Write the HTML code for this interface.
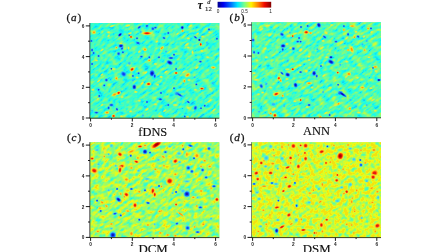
<!DOCTYPE html>
<html lang="en"><head><meta charset="utf-8"><title>Figure</title>
<style>
html,body{margin:0;padding:0;background:#fff;overflow:hidden}
body{width:448px;height:252px}
svg{display:block}
text{fill:#111}
.tk{font-family:"Liberation Sans",sans-serif;font-size:4.7px;font-weight:bold;fill:#222}
.cb{font-family:"Liberation Sans",sans-serif;font-size:4.7px;fill:#222}
.tau{font-family:"Liberation Serif",serif;font-style:italic;font-weight:bold;font-size:12px}
.sup{font-family:"Liberation Serif",serif;font-style:italic;font-size:6.4px;stroke:#111;stroke-width:0.12px}
.sub{font-family:"Liberation Serif",serif;font-size:6.8px;stroke:#111;stroke-width:0.12px}
.pl{font-family:"Liberation Serif",serif;font-size:11.2px;letter-spacing:0.9px;stroke:#111;stroke-width:0.26px}
.it{font-style:italic}
.tt{font-family:"Liberation Serif",serif;font-size:12.4px;stroke:#111;stroke-width:0.15px}
</style></head><body>
<svg width="448" height="252" viewBox="0 0 448 252">
<defs>
<filter id="bl" x="-5%" y="-5%" width="110%" height="110%"><feGaussianBlur stdDeviation="0.55"/></filter>
<linearGradient id="jet" x1="0" x2="1" y1="0" y2="0"><stop offset="0" stop-color="#00008c"/><stop offset="0.11" stop-color="#0000f0"/><stop offset="0.25" stop-color="#0070ff"/><stop offset="0.375" stop-color="#00e8ff"/><stop offset="0.5" stop-color="#78ff88"/><stop offset="0.625" stop-color="#fff400"/><stop offset="0.76" stop-color="#ff7c00"/><stop offset="0.875" stop-color="#f00800"/><stop offset="1" stop-color="#840000"/></linearGradient>
<filter id="txa" x="0" y="0" width="100%" height="100%" color-interpolation-filters="sRGB"><feTurbulence type="fractalNoise" baseFrequency="0.17 0.38" numOctaves="3" seed="11"/><feColorMatrix type="matrix" values="1 0 0 0 0 1 0 0 0 0 1 0 0 0 0 0 0 0 0 1"/><feComponentTransfer><feFuncR type="table" tableValues="0.07 0.07 0.07 0.07 0.07 0.07 0.07 0.07 0.07 0.07 0.07 0.07 0.07 0.07 0.07 0.09 0.12 0.15 0.19 0.22 0.25 0.29 0.32 0.35 0.39 0.42 0.45 0.49 0.52 0.55 0.59 0.62 0.65 0.69 0.72 0.75 0.79 0.82 0.85 0.89 0.92"/><feFuncG type="table" tableValues="0.72 0.72 0.72 0.72 0.72 0.72 0.72 0.74 0.77 0.81 0.84 0.87 0.91 0.94 0.97 0.99 0.99 0.99 0.99 0.99 0.99 0.99 0.99 0.99 0.99 0.99 0.99 0.99 0.99 0.99 0.99 0.99 0.99 0.99 0.99 0.99 0.99 0.99 0.99 0.99 0.99"/><feFuncB type="table" tableValues="0.95 0.95 0.95 0.95 0.95 0.95 0.95 0.95 0.95 0.95 0.95 0.95 0.95 0.95 0.95 0.93 0.89 0.86 0.83 0.79 0.76 0.73 0.69 0.66 0.63 0.59 0.56 0.53 0.49 0.46 0.43 0.39 0.36 0.32 0.29 0.26 0.22 0.19 0.16 0.12 0.09"/></feComponentTransfer></filter>
<clipPath id="cpa"><rect x="90" y="23" width="129.3" height="95.2"/></clipPath>
<filter id="txb" x="0" y="0" width="100%" height="100%" color-interpolation-filters="sRGB"><feTurbulence type="fractalNoise" baseFrequency="0.17 0.38" numOctaves="3" seed="23"/><feColorMatrix type="matrix" values="1 0 0 0 0 1 0 0 0 0 1 0 0 0 0 0 0 0 0 1"/><feComponentTransfer><feFuncR type="table" tableValues="0.07 0.07 0.07 0.07 0.07 0.07 0.07 0.07 0.07 0.07 0.07 0.07 0.07 0.07 0.10 0.14 0.18 0.21 0.25 0.29 0.32 0.36 0.40 0.43 0.47 0.51 0.54 0.58 0.62 0.66 0.69 0.73 0.77 0.80 0.84 0.88 0.91 0.95 0.95 0.95 0.95"/><feFuncG type="table" tableValues="0.72 0.72 0.72 0.72 0.72 0.72 0.73 0.76 0.80 0.84 0.88 0.91 0.95 0.99 0.99 0.99 0.99 0.99 0.99 0.99 0.99 0.99 0.99 0.99 0.99 0.99 0.99 0.99 0.99 0.99 0.99 0.99 0.99 0.99 0.99 0.99 0.99 0.98 0.95 0.94 0.94"/><feFuncB type="table" tableValues="0.95 0.95 0.95 0.95 0.95 0.95 0.95 0.95 0.95 0.95 0.95 0.95 0.95 0.95 0.91 0.87 0.84 0.80 0.76 0.73 0.69 0.65 0.62 0.58 0.54 0.50 0.47 0.43 0.39 0.36 0.32 0.28 0.25 0.21 0.17 0.13 0.10 0.07 0.07 0.07 0.07"/></feComponentTransfer></filter>
<clipPath id="cpb"><rect x="251.7" y="22.2" width="129.3" height="95.6"/></clipPath>
<filter id="txc" x="0" y="0" width="100%" height="100%" color-interpolation-filters="sRGB"><feTurbulence type="fractalNoise" baseFrequency="0.17 0.34" numOctaves="3" seed="37"/><feColorMatrix type="matrix" values="1 0 0 0 0 1 0 0 0 0 1 0 0 0 0 0 0 0 0 1"/><feComponentTransfer><feFuncR type="table" tableValues="0.07 0.07 0.07 0.07 0.07 0.07 0.07 0.07 0.10 0.15 0.19 0.23 0.28 0.32 0.37 0.41 0.45 0.50 0.54 0.59 0.63 0.67 0.72 0.76 0.81 0.85 0.89 0.94 0.95 0.95 0.95 0.95 0.95 0.95 0.95 0.95 0.95 0.95 0.95 0.95 0.95"/><feFuncG type="table" tableValues="0.94 0.94 0.94 0.94 0.94 0.94 0.94 0.98 0.99 0.99 0.99 0.99 0.99 0.99 0.99 0.99 0.99 0.99 0.99 0.99 0.99 0.99 0.99 0.99 0.99 0.99 0.99 0.99 0.95 0.91 0.86 0.83 0.83 0.83 0.83 0.83 0.83 0.83 0.83 0.83 0.83"/><feFuncB type="table" tableValues="0.95 0.95 0.95 0.95 0.95 0.95 0.95 0.95 0.91 0.87 0.82 0.78 0.73 0.69 0.65 0.60 0.56 0.51 0.47 0.43 0.38 0.34 0.29 0.25 0.21 0.16 0.12 0.07 0.07 0.07 0.07 0.07 0.07 0.07 0.07 0.07 0.07 0.07 0.07 0.07 0.07"/></feComponentTransfer></filter>
<clipPath id="cpc"><rect x="90" y="142.2" width="129.3" height="95.4"/></clipPath>
<filter id="txd" x="0" y="0" width="100%" height="100%" color-interpolation-filters="sRGB"><feTurbulence type="fractalNoise" baseFrequency="0.23 0.3" numOctaves="3" seed="41"/><feColorMatrix type="matrix" values="1 0 0 0 0 1 0 0 0 0 1 0 0 0 0 0 0 0 0 1"/><feComponentTransfer><feFuncR type="table" tableValues="0.26 0.26 0.26 0.26 0.26 0.26 0.26 0.26 0.29 0.34 0.38 0.43 0.47 0.51 0.56 0.60 0.65 0.69 0.73 0.78 0.82 0.87 0.91 0.95 0.95 0.95 0.95 0.95 0.95 0.95 0.95 0.95 0.95 0.95 0.95 0.95 0.95 0.95 0.95 0.95 0.95"/><feFuncG type="table" tableValues="0.99 0.99 0.99 0.99 0.99 0.99 0.99 0.99 0.99 0.99 0.99 0.99 0.99 0.99 0.99 0.99 0.99 0.99 0.99 0.99 0.99 0.99 0.99 0.98 0.94 0.89 0.89 0.89 0.89 0.89 0.89 0.89 0.89 0.89 0.89 0.89 0.89 0.89 0.89 0.89 0.89"/><feFuncB type="table" tableValues="0.75 0.75 0.75 0.75 0.75 0.75 0.75 0.75 0.72 0.67 0.63 0.59 0.54 0.50 0.45 0.41 0.37 0.32 0.28 0.23 0.19 0.15 0.10 0.07 0.07 0.07 0.07 0.07 0.07 0.07 0.07 0.07 0.07 0.07 0.07 0.07 0.07 0.07 0.07 0.07 0.07"/></feComponentTransfer></filter>
<clipPath id="cpd"><rect x="251.7" y="142.2" width="129.3" height="95.4"/></clipPath>
</defs>
<rect width="448" height="252" fill="#fff"/>
<g clip-path="url(#cpa)">
<rect x="88" y="21" width="133.3" height="99.2" fill="#48e8d0"/>
<g transform="rotate(-35 154.7 70.6)"><rect x="54.7" y="-29.4" width="200" height="200" filter="url(#txa)"/></g>
<g filter="url(#bl)" transform="translate(90 23)">
<ellipse cx="4" cy="9.3" rx="2" ry="2" fill="#d0f250" opacity="0.6"/>
<ellipse cx="4" cy="9.3" rx="1.5" ry="1.5" fill="#ffe41c" opacity="0.95"/>
<ellipse cx="4" cy="9.3" rx="0.9" ry="0.9" fill="#ff9410"/>
<ellipse cx="18.6" cy="9.3" rx="1.8" ry="1.2" fill="#b4f268" opacity="0.6"/>
<ellipse cx="18.6" cy="9.3" rx="1.2" ry="0.8" fill="#f0f030" opacity="0.95"/>
<ellipse cx="18.6" cy="12.9" rx="1.8" ry="0.9" fill="#b4f268" opacity="0.6" transform="rotate(-35 18.6 12.9)"/>
<ellipse cx="18.6" cy="12.9" rx="1.2" ry="0.7" fill="#f0f030" opacity="0.95" transform="rotate(-35 18.6 12.9)"/>
<ellipse cx="22" cy="3" rx="3" ry="0.9" fill="#b4f268" opacity="0.6" transform="rotate(-20 22 3)"/>
<ellipse cx="22" cy="3" rx="2" ry="0.7" fill="#f0f030" opacity="0.95" transform="rotate(-20 22 3)"/>
<ellipse cx="38" cy="2.5" rx="3" ry="1.2" fill="#b4f268" opacity="0.6" transform="rotate(-15 38 2.5)"/>
<ellipse cx="38" cy="2.5" rx="2" ry="0.8" fill="#f0f030" opacity="0.95" transform="rotate(-15 38 2.5)"/>
<ellipse cx="30" cy="11.7" rx="2.9" ry="1.4" fill="#38d0f4" opacity="0.7" transform="rotate(-40 30 11.7)"/>
<ellipse cx="30" cy="11.7" rx="2.2" ry="1.1" fill="#1870ff" opacity="0.95" transform="rotate(-40 30 11.7)"/>
<ellipse cx="30" cy="11.7" rx="1.5" ry="0.8" fill="#0c28e0" transform="rotate(-40 30 11.7)"/>
<ellipse cx="30" cy="11.7" rx="0.8" ry="0.7" fill="#0810b0" transform="rotate(-40 30 11.7)"/>
<ellipse cx="39.3" cy="12.1" rx="1.4" ry="1" fill="#38d0f4" opacity="0.7"/>
<ellipse cx="39.3" cy="12.1" rx="0.9" ry="0.7" fill="#1c84ff" opacity="0.95"/>
<ellipse cx="39.3" cy="12.1" rx="0.7" ry="0.7" fill="#1040f0"/>
<ellipse cx="41" cy="13.9" rx="1.8" ry="1.4" fill="#d8f24c" opacity="0.6"/>
<ellipse cx="41" cy="13.9" rx="1.4" ry="1.1" fill="#ffdc1c" opacity="0.95"/>
<ellipse cx="41" cy="13.9" rx="1.1" ry="0.8" fill="#ff7a10"/>
<ellipse cx="41" cy="13.9" rx="0.7" ry="0.7" fill="#ea1408"/>
<ellipse cx="40" cy="10.3" rx="2.4" ry="0.9" fill="#b4f268" opacity="0.6" transform="rotate(-20 40 10.3)"/>
<ellipse cx="40" cy="10.3" rx="1.6" ry="0.7" fill="#f0f030" opacity="0.95" transform="rotate(-20 40 10.3)"/>
<ellipse cx="57" cy="10.3" rx="5.8" ry="1.8" fill="#d8f24c" opacity="0.6"/>
<ellipse cx="57" cy="10.3" rx="4.6" ry="1.4" fill="#ffdc1c" opacity="0.95"/>
<ellipse cx="57" cy="10.3" rx="3.4" ry="1.1" fill="#ff7a10"/>
<ellipse cx="57" cy="10.3" rx="2.2" ry="0.7" fill="#ea1408"/>
<ellipse cx="49.3" cy="4.3" rx="2.7" ry="1.4" fill="#38d0f4" opacity="0.7" transform="rotate(-35 49.3 4.3)"/>
<ellipse cx="49.3" cy="4.3" rx="1.9" ry="0.9" fill="#1c84ff" opacity="0.95" transform="rotate(-35 49.3 4.3)"/>
<ellipse cx="49.3" cy="4.3" rx="1.1" ry="0.7" fill="#1040f0" transform="rotate(-35 49.3 4.3)"/>
<ellipse cx="57" cy="2.9" rx="2" ry="1.4" fill="#38d0f4" opacity="0.7" transform="rotate(-20 57 2.9)"/>
<ellipse cx="57" cy="2.9" rx="1.4" ry="0.9" fill="#1c84ff" opacity="0.95" transform="rotate(-20 57 2.9)"/>
<ellipse cx="57" cy="2.9" rx="0.8" ry="0.7" fill="#1040f0" transform="rotate(-20 57 2.9)"/>
<ellipse cx="62.9" cy="5.7" rx="2" ry="2" fill="#38d0f4" opacity="0.7"/>
<ellipse cx="62.9" cy="5.7" rx="1.4" ry="1.4" fill="#1c84ff" opacity="0.95"/>
<ellipse cx="62.9" cy="5.7" rx="0.8" ry="0.8" fill="#1040f0"/>
<ellipse cx="50.7" cy="8.9" rx="1.1" ry="1.1" fill="#3cd4f4" opacity="0.7"/>
<ellipse cx="50.7" cy="8.9" rx="0.8" ry="0.8" fill="#2cb4ff" opacity="0.9"/>
<ellipse cx="47" cy="15.3" rx="1.4" ry="1.4" fill="#38d0f4" opacity="0.7"/>
<ellipse cx="47" cy="15.3" rx="0.9" ry="0.9" fill="#1c84ff" opacity="0.95"/>
<ellipse cx="47" cy="15.3" rx="0.7" ry="0.7" fill="#1040f0"/>
<ellipse cx="47.9" cy="20" rx="2.7" ry="1.4" fill="#38d0f4" opacity="0.7" transform="rotate(10 47.9 20)"/>
<ellipse cx="47.9" cy="20" rx="1.9" ry="0.9" fill="#1c84ff" opacity="0.95" transform="rotate(10 47.9 20)"/>
<ellipse cx="47.9" cy="20" rx="1.1" ry="0.7" fill="#1040f0" transform="rotate(10 47.9 20)"/>
<ellipse cx="1.4" cy="17.9" rx="1.4" ry="1.4" fill="#38d0f4" opacity="0.7"/>
<ellipse cx="1.4" cy="17.9" rx="0.9" ry="0.9" fill="#1c84ff" opacity="0.95"/>
<ellipse cx="1.4" cy="17.9" rx="0.7" ry="0.7" fill="#1040f0"/>
<ellipse cx="31" cy="22.9" rx="2.9" ry="2.2" fill="#38d0f4" opacity="0.7"/>
<ellipse cx="31" cy="22.9" rx="2.2" ry="1.7" fill="#1870ff" opacity="0.95"/>
<ellipse cx="31" cy="22.9" rx="1.5" ry="1.1" fill="#0c28e0"/>
<ellipse cx="31" cy="22.9" rx="0.8" ry="0.7" fill="#0810b0"/>
<ellipse cx="32" cy="25.5" rx="1.4" ry="2" fill="#38d0f4" opacity="0.7" transform="rotate(20 32 25.5)"/>
<ellipse cx="32" cy="25.5" rx="0.9" ry="1.4" fill="#1c84ff" opacity="0.95" transform="rotate(20 32 25.5)"/>
<ellipse cx="32" cy="25.5" rx="0.7" ry="0.8" fill="#1040f0" transform="rotate(20 32 25.5)"/>
<ellipse cx="30.7" cy="20.4" rx="1.8" ry="0.9" fill="#b4f268" opacity="0.6"/>
<ellipse cx="30.7" cy="20.4" rx="1.2" ry="0.7" fill="#f0f030" opacity="0.95"/>
<ellipse cx="26.4" cy="24.6" rx="1.4" ry="1.4" fill="#d0f250" opacity="0.6"/>
<ellipse cx="26.4" cy="24.6" rx="1" ry="1" fill="#ffe41c" opacity="0.95"/>
<ellipse cx="26.4" cy="24.6" rx="0.7" ry="0.7" fill="#ff9410"/>
<ellipse cx="38.6" cy="25" rx="1.2" ry="1.8" fill="#b4f268" opacity="0.6"/>
<ellipse cx="38.6" cy="25" rx="0.8" ry="1.2" fill="#f0f030" opacity="0.95"/>
<ellipse cx="2.1" cy="27.1" rx="1.4" ry="2" fill="#38d0f4" opacity="0.7"/>
<ellipse cx="2.1" cy="27.1" rx="0.9" ry="1.4" fill="#1c84ff" opacity="0.95"/>
<ellipse cx="2.1" cy="27.1" rx="0.7" ry="0.8" fill="#1040f0"/>
<ellipse cx="3.6" cy="30" rx="1.4" ry="1.4" fill="#38d0f4" opacity="0.7"/>
<ellipse cx="3.6" cy="30" rx="0.9" ry="0.9" fill="#1c84ff" opacity="0.95"/>
<ellipse cx="3.6" cy="30" rx="0.7" ry="0.7" fill="#1040f0"/>
<ellipse cx="8.6" cy="33" rx="1.4" ry="1.4" fill="#38d0f4" opacity="0.7"/>
<ellipse cx="8.6" cy="33" rx="0.9" ry="0.9" fill="#1c84ff" opacity="0.95"/>
<ellipse cx="8.6" cy="33" rx="0.7" ry="0.7" fill="#1040f0"/>
<ellipse cx="28.6" cy="30.7" rx="2" ry="2" fill="#38d0f4" opacity="0.7"/>
<ellipse cx="28.6" cy="30.7" rx="1.4" ry="1.4" fill="#1c84ff" opacity="0.95"/>
<ellipse cx="28.6" cy="30.7" rx="0.8" ry="0.8" fill="#1040f0"/>
<ellipse cx="32.9" cy="29.3" rx="1.4" ry="1.4" fill="#38d0f4" opacity="0.7"/>
<ellipse cx="32.9" cy="29.3" rx="0.9" ry="0.9" fill="#1c84ff" opacity="0.95"/>
<ellipse cx="32.9" cy="29.3" rx="0.7" ry="0.7" fill="#1040f0"/>
<ellipse cx="55" cy="26.4" rx="2" ry="2" fill="#d0f250" opacity="0.6"/>
<ellipse cx="55" cy="26.4" rx="1.5" ry="1.5" fill="#ffe41c" opacity="0.95"/>
<ellipse cx="55" cy="26.4" rx="0.9" ry="0.9" fill="#ff9410"/>
<ellipse cx="49.3" cy="28.6" rx="1.8" ry="1.2" fill="#b4f268" opacity="0.6" transform="rotate(-35 49.3 28.6)"/>
<ellipse cx="49.3" cy="28.6" rx="1.2" ry="0.8" fill="#f0f030" opacity="0.95" transform="rotate(-35 49.3 28.6)"/>
<ellipse cx="51.4" cy="33.6" rx="2" ry="1.4" fill="#38d0f4" opacity="0.7"/>
<ellipse cx="51.4" cy="33.6" rx="1.4" ry="0.9" fill="#1c84ff" opacity="0.95"/>
<ellipse cx="51.4" cy="33.6" rx="0.8" ry="0.7" fill="#1040f0"/>
<ellipse cx="59.3" cy="34.3" rx="1.4" ry="1.4" fill="#38d0f4" opacity="0.7"/>
<ellipse cx="59.3" cy="34.3" rx="0.9" ry="0.9" fill="#1c84ff" opacity="0.95"/>
<ellipse cx="59.3" cy="34.3" rx="0.7" ry="0.7" fill="#1040f0"/>
<ellipse cx="12" cy="27" rx="2.4" ry="0.9" fill="#b4f268" opacity="0.6" transform="rotate(-35 12 27)"/>
<ellipse cx="12" cy="27" rx="1.6" ry="0.7" fill="#f0f030" opacity="0.95" transform="rotate(-35 12 27)"/>
<ellipse cx="65.4" cy="4.6" rx="2" ry="1.4" fill="#38d0f4" opacity="0.7"/>
<ellipse cx="65.4" cy="4.6" rx="1.4" ry="0.9" fill="#1c84ff" opacity="0.95"/>
<ellipse cx="65.4" cy="4.6" rx="0.8" ry="0.7" fill="#1040f0"/>
<ellipse cx="92.3" cy="4.6" rx="1.8" ry="2.2" fill="#38d0f4" opacity="0.7"/>
<ellipse cx="92.3" cy="4.6" rx="1.4" ry="1.7" fill="#1870ff" opacity="0.95"/>
<ellipse cx="92.3" cy="4.6" rx="0.9" ry="1.1" fill="#0c28e0"/>
<ellipse cx="92.3" cy="4.6" rx="0.7" ry="0.7" fill="#0810b0"/>
<ellipse cx="92.6" cy="7.9" rx="1.4" ry="1" fill="#d0f250" opacity="0.6"/>
<ellipse cx="92.6" cy="7.9" rx="1" ry="0.8" fill="#ffe41c" opacity="0.95"/>
<ellipse cx="92.6" cy="7.9" rx="0.7" ry="0.7" fill="#ff9410"/>
<ellipse cx="100.4" cy="3.1" rx="3" ry="0.9" fill="#b4f268" opacity="0.6" transform="rotate(-30 100.4 3.1)"/>
<ellipse cx="100.4" cy="3.1" rx="2" ry="0.7" fill="#f0f030" opacity="0.95" transform="rotate(-30 100.4 3.1)"/>
<ellipse cx="78.3" cy="10" rx="1.4" ry="1.4" fill="#38d0f4" opacity="0.7"/>
<ellipse cx="78.3" cy="10" rx="0.9" ry="0.9" fill="#1c84ff" opacity="0.95"/>
<ellipse cx="78.3" cy="10" rx="0.7" ry="0.7" fill="#1040f0"/>
<ellipse cx="74" cy="15" rx="2" ry="1.4" fill="#38d0f4" opacity="0.7" transform="rotate(30 74 15)"/>
<ellipse cx="74" cy="15" rx="1.4" ry="0.9" fill="#1c84ff" opacity="0.95" transform="rotate(30 74 15)"/>
<ellipse cx="74" cy="15" rx="0.8" ry="0.7" fill="#1040f0" transform="rotate(30 74 15)"/>
<ellipse cx="119" cy="6.4" rx="1.4" ry="1.4" fill="#38d0f4" opacity="0.7"/>
<ellipse cx="119" cy="6.4" rx="0.9" ry="0.9" fill="#1c84ff" opacity="0.95"/>
<ellipse cx="119" cy="6.4" rx="0.7" ry="0.7" fill="#1040f0"/>
<ellipse cx="119.7" cy="9.3" rx="1.8" ry="1.2" fill="#b4f268" opacity="0.6"/>
<ellipse cx="119.7" cy="9.3" rx="1.2" ry="0.8" fill="#f0f030" opacity="0.95"/>
<ellipse cx="107.6" cy="10.7" rx="1.8" ry="0.9" fill="#b4f268" opacity="0.6" transform="rotate(-35 107.6 10.7)"/>
<ellipse cx="107.6" cy="10.7" rx="1.2" ry="0.7" fill="#f0f030" opacity="0.95" transform="rotate(-35 107.6 10.7)"/>
<ellipse cx="105.4" cy="14.3" rx="2.7" ry="1" fill="#38d0f4" opacity="0.7" transform="rotate(35 105.4 14.3)"/>
<ellipse cx="105.4" cy="14.3" rx="1.9" ry="0.7" fill="#1c84ff" opacity="0.95" transform="rotate(35 105.4 14.3)"/>
<ellipse cx="105.4" cy="14.3" rx="1.1" ry="0.7" fill="#1040f0" transform="rotate(35 105.4 14.3)"/>
<ellipse cx="109.4" cy="16.9" rx="1.4" ry="1.4" fill="#38d0f4" opacity="0.7"/>
<ellipse cx="109.4" cy="16.9" rx="1.1" ry="1.1" fill="#1870ff" opacity="0.95"/>
<ellipse cx="109.4" cy="16.9" rx="0.8" ry="0.8" fill="#0c28e0"/>
<ellipse cx="109.4" cy="16.9" rx="0.7" ry="0.7" fill="#0810b0"/>
<ellipse cx="110.7" cy="21.4" rx="1.4" ry="2.2" fill="#d8f24c" opacity="0.6"/>
<ellipse cx="110.7" cy="21.4" rx="1.1" ry="1.7" fill="#ffdc1c" opacity="0.95"/>
<ellipse cx="110.7" cy="21.4" rx="0.8" ry="1.3" fill="#ff7a10"/>
<ellipse cx="110.7" cy="21.4" rx="0.7" ry="0.8" fill="#ea1408"/>
<ellipse cx="98.3" cy="15.4" rx="1.8" ry="1.2" fill="#b4f268" opacity="0.6"/>
<ellipse cx="98.3" cy="15.4" rx="1.2" ry="0.8" fill="#f0f030" opacity="0.95"/>
<ellipse cx="96.9" cy="21.4" rx="3" ry="1.2" fill="#b4f268" opacity="0.6" transform="rotate(-35 96.9 21.4)"/>
<ellipse cx="96.9" cy="21.4" rx="2" ry="0.8" fill="#f0f030" opacity="0.95" transform="rotate(-35 96.9 21.4)"/>
<ellipse cx="98.3" cy="24.6" rx="1.8" ry="1.2" fill="#b4f268" opacity="0.6"/>
<ellipse cx="98.3" cy="24.6" rx="1.2" ry="0.8" fill="#f0f030" opacity="0.95"/>
<ellipse cx="71.9" cy="25" rx="2.7" ry="1.4" fill="#d0f250" opacity="0.6" transform="rotate(-35 71.9 25)"/>
<ellipse cx="71.9" cy="25" rx="2" ry="1" fill="#ffe41c" opacity="0.95" transform="rotate(-35 71.9 25)"/>
<ellipse cx="71.9" cy="25" rx="1.2" ry="0.7" fill="#ff9410" transform="rotate(-35 71.9 25)"/>
<ellipse cx="66.9" cy="18.6" rx="1.8" ry="0.9" fill="#b4f268" opacity="0.6" transform="rotate(-35 66.9 18.6)"/>
<ellipse cx="66.9" cy="18.6" rx="1.2" ry="0.7" fill="#f0f030" opacity="0.95" transform="rotate(-35 66.9 18.6)"/>
<ellipse cx="102.6" cy="29.3" rx="1.2" ry="2.4" fill="#b4f268" opacity="0.6"/>
<ellipse cx="102.6" cy="29.3" rx="0.8" ry="1.6" fill="#f0f030" opacity="0.95"/>
<ellipse cx="84" cy="31.7" rx="1.4" ry="1.4" fill="#38d0f4" opacity="0.7"/>
<ellipse cx="84" cy="31.7" rx="0.9" ry="0.9" fill="#1c84ff" opacity="0.95"/>
<ellipse cx="84" cy="31.7" rx="0.7" ry="0.7" fill="#1040f0"/>
<ellipse cx="81" cy="35" rx="3.4" ry="1.4" fill="#38d0f4" opacity="0.7"/>
<ellipse cx="81" cy="35" rx="2.4" ry="0.9" fill="#1c84ff" opacity="0.95"/>
<ellipse cx="81" cy="35" rx="1.4" ry="0.7" fill="#1040f0"/>
<ellipse cx="69" cy="34.3" rx="1.4" ry="1.4" fill="#38d0f4" opacity="0.7"/>
<ellipse cx="69" cy="34.3" rx="0.9" ry="0.9" fill="#1c84ff" opacity="0.95"/>
<ellipse cx="69" cy="34.3" rx="0.7" ry="0.7" fill="#1040f0"/>
<ellipse cx="76" cy="28.6" rx="1.1" ry="1.1" fill="#3cd4f4" opacity="0.7"/>
<ellipse cx="76" cy="28.6" rx="0.8" ry="0.8" fill="#2cb4ff" opacity="0.9"/>
<ellipse cx="116.9" cy="19.7" rx="1.1" ry="1.1" fill="#3cd4f4" opacity="0.7"/>
<ellipse cx="116.9" cy="19.7" rx="0.8" ry="0.8" fill="#2cb4ff" opacity="0.9"/>
<ellipse cx="119" cy="25" rx="1.1" ry="1.1" fill="#3cd4f4" opacity="0.7"/>
<ellipse cx="119" cy="25" rx="0.8" ry="0.8" fill="#2cb4ff" opacity="0.9"/>
<ellipse cx="111.9" cy="27.9" rx="1.8" ry="1.2" fill="#b4f268" opacity="0.6"/>
<ellipse cx="111.9" cy="27.9" rx="1.2" ry="0.8" fill="#f0f030" opacity="0.95"/>
<ellipse cx="117.6" cy="34.3" rx="1.8" ry="1.2" fill="#b4f268" opacity="0.6"/>
<ellipse cx="117.6" cy="34.3" rx="1.2" ry="0.8" fill="#f0f030" opacity="0.95"/>
<ellipse cx="112.6" cy="13.6" rx="1.8" ry="1.2" fill="#b4f268" opacity="0.6"/>
<ellipse cx="112.6" cy="13.6" rx="1.2" ry="0.8" fill="#f0f030" opacity="0.95"/>
<ellipse cx="126.9" cy="15.7" rx="1.4" ry="1.4" fill="#38d0f4" opacity="0.7"/>
<ellipse cx="126.9" cy="15.7" rx="0.9" ry="0.9" fill="#1c84ff" opacity="0.95"/>
<ellipse cx="126.9" cy="15.7" rx="0.7" ry="0.7" fill="#1040f0"/>
<ellipse cx="87.6" cy="10.7" rx="1.8" ry="0.9" fill="#b4f268" opacity="0.6" transform="rotate(-35 87.6 10.7)"/>
<ellipse cx="87.6" cy="10.7" rx="1.2" ry="0.7" fill="#f0f030" opacity="0.95" transform="rotate(-35 87.6 10.7)"/>
<ellipse cx="6.4" cy="37.4" rx="1.8" ry="1.2" fill="#b4f268" opacity="0.6"/>
<ellipse cx="6.4" cy="37.4" rx="1.2" ry="0.8" fill="#f0f030" opacity="0.95"/>
<ellipse cx="2.1" cy="41" rx="1.4" ry="1.4" fill="#38d0f4" opacity="0.7"/>
<ellipse cx="2.1" cy="41" rx="0.9" ry="0.9" fill="#1c84ff" opacity="0.95"/>
<ellipse cx="2.1" cy="41" rx="0.7" ry="0.7" fill="#1040f0"/>
<ellipse cx="39.3" cy="40.3" rx="1.7" ry="1.7" fill="#3cd4f4" opacity="0.7"/>
<ellipse cx="39.3" cy="40.3" rx="1.1" ry="1.1" fill="#2cb4ff" opacity="0.9"/>
<ellipse cx="42.1" cy="46.3" rx="2.9" ry="2.2" fill="#d8f24c" opacity="0.6" transform="rotate(-35 42.1 46.3)"/>
<ellipse cx="42.1" cy="46.3" rx="2.3" ry="1.7" fill="#ffdc1c" opacity="0.95" transform="rotate(-35 42.1 46.3)"/>
<ellipse cx="42.1" cy="46.3" rx="1.7" ry="1.3" fill="#ff7a10" transform="rotate(-35 42.1 46.3)"/>
<ellipse cx="42.1" cy="46.3" rx="1.1" ry="0.8" fill="#ea1408" transform="rotate(-35 42.1 46.3)"/>
<ellipse cx="23.6" cy="46" rx="2.4" ry="1.2" fill="#b4f268" opacity="0.6"/>
<ellipse cx="23.6" cy="46" rx="1.6" ry="0.8" fill="#f0f030" opacity="0.95"/>
<ellipse cx="21.4" cy="45.7" rx="1" ry="1" fill="#38d0f4" opacity="0.7"/>
<ellipse cx="21.4" cy="45.7" rx="0.7" ry="0.7" fill="#1c84ff" opacity="0.95"/>
<ellipse cx="21.4" cy="45.7" rx="0.7" ry="0.7" fill="#1040f0"/>
<ellipse cx="33.6" cy="51" rx="3.4" ry="2.7" fill="#38d0f4" opacity="0.7" transform="rotate(30 33.6 51)"/>
<ellipse cx="33.6" cy="51" rx="2.4" ry="1.9" fill="#1c84ff" opacity="0.95" transform="rotate(30 33.6 51)"/>
<ellipse cx="33.6" cy="51" rx="1.4" ry="1.1" fill="#1040f0" transform="rotate(30 33.6 51)"/>
<ellipse cx="42.9" cy="52.9" rx="1.4" ry="1.4" fill="#38d0f4" opacity="0.7"/>
<ellipse cx="42.9" cy="52.9" rx="0.9" ry="0.9" fill="#1c84ff" opacity="0.95"/>
<ellipse cx="42.9" cy="52.9" rx="0.7" ry="0.7" fill="#1040f0"/>
<ellipse cx="48.6" cy="50.3" rx="1.4" ry="1.4" fill="#38d0f4" opacity="0.7"/>
<ellipse cx="48.6" cy="50.3" rx="0.9" ry="0.9" fill="#1c84ff" opacity="0.95"/>
<ellipse cx="48.6" cy="50.3" rx="0.7" ry="0.7" fill="#1040f0"/>
<ellipse cx="47.1" cy="54.6" rx="1.8" ry="1.2" fill="#b4f268" opacity="0.6"/>
<ellipse cx="47.1" cy="54.6" rx="1.2" ry="0.8" fill="#f0f030" opacity="0.95"/>
<ellipse cx="55.7" cy="49.6" rx="2.4" ry="1.2" fill="#b4f268" opacity="0.6" transform="rotate(-35 55.7 49.6)"/>
<ellipse cx="55.7" cy="49.6" rx="1.6" ry="0.8" fill="#f0f030" opacity="0.95" transform="rotate(-35 55.7 49.6)"/>
<ellipse cx="62.1" cy="50.3" rx="2.9" ry="3.6" fill="#38d0f4" opacity="0.7"/>
<ellipse cx="62.1" cy="50.3" rx="2.2" ry="2.8" fill="#1870ff" opacity="0.95"/>
<ellipse cx="62.1" cy="50.3" rx="1.5" ry="1.9" fill="#0c28e0"/>
<ellipse cx="62.1" cy="50.3" rx="0.8" ry="1" fill="#0810b0"/>
<ellipse cx="59.3" cy="37.4" rx="2" ry="1.4" fill="#d0f250" opacity="0.6"/>
<ellipse cx="59.3" cy="37.4" rx="1.5" ry="1" fill="#ffe41c" opacity="0.95"/>
<ellipse cx="59.3" cy="37.4" rx="0.9" ry="0.7" fill="#ff9410"/>
<ellipse cx="26.4" cy="55.3" rx="1.7" ry="2" fill="#d0f250" opacity="0.6"/>
<ellipse cx="26.4" cy="55.3" rx="1.2" ry="1.5" fill="#ffe41c" opacity="0.95"/>
<ellipse cx="26.4" cy="55.3" rx="0.8" ry="0.9" fill="#ff9410"/>
<ellipse cx="16.4" cy="57.1" rx="2" ry="2" fill="#38d0f4" opacity="0.7"/>
<ellipse cx="16.4" cy="57.1" rx="1.4" ry="1.4" fill="#1c84ff" opacity="0.95"/>
<ellipse cx="16.4" cy="57.1" rx="0.8" ry="0.8" fill="#1040f0"/>
<ellipse cx="14.3" cy="62.4" rx="1.4" ry="1.4" fill="#38d0f4" opacity="0.7"/>
<ellipse cx="14.3" cy="62.4" rx="0.9" ry="0.9" fill="#1c84ff" opacity="0.95"/>
<ellipse cx="14.3" cy="62.4" rx="0.7" ry="0.7" fill="#1040f0"/>
<ellipse cx="42.9" cy="57.4" rx="1.1" ry="1.1" fill="#3cd4f4" opacity="0.7"/>
<ellipse cx="42.9" cy="57.4" rx="0.8" ry="0.8" fill="#2cb4ff" opacity="0.9"/>
<ellipse cx="58.6" cy="61" rx="2.9" ry="1.8" fill="#d8f24c" opacity="0.6"/>
<ellipse cx="58.6" cy="61" rx="2.3" ry="1.4" fill="#ffdc1c" opacity="0.95"/>
<ellipse cx="58.6" cy="61" rx="1.7" ry="1.1" fill="#ff7a10"/>
<ellipse cx="58.6" cy="61" rx="1.1" ry="0.7" fill="#ea1408"/>
<ellipse cx="52.1" cy="60.3" rx="2.4" ry="1.2" fill="#b4f268" opacity="0.6" transform="rotate(-35 52.1 60.3)"/>
<ellipse cx="52.1" cy="60.3" rx="1.6" ry="0.8" fill="#f0f030" opacity="0.95" transform="rotate(-35 52.1 60.3)"/>
<ellipse cx="44.3" cy="63.9" rx="2.2" ry="2.9" fill="#38d0f4" opacity="0.7"/>
<ellipse cx="44.3" cy="63.9" rx="1.7" ry="2.2" fill="#1870ff" opacity="0.95"/>
<ellipse cx="44.3" cy="63.9" rx="1.1" ry="1.5" fill="#0c28e0"/>
<ellipse cx="44.3" cy="63.9" rx="0.7" ry="0.8" fill="#0810b0"/>
<ellipse cx="8.6" cy="66.7" rx="1.4" ry="1.4" fill="#38d0f4" opacity="0.7"/>
<ellipse cx="8.6" cy="66.7" rx="0.9" ry="0.9" fill="#1c84ff" opacity="0.95"/>
<ellipse cx="8.6" cy="66.7" rx="0.7" ry="0.7" fill="#1040f0"/>
<ellipse cx="2.9" cy="66.7" rx="1.8" ry="1.2" fill="#b4f268" opacity="0.6"/>
<ellipse cx="2.9" cy="66.7" rx="1.2" ry="0.8" fill="#f0f030" opacity="0.95"/>
<ellipse cx="27.9" cy="70.3" rx="2.9" ry="1.4" fill="#d8f24c" opacity="0.6" transform="rotate(-15 27.9 70.3)"/>
<ellipse cx="27.9" cy="70.3" rx="2.3" ry="1.1" fill="#ffdc1c" opacity="0.95" transform="rotate(-15 27.9 70.3)"/>
<ellipse cx="27.9" cy="70.3" rx="1.7" ry="0.8" fill="#ff7a10" transform="rotate(-15 27.9 70.3)"/>
<ellipse cx="27.9" cy="70.3" rx="1.1" ry="0.7" fill="#ea1408" transform="rotate(-15 27.9 70.3)"/>
<ellipse cx="45.7" cy="68.9" rx="1.8" ry="1.2" fill="#b4f268" opacity="0.6"/>
<ellipse cx="45.7" cy="68.9" rx="1.2" ry="0.8" fill="#f0f030" opacity="0.95"/>
<ellipse cx="8.6" cy="58" rx="2.4" ry="0.9" fill="#b4f268" opacity="0.6" transform="rotate(-35 8.6 58)"/>
<ellipse cx="8.6" cy="58" rx="1.6" ry="0.7" fill="#f0f030" opacity="0.95" transform="rotate(-35 8.6 58)"/>
<ellipse cx="12" cy="51.7" rx="1.8" ry="0.9" fill="#b4f268" opacity="0.6" transform="rotate(-35 12 51.7)"/>
<ellipse cx="12" cy="51.7" rx="1.2" ry="0.7" fill="#f0f030" opacity="0.95" transform="rotate(-35 12 51.7)"/>
<ellipse cx="79.7" cy="39.6" rx="3.6" ry="2.2" fill="#38d0f4" opacity="0.7" transform="rotate(25 79.7 39.6)"/>
<ellipse cx="79.7" cy="39.6" rx="2.8" ry="1.7" fill="#1870ff" opacity="0.95" transform="rotate(25 79.7 39.6)"/>
<ellipse cx="79.7" cy="39.6" rx="1.9" ry="1.1" fill="#0c28e0" transform="rotate(25 79.7 39.6)"/>
<ellipse cx="79.7" cy="39.6" rx="1" ry="0.7" fill="#0810b0" transform="rotate(25 79.7 39.6)"/>
<ellipse cx="110.4" cy="38.6" rx="2" ry="1.4" fill="#38d0f4" opacity="0.7"/>
<ellipse cx="110.4" cy="38.6" rx="1.4" ry="0.9" fill="#1c84ff" opacity="0.95"/>
<ellipse cx="110.4" cy="38.6" rx="0.8" ry="0.7" fill="#1040f0"/>
<ellipse cx="65.4" cy="41" rx="1.8" ry="1.2" fill="#b4f268" opacity="0.6"/>
<ellipse cx="65.4" cy="41" rx="1.2" ry="0.8" fill="#f0f030" opacity="0.95"/>
<ellipse cx="123.3" cy="44.6" rx="2.7" ry="1.4" fill="#d0f250" opacity="0.6"/>
<ellipse cx="123.3" cy="44.6" rx="2" ry="1" fill="#ffe41c" opacity="0.95"/>
<ellipse cx="123.3" cy="44.6" rx="1.2" ry="0.7" fill="#ff9410"/>
<ellipse cx="106.9" cy="44.6" rx="2.4" ry="1.2" fill="#b4f268" opacity="0.6" transform="rotate(-35 106.9 44.6)"/>
<ellipse cx="106.9" cy="44.6" rx="1.6" ry="0.8" fill="#f0f030" opacity="0.95" transform="rotate(-35 106.9 44.6)"/>
<ellipse cx="86.1" cy="46" rx="1" ry="1" fill="#38d0f4" opacity="0.7"/>
<ellipse cx="86.1" cy="46" rx="0.7" ry="0.7" fill="#1c84ff" opacity="0.95"/>
<ellipse cx="86.1" cy="46" rx="0.7" ry="0.7" fill="#1040f0"/>
<ellipse cx="86.1" cy="50" rx="2.2" ry="1.4" fill="#d8f24c" opacity="0.6"/>
<ellipse cx="86.1" cy="50" rx="1.7" ry="1.1" fill="#ffdc1c" opacity="0.95"/>
<ellipse cx="86.1" cy="50" rx="1.3" ry="0.8" fill="#ff7a10"/>
<ellipse cx="86.1" cy="50" rx="0.8" ry="0.7" fill="#ea1408"/>
<ellipse cx="97.6" cy="52" rx="3.4" ry="2" fill="#d0f250" opacity="0.6" transform="rotate(-35 97.6 52)"/>
<ellipse cx="97.6" cy="52" rx="2.5" ry="1.5" fill="#ffe41c" opacity="0.95" transform="rotate(-35 97.6 52)"/>
<ellipse cx="97.6" cy="52" rx="1.5" ry="0.9" fill="#ff9410" transform="rotate(-35 97.6 52)"/>
<ellipse cx="94" cy="48.9" rx="3" ry="0.9" fill="#b4f268" opacity="0.6" transform="rotate(-35 94 48.9)"/>
<ellipse cx="94" cy="48.9" rx="2" ry="0.7" fill="#f0f030" opacity="0.95" transform="rotate(-35 94 48.9)"/>
<ellipse cx="94.4" cy="57.9" rx="1.4" ry="2" fill="#d0f250" opacity="0.6"/>
<ellipse cx="94.4" cy="57.9" rx="1" ry="1.5" fill="#ffe41c" opacity="0.95"/>
<ellipse cx="94.4" cy="57.9" rx="0.7" ry="0.9" fill="#ff9410"/>
<ellipse cx="99" cy="57.1" rx="1.8" ry="1.2" fill="#b4f268" opacity="0.6"/>
<ellipse cx="99" cy="57.1" rx="1.2" ry="0.8" fill="#f0f030" opacity="0.95"/>
<ellipse cx="64.7" cy="53.1" rx="1.4" ry="2.7" fill="#38d0f4" opacity="0.7"/>
<ellipse cx="64.7" cy="53.1" rx="0.9" ry="1.9" fill="#1c84ff" opacity="0.95"/>
<ellipse cx="64.7" cy="53.1" rx="0.7" ry="1.1" fill="#1040f0"/>
<ellipse cx="71.1" cy="53.9" rx="1.8" ry="1.2" fill="#b4f268" opacity="0.6"/>
<ellipse cx="71.1" cy="53.9" rx="1.2" ry="0.8" fill="#f0f030" opacity="0.95"/>
<ellipse cx="104.7" cy="54.3" rx="1.1" ry="1.1" fill="#3cd4f4" opacity="0.7"/>
<ellipse cx="104.7" cy="54.3" rx="0.8" ry="0.8" fill="#2cb4ff" opacity="0.9"/>
<ellipse cx="106.4" cy="61.4" rx="1.4" ry="1.4" fill="#38d0f4" opacity="0.7"/>
<ellipse cx="106.4" cy="61.4" rx="0.9" ry="0.9" fill="#1c84ff" opacity="0.95"/>
<ellipse cx="106.4" cy="61.4" rx="0.7" ry="0.7" fill="#1040f0"/>
<ellipse cx="111.9" cy="65.6" rx="2.9" ry="1.4" fill="#d8f24c" opacity="0.6"/>
<ellipse cx="111.9" cy="65.6" rx="2.3" ry="1.1" fill="#ffdc1c" opacity="0.95"/>
<ellipse cx="111.9" cy="65.6" rx="1.7" ry="0.8" fill="#ff7a10"/>
<ellipse cx="111.9" cy="65.6" rx="1.1" ry="0.7" fill="#ea1408"/>
<ellipse cx="120.4" cy="66" rx="1.8" ry="1.2" fill="#b4f268" opacity="0.6"/>
<ellipse cx="120.4" cy="66" rx="1.2" ry="0.8" fill="#f0f030" opacity="0.95"/>
<ellipse cx="105.4" cy="66.7" rx="1.8" ry="1.2" fill="#b4f268" opacity="0.6"/>
<ellipse cx="105.4" cy="66.7" rx="1.2" ry="0.8" fill="#f0f030" opacity="0.95"/>
<ellipse cx="84" cy="65.3" rx="1" ry="1" fill="#38d0f4" opacity="0.7"/>
<ellipse cx="84" cy="65.3" rx="0.7" ry="0.7" fill="#1c84ff" opacity="0.95"/>
<ellipse cx="84" cy="65.3" rx="0.7" ry="0.7" fill="#1040f0"/>
<ellipse cx="86.9" cy="70.6" rx="2.7" ry="2" fill="#38d0f4" opacity="0.7"/>
<ellipse cx="86.9" cy="70.6" rx="1.9" ry="1.4" fill="#1c84ff" opacity="0.95"/>
<ellipse cx="86.9" cy="70.6" rx="1.1" ry="0.8" fill="#1040f0"/>
<ellipse cx="71.1" cy="69.9" rx="1.1" ry="1.1" fill="#3cd4f4" opacity="0.7"/>
<ellipse cx="71.1" cy="69.9" rx="0.8" ry="0.8" fill="#2cb4ff" opacity="0.9"/>
<ellipse cx="67.6" cy="61.7" rx="1.8" ry="1.2" fill="#b4f268" opacity="0.6"/>
<ellipse cx="67.6" cy="61.7" rx="1.2" ry="0.8" fill="#f0f030" opacity="0.95"/>
<ellipse cx="122.6" cy="60.3" rx="1.1" ry="1.1" fill="#3cd4f4" opacity="0.7"/>
<ellipse cx="122.6" cy="60.3" rx="0.8" ry="0.8" fill="#2cb4ff" opacity="0.9"/>
<ellipse cx="76" cy="48.9" rx="2.4" ry="0.9" fill="#b4f268" opacity="0.6" transform="rotate(-35 76 48.9)"/>
<ellipse cx="76" cy="48.9" rx="1.6" ry="0.7" fill="#f0f030" opacity="0.95" transform="rotate(-35 76 48.9)"/>
<ellipse cx="28.6" cy="69.9" rx="2.5" ry="1.8" fill="#d8f24c" opacity="0.6" transform="rotate(-25 28.6 69.9)"/>
<ellipse cx="28.6" cy="69.9" rx="2" ry="1.4" fill="#ffdc1c" opacity="0.95" transform="rotate(-25 28.6 69.9)"/>
<ellipse cx="28.6" cy="69.9" rx="1.5" ry="1.1" fill="#ff7a10" transform="rotate(-25 28.6 69.9)"/>
<ellipse cx="28.6" cy="69.9" rx="1" ry="0.7" fill="#ea1408" transform="rotate(-25 28.6 69.9)"/>
<ellipse cx="24.5" cy="71.5" rx="3.4" ry="1.4" fill="#d0f250" opacity="0.6" transform="rotate(-25 24.5 71.5)"/>
<ellipse cx="24.5" cy="71.5" rx="2.5" ry="1" fill="#ffe41c" opacity="0.95" transform="rotate(-25 24.5 71.5)"/>
<ellipse cx="24.5" cy="71.5" rx="1.5" ry="0.7" fill="#ff9410" transform="rotate(-25 24.5 71.5)"/>
<ellipse cx="32" cy="74" rx="1.8" ry="1.2" fill="#b4f268" opacity="0.6"/>
<ellipse cx="32" cy="74" rx="1.2" ry="0.8" fill="#f0f030" opacity="0.95"/>
<ellipse cx="9.3" cy="73" rx="1.4" ry="1.4" fill="#38d0f4" opacity="0.7"/>
<ellipse cx="9.3" cy="73" rx="0.9" ry="0.9" fill="#1c84ff" opacity="0.95"/>
<ellipse cx="9.3" cy="73" rx="0.7" ry="0.7" fill="#1040f0"/>
<ellipse cx="21.4" cy="82" rx="2.7" ry="1.7" fill="#38d0f4" opacity="0.7"/>
<ellipse cx="21.4" cy="82" rx="1.9" ry="1.2" fill="#1c84ff" opacity="0.95"/>
<ellipse cx="21.4" cy="82" rx="1.1" ry="0.7" fill="#1040f0"/>
<ellipse cx="18.6" cy="84.9" rx="1.4" ry="2" fill="#38d0f4" opacity="0.7"/>
<ellipse cx="18.6" cy="84.9" rx="0.9" ry="1.4" fill="#1c84ff" opacity="0.95"/>
<ellipse cx="18.6" cy="84.9" rx="0.7" ry="0.8" fill="#1040f0"/>
<ellipse cx="27" cy="86.3" rx="1.4" ry="2" fill="#38d0f4" opacity="0.7" transform="rotate(-30 27 86.3)"/>
<ellipse cx="27" cy="86.3" rx="0.9" ry="1.4" fill="#1c84ff" opacity="0.95" transform="rotate(-30 27 86.3)"/>
<ellipse cx="27" cy="86.3" rx="0.7" ry="0.8" fill="#1040f0" transform="rotate(-30 27 86.3)"/>
<ellipse cx="6.4" cy="89.6" rx="2.7" ry="1.4" fill="#38d0f4" opacity="0.7"/>
<ellipse cx="6.4" cy="89.6" rx="1.9" ry="0.9" fill="#1c84ff" opacity="0.95"/>
<ellipse cx="6.4" cy="89.6" rx="1.1" ry="0.7" fill="#1040f0"/>
<ellipse cx="2" cy="87.7" rx="1.1" ry="1.1" fill="#3cd4f4" opacity="0.7"/>
<ellipse cx="2" cy="87.7" rx="0.8" ry="0.8" fill="#2cb4ff" opacity="0.9"/>
<ellipse cx="17" cy="89.6" rx="2.7" ry="1.7" fill="#d0f250" opacity="0.6"/>
<ellipse cx="17" cy="89.6" rx="2" ry="1.2" fill="#ffe41c" opacity="0.95"/>
<ellipse cx="17" cy="89.6" rx="1.2" ry="0.8" fill="#ff9410"/>
<ellipse cx="23.6" cy="93" rx="2.2" ry="1.8" fill="#d8f24c" opacity="0.6"/>
<ellipse cx="23.6" cy="93" rx="1.7" ry="1.4" fill="#ffdc1c" opacity="0.95"/>
<ellipse cx="23.6" cy="93" rx="1.3" ry="1.1" fill="#ff7a10"/>
<ellipse cx="23.6" cy="93" rx="0.8" ry="0.7" fill="#ea1408"/>
<ellipse cx="57" cy="79" rx="1.4" ry="1.4" fill="#38d0f4" opacity="0.7"/>
<ellipse cx="57" cy="79" rx="0.9" ry="0.9" fill="#1c84ff" opacity="0.95"/>
<ellipse cx="57" cy="79" rx="0.7" ry="0.7" fill="#1040f0"/>
<ellipse cx="55" cy="83.9" rx="1.1" ry="1.1" fill="#3cd4f4" opacity="0.7"/>
<ellipse cx="55" cy="83.9" rx="0.8" ry="0.8" fill="#2cb4ff" opacity="0.9"/>
<ellipse cx="49.3" cy="77.7" rx="1.8" ry="1.2" fill="#b4f268" opacity="0.6"/>
<ellipse cx="49.3" cy="77.7" rx="1.2" ry="0.8" fill="#f0f030" opacity="0.95"/>
<ellipse cx="57" cy="86.3" rx="2.4" ry="1.2" fill="#b4f268" opacity="0.6" transform="rotate(-35 57 86.3)"/>
<ellipse cx="57" cy="86.3" rx="1.6" ry="0.8" fill="#f0f030" opacity="0.95" transform="rotate(-35 57 86.3)"/>
<ellipse cx="40.7" cy="88.4" rx="1.8" ry="1.2" fill="#b4f268" opacity="0.6"/>
<ellipse cx="40.7" cy="88.4" rx="1.2" ry="0.8" fill="#f0f030" opacity="0.95"/>
<ellipse cx="31.4" cy="93.4" rx="1.8" ry="1.2" fill="#b4f268" opacity="0.6"/>
<ellipse cx="31.4" cy="93.4" rx="1.2" ry="0.8" fill="#f0f030" opacity="0.95"/>
<ellipse cx="52.9" cy="92.4" rx="1.1" ry="1.1" fill="#3cd4f4" opacity="0.7"/>
<ellipse cx="52.9" cy="92.4" rx="0.8" ry="0.8" fill="#2cb4ff" opacity="0.9"/>
<ellipse cx="7.9" cy="75.9" rx="1.8" ry="0.9" fill="#b4f268" opacity="0.6" transform="rotate(-35 7.9 75.9)"/>
<ellipse cx="7.9" cy="75.9" rx="1.2" ry="0.7" fill="#f0f030" opacity="0.95" transform="rotate(-35 7.9 75.9)"/>
<ellipse cx="12" cy="82" rx="1.8" ry="0.9" fill="#b4f268" opacity="0.6" transform="rotate(-35 12 82)"/>
<ellipse cx="12" cy="82" rx="1.2" ry="0.7" fill="#f0f030" opacity="0.95" transform="rotate(-35 12 82)"/>
<ellipse cx="89.3" cy="71.7" rx="5.4" ry="1.4" fill="#38d0f4" opacity="0.7" transform="rotate(30 89.3 71.7)"/>
<ellipse cx="89.3" cy="71.7" rx="3.8" ry="0.9" fill="#1c84ff" opacity="0.95" transform="rotate(30 89.3 71.7)"/>
<ellipse cx="89.3" cy="71.7" rx="2.2" ry="0.7" fill="#1040f0" transform="rotate(30 89.3 71.7)"/>
<ellipse cx="70.4" cy="76.3" rx="2.7" ry="1.4" fill="#38d0f4" opacity="0.7"/>
<ellipse cx="70.4" cy="76.3" rx="1.9" ry="0.9" fill="#1c84ff" opacity="0.95"/>
<ellipse cx="70.4" cy="76.3" rx="1.1" ry="0.7" fill="#1040f0"/>
<ellipse cx="71" cy="69.9" rx="1.4" ry="1.4" fill="#38d0f4" opacity="0.7"/>
<ellipse cx="71" cy="69.9" rx="0.9" ry="0.9" fill="#1c84ff" opacity="0.95"/>
<ellipse cx="71" cy="69.9" rx="0.7" ry="0.7" fill="#1040f0"/>
<ellipse cx="78.3" cy="82" rx="1.4" ry="1.4" fill="#38d0f4" opacity="0.7"/>
<ellipse cx="78.3" cy="82" rx="0.9" ry="0.9" fill="#1c84ff" opacity="0.95"/>
<ellipse cx="78.3" cy="82" rx="0.7" ry="0.7" fill="#1040f0"/>
<ellipse cx="85.4" cy="82" rx="3" ry="1.2" fill="#b4f268" opacity="0.6"/>
<ellipse cx="85.4" cy="82" rx="2" ry="0.8" fill="#f0f030" opacity="0.95"/>
<ellipse cx="65.4" cy="81.3" rx="1.8" ry="1.2" fill="#b4f268" opacity="0.6"/>
<ellipse cx="65.4" cy="81.3" rx="1.2" ry="0.8" fill="#f0f030" opacity="0.95"/>
<ellipse cx="98.3" cy="79" rx="2.7" ry="1" fill="#38d0f4" opacity="0.7" transform="rotate(35 98.3 79)"/>
<ellipse cx="98.3" cy="79" rx="1.9" ry="0.7" fill="#1c84ff" opacity="0.95" transform="rotate(35 98.3 79)"/>
<ellipse cx="98.3" cy="79" rx="1.1" ry="0.7" fill="#1040f0" transform="rotate(35 98.3 79)"/>
<ellipse cx="105.4" cy="84.9" rx="2" ry="2.7" fill="#38d0f4" opacity="0.7" transform="rotate(20 105.4 84.9)"/>
<ellipse cx="105.4" cy="84.9" rx="1.4" ry="1.9" fill="#1c84ff" opacity="0.95" transform="rotate(20 105.4 84.9)"/>
<ellipse cx="105.4" cy="84.9" rx="0.8" ry="1.1" fill="#1040f0" transform="rotate(20 105.4 84.9)"/>
<ellipse cx="114.7" cy="82.7" rx="1.4" ry="1.4" fill="#38d0f4" opacity="0.7"/>
<ellipse cx="114.7" cy="82.7" rx="0.9" ry="0.9" fill="#1c84ff" opacity="0.95"/>
<ellipse cx="114.7" cy="82.7" rx="0.7" ry="0.7" fill="#1040f0"/>
<ellipse cx="111" cy="85.3" rx="1" ry="1" fill="#38d0f4" opacity="0.7"/>
<ellipse cx="111" cy="85.3" rx="0.7" ry="0.7" fill="#1c84ff" opacity="0.95"/>
<ellipse cx="111" cy="85.3" rx="0.7" ry="0.7" fill="#1040f0"/>
<ellipse cx="98.3" cy="84.9" rx="1.8" ry="1.2" fill="#b4f268" opacity="0.6"/>
<ellipse cx="98.3" cy="84.9" rx="1.2" ry="0.8" fill="#f0f030" opacity="0.95"/>
<ellipse cx="74.7" cy="87.7" rx="2.4" ry="0.9" fill="#b4f268" opacity="0.6" transform="rotate(-35 74.7 87.7)"/>
<ellipse cx="74.7" cy="87.7" rx="1.6" ry="0.7" fill="#f0f030" opacity="0.95" transform="rotate(-35 74.7 87.7)"/>
<ellipse cx="70.4" cy="93.4" rx="3" ry="1.2" fill="#b4f268" opacity="0.6"/>
<ellipse cx="70.4" cy="93.4" rx="2" ry="0.8" fill="#f0f030" opacity="0.95"/>
<ellipse cx="94.7" cy="93.4" rx="1" ry="1.4" fill="#38d0f4" opacity="0.7"/>
<ellipse cx="94.7" cy="93.4" rx="0.7" ry="0.9" fill="#1c84ff" opacity="0.95"/>
<ellipse cx="94.7" cy="93.4" rx="0.7" ry="0.7" fill="#1040f0"/>
<ellipse cx="97.6" cy="94" rx="1.8" ry="0.9" fill="#b4f268" opacity="0.6"/>
<ellipse cx="97.6" cy="94" rx="1.2" ry="0.7" fill="#f0f030" opacity="0.95"/>
<ellipse cx="119.7" cy="77.7" rx="3" ry="0.9" fill="#b4f268" opacity="0.6" transform="rotate(-35 119.7 77.7)"/>
<ellipse cx="119.7" cy="77.7" rx="2" ry="0.7" fill="#f0f030" opacity="0.95" transform="rotate(-35 119.7 77.7)"/>
<ellipse cx="124" cy="87" rx="2.4" ry="0.9" fill="#b4f268" opacity="0.6" transform="rotate(-35 124 87)"/>
<ellipse cx="124" cy="87" rx="1.6" ry="0.7" fill="#f0f030" opacity="0.95" transform="rotate(-35 124 87)"/>
</g></g>
<g clip-path="url(#cpb)">
<rect x="249.7" y="20.2" width="133.3" height="99.6" fill="#50eac8"/>
<g transform="rotate(-35 316.4 70)"><rect x="216.4" y="-30" width="200" height="200" filter="url(#txb)"/></g>
<g filter="url(#bl)" transform="translate(252 23)">
<ellipse cx="15.7" cy="2.6" rx="3.6" ry="1.2" fill="#b4f268" opacity="0.6" transform="rotate(-10 15.7 2.6)"/>
<ellipse cx="15.7" cy="2.6" rx="2.4" ry="0.8" fill="#f0f030" opacity="0.95" transform="rotate(-10 15.7 2.6)"/>
<ellipse cx="9.3" cy="6.4" rx="3" ry="1.2" fill="#b4f268" opacity="0.6" transform="rotate(-35 9.3 6.4)"/>
<ellipse cx="9.3" cy="6.4" rx="2" ry="0.8" fill="#f0f030" opacity="0.95" transform="rotate(-35 9.3 6.4)"/>
<ellipse cx="17.9" cy="12.1" rx="2.4" ry="1.2" fill="#b4f268" opacity="0.6" transform="rotate(-35 17.9 12.1)"/>
<ellipse cx="17.9" cy="12.1" rx="1.6" ry="0.8" fill="#f0f030" opacity="0.95" transform="rotate(-35 17.9 12.1)"/>
<ellipse cx="1.1" cy="17.1" rx="2" ry="2" fill="#38d0f4" opacity="0.7"/>
<ellipse cx="1.1" cy="17.1" rx="1.4" ry="1.4" fill="#1c84ff" opacity="0.95"/>
<ellipse cx="1.1" cy="17.1" rx="0.8" ry="0.8" fill="#1040f0"/>
<ellipse cx="2.1" cy="29.3" rx="1.4" ry="2" fill="#38d0f4" opacity="0.7"/>
<ellipse cx="2.1" cy="29.3" rx="0.9" ry="1.4" fill="#1c84ff" opacity="0.95"/>
<ellipse cx="2.1" cy="29.3" rx="0.7" ry="0.8" fill="#1040f0"/>
<ellipse cx="6.4" cy="30" rx="1.4" ry="1.4" fill="#38d0f4" opacity="0.7"/>
<ellipse cx="6.4" cy="30" rx="0.9" ry="0.9" fill="#1c84ff" opacity="0.95"/>
<ellipse cx="6.4" cy="30" rx="0.7" ry="0.7" fill="#1040f0"/>
<ellipse cx="12.9" cy="25.7" rx="2.4" ry="1.2" fill="#b4f268" opacity="0.6" transform="rotate(-35 12.9 25.7)"/>
<ellipse cx="12.9" cy="25.7" rx="1.6" ry="0.8" fill="#f0f030" opacity="0.95" transform="rotate(-35 12.9 25.7)"/>
<ellipse cx="30" cy="11.4" rx="2.7" ry="2" fill="#38d0f4" opacity="0.7" transform="rotate(30 30 11.4)"/>
<ellipse cx="30" cy="11.4" rx="1.9" ry="1.4" fill="#1c84ff" opacity="0.95" transform="rotate(30 30 11.4)"/>
<ellipse cx="30" cy="11.4" rx="1.1" ry="0.8" fill="#1040f0" transform="rotate(30 30 11.4)"/>
<ellipse cx="37.9" cy="9.7" rx="1.1" ry="1.1" fill="#3cd4f4" opacity="0.7"/>
<ellipse cx="37.9" cy="9.7" rx="0.8" ry="0.8" fill="#2cb4ff" opacity="0.9"/>
<ellipse cx="40.7" cy="13.1" rx="1.4" ry="1.4" fill="#d8f24c" opacity="0.6"/>
<ellipse cx="40.7" cy="13.1" rx="1.1" ry="1.1" fill="#ffdc1c" opacity="0.95"/>
<ellipse cx="40.7" cy="13.1" rx="0.8" ry="0.8" fill="#ff7a10"/>
<ellipse cx="40.7" cy="13.1" rx="0.7" ry="0.7" fill="#ea1408"/>
<ellipse cx="36.5" cy="12.9" rx="3" ry="0.9" fill="#b4f268" opacity="0.6"/>
<ellipse cx="36.5" cy="12.9" rx="2" ry="0.7" fill="#f0f030" opacity="0.95"/>
<ellipse cx="49" cy="4" rx="1.4" ry="1.4" fill="#38d0f4" opacity="0.7"/>
<ellipse cx="49" cy="4" rx="0.9" ry="0.9" fill="#1c84ff" opacity="0.95"/>
<ellipse cx="49" cy="4" rx="0.7" ry="0.7" fill="#1040f0"/>
<ellipse cx="55.7" cy="2.9" rx="1.4" ry="1.4" fill="#38d0f4" opacity="0.7"/>
<ellipse cx="55.7" cy="2.9" rx="0.9" ry="0.9" fill="#1c84ff" opacity="0.95"/>
<ellipse cx="55.7" cy="2.9" rx="0.7" ry="0.7" fill="#1040f0"/>
<ellipse cx="54.3" cy="9.3" rx="2.9" ry="2.2" fill="#d8f24c" opacity="0.6"/>
<ellipse cx="54.3" cy="9.3" rx="2.3" ry="1.7" fill="#ffdc1c" opacity="0.95"/>
<ellipse cx="54.3" cy="9.3" rx="1.7" ry="1.3" fill="#ff7a10"/>
<ellipse cx="54.3" cy="9.3" rx="1.1" ry="0.8" fill="#ea1408"/>
<ellipse cx="58.6" cy="10" rx="2" ry="1.4" fill="#d0f250" opacity="0.6"/>
<ellipse cx="58.6" cy="10" rx="1.5" ry="1" fill="#ffe41c" opacity="0.95"/>
<ellipse cx="58.6" cy="10" rx="0.9" ry="0.7" fill="#ff9410"/>
<ellipse cx="47.1" cy="15" rx="1.4" ry="1.4" fill="#38d0f4" opacity="0.7"/>
<ellipse cx="47.1" cy="15" rx="0.9" ry="0.9" fill="#1c84ff" opacity="0.95"/>
<ellipse cx="47.1" cy="15" rx="0.7" ry="0.7" fill="#1040f0"/>
<ellipse cx="45.7" cy="18.6" rx="2" ry="1.4" fill="#38d0f4" opacity="0.7"/>
<ellipse cx="45.7" cy="18.6" rx="1.4" ry="0.9" fill="#1c84ff" opacity="0.95"/>
<ellipse cx="45.7" cy="18.6" rx="0.8" ry="0.7" fill="#1040f0"/>
<ellipse cx="48.6" cy="18.6" rx="1.4" ry="1.4" fill="#38d0f4" opacity="0.7"/>
<ellipse cx="48.6" cy="18.6" rx="0.9" ry="0.9" fill="#1c84ff" opacity="0.95"/>
<ellipse cx="48.6" cy="18.6" rx="0.7" ry="0.7" fill="#1040f0"/>
<ellipse cx="31.1" cy="22.9" rx="2.9" ry="2.2" fill="#38d0f4" opacity="0.7"/>
<ellipse cx="31.1" cy="22.9" rx="2.2" ry="1.7" fill="#1870ff" opacity="0.95"/>
<ellipse cx="31.1" cy="22.9" rx="1.5" ry="1.1" fill="#0c28e0"/>
<ellipse cx="31.1" cy="22.9" rx="0.8" ry="0.7" fill="#0810b0"/>
<ellipse cx="30.7" cy="26.5" rx="1.4" ry="2" fill="#38d0f4" opacity="0.7"/>
<ellipse cx="30.7" cy="26.5" rx="0.9" ry="1.4" fill="#1c84ff" opacity="0.95"/>
<ellipse cx="30.7" cy="26.5" rx="0.7" ry="0.8" fill="#1040f0"/>
<ellipse cx="41.4" cy="25.7" rx="2" ry="2" fill="#38d0f4" opacity="0.7"/>
<ellipse cx="41.4" cy="25.7" rx="1.4" ry="1.4" fill="#1c84ff" opacity="0.95"/>
<ellipse cx="41.4" cy="25.7" rx="0.8" ry="0.8" fill="#1040f0"/>
<ellipse cx="35" cy="21" rx="1.8" ry="1.2" fill="#b4f268" opacity="0.6"/>
<ellipse cx="35" cy="21" rx="1.2" ry="0.8" fill="#f0f030" opacity="0.95"/>
<ellipse cx="38.6" cy="25" rx="1.2" ry="1.2" fill="#b4f268" opacity="0.6"/>
<ellipse cx="38.6" cy="25" rx="0.8" ry="0.8" fill="#f0f030" opacity="0.95"/>
<ellipse cx="48.6" cy="27" rx="2.4" ry="1.8" fill="#b4f268" opacity="0.6" transform="rotate(-35 48.6 27)"/>
<ellipse cx="48.6" cy="27" rx="1.6" ry="1.2" fill="#f0f030" opacity="0.95" transform="rotate(-35 48.6 27)"/>
<ellipse cx="57" cy="33.6" rx="1.8" ry="1.2" fill="#b4f268" opacity="0.6"/>
<ellipse cx="57" cy="33.6" rx="1.2" ry="0.8" fill="#f0f030" opacity="0.95"/>
<ellipse cx="14.3" cy="34.3" rx="1.8" ry="1.2" fill="#b4f268" opacity="0.6"/>
<ellipse cx="14.3" cy="34.3" rx="1.2" ry="0.8" fill="#f0f030" opacity="0.95"/>
<ellipse cx="42.9" cy="10.7" rx="3" ry="0.9" fill="#b4f268" opacity="0.6" transform="rotate(-20 42.9 10.7)"/>
<ellipse cx="42.9" cy="10.7" rx="2" ry="0.7" fill="#f0f030" opacity="0.95" transform="rotate(-20 42.9 10.7)"/>
<ellipse cx="66.9" cy="2.1" rx="2.2" ry="2.9" fill="#38d0f4" opacity="0.7" transform="rotate(-30 66.9 2.1)"/>
<ellipse cx="66.9" cy="2.1" rx="1.7" ry="2.2" fill="#1870ff" opacity="0.95" transform="rotate(-30 66.9 2.1)"/>
<ellipse cx="66.9" cy="2.1" rx="1.1" ry="1.5" fill="#0c28e0" transform="rotate(-30 66.9 2.1)"/>
<ellipse cx="66.9" cy="2.1" rx="0.7" ry="0.8" fill="#0810b0" transform="rotate(-30 66.9 2.1)"/>
<ellipse cx="79.7" cy="2.1" rx="1.8" ry="1.2" fill="#b4f268" opacity="0.6"/>
<ellipse cx="79.7" cy="2.1" rx="1.2" ry="0.8" fill="#f0f030" opacity="0.95"/>
<ellipse cx="91.9" cy="3.1" rx="1.4" ry="1.4" fill="#38d0f4" opacity="0.7"/>
<ellipse cx="91.9" cy="3.1" rx="0.9" ry="0.9" fill="#1c84ff" opacity="0.95"/>
<ellipse cx="91.9" cy="3.1" rx="0.7" ry="0.7" fill="#1040f0"/>
<ellipse cx="100.4" cy="3.1" rx="3.4" ry="1.4" fill="#d0f250" opacity="0.6"/>
<ellipse cx="100.4" cy="3.1" rx="2.5" ry="1" fill="#ffe41c" opacity="0.95"/>
<ellipse cx="100.4" cy="3.1" rx="1.5" ry="0.7" fill="#ff9410"/>
<ellipse cx="91.9" cy="6.9" rx="1.4" ry="1.4" fill="#d0f250" opacity="0.6"/>
<ellipse cx="91.9" cy="6.9" rx="1" ry="1" fill="#ffe41c" opacity="0.95"/>
<ellipse cx="91.9" cy="6.9" rx="0.7" ry="0.7" fill="#ff9410"/>
<ellipse cx="74" cy="9.7" rx="2.4" ry="1.8" fill="#b4f268" opacity="0.6" transform="rotate(30 74 9.7)"/>
<ellipse cx="74" cy="9.7" rx="1.6" ry="1.2" fill="#f0f030" opacity="0.95" transform="rotate(30 74 9.7)"/>
<ellipse cx="72.6" cy="14" rx="2.7" ry="1.4" fill="#38d0f4" opacity="0.7" transform="rotate(35 72.6 14)"/>
<ellipse cx="72.6" cy="14" rx="1.9" ry="0.9" fill="#1c84ff" opacity="0.95" transform="rotate(35 72.6 14)"/>
<ellipse cx="72.6" cy="14" rx="1.1" ry="0.7" fill="#1040f0" transform="rotate(35 72.6 14)"/>
<ellipse cx="96.1" cy="11.4" rx="1.4" ry="2" fill="#38d0f4" opacity="0.7"/>
<ellipse cx="96.1" cy="11.4" rx="0.9" ry="1.4" fill="#1c84ff" opacity="0.95"/>
<ellipse cx="96.1" cy="11.4" rx="0.7" ry="0.8" fill="#1040f0"/>
<ellipse cx="71.1" cy="17.9" rx="1.8" ry="1.2" fill="#b4f268" opacity="0.6"/>
<ellipse cx="71.1" cy="17.9" rx="1.2" ry="0.8" fill="#f0f030" opacity="0.95"/>
<ellipse cx="84" cy="18.6" rx="2" ry="1.4" fill="#38d0f4" opacity="0.7"/>
<ellipse cx="84" cy="18.6" rx="1.4" ry="0.9" fill="#1c84ff" opacity="0.95"/>
<ellipse cx="84" cy="18.6" rx="0.8" ry="0.7" fill="#1040f0"/>
<ellipse cx="89.7" cy="19.7" rx="3" ry="1.2" fill="#b4f268" opacity="0.6" transform="rotate(-35 89.7 19.7)"/>
<ellipse cx="89.7" cy="19.7" rx="2" ry="0.8" fill="#f0f030" opacity="0.95" transform="rotate(-35 89.7 19.7)"/>
<ellipse cx="94.7" cy="15" rx="2.4" ry="0.9" fill="#b4f268" opacity="0.6" transform="rotate(-45 94.7 15)"/>
<ellipse cx="94.7" cy="15" rx="1.6" ry="0.7" fill="#f0f030" opacity="0.95" transform="rotate(-45 94.7 15)"/>
<ellipse cx="102.6" cy="14.3" rx="1.4" ry="1.4" fill="#d0f250" opacity="0.6"/>
<ellipse cx="102.6" cy="14.3" rx="1" ry="1" fill="#ffe41c" opacity="0.95"/>
<ellipse cx="102.6" cy="14.3" rx="0.7" ry="0.7" fill="#ff9410"/>
<ellipse cx="106.1" cy="13.6" rx="2" ry="1.4" fill="#38d0f4" opacity="0.7" transform="rotate(35 106.1 13.6)"/>
<ellipse cx="106.1" cy="13.6" rx="1.4" ry="0.9" fill="#1c84ff" opacity="0.95" transform="rotate(35 106.1 13.6)"/>
<ellipse cx="106.1" cy="13.6" rx="0.8" ry="0.7" fill="#1040f0" transform="rotate(35 106.1 13.6)"/>
<ellipse cx="111.9" cy="13.6" rx="1.8" ry="1.2" fill="#b4f268" opacity="0.6" transform="rotate(-35 111.9 13.6)"/>
<ellipse cx="111.9" cy="13.6" rx="1.2" ry="0.8" fill="#f0f030" opacity="0.95" transform="rotate(-35 111.9 13.6)"/>
<ellipse cx="114.7" cy="17.9" rx="1.1" ry="1.1" fill="#3cd4f4" opacity="0.7"/>
<ellipse cx="114.7" cy="17.9" rx="0.8" ry="0.8" fill="#2cb4ff" opacity="0.9"/>
<ellipse cx="116.1" cy="5.4" rx="1.4" ry="1.4" fill="#d0f250" opacity="0.6"/>
<ellipse cx="116.1" cy="5.4" rx="1" ry="1" fill="#ffe41c" opacity="0.95"/>
<ellipse cx="116.1" cy="5.4" rx="0.7" ry="0.7" fill="#ff9410"/>
<ellipse cx="119" cy="5.4" rx="1.4" ry="1.4" fill="#38d0f4" opacity="0.7"/>
<ellipse cx="119" cy="5.4" rx="0.9" ry="0.9" fill="#1c84ff" opacity="0.95"/>
<ellipse cx="119" cy="5.4" rx="0.7" ry="0.7" fill="#1040f0"/>
<ellipse cx="119.7" cy="8.9" rx="1.8" ry="1.2" fill="#b4f268" opacity="0.6" transform="rotate(-35 119.7 8.9)"/>
<ellipse cx="119.7" cy="8.9" rx="1.2" ry="0.8" fill="#f0f030" opacity="0.95" transform="rotate(-35 119.7 8.9)"/>
<ellipse cx="104" cy="8.9" rx="1.8" ry="1.2" fill="#b4f268" opacity="0.6"/>
<ellipse cx="104" cy="8.9" rx="1.2" ry="0.8" fill="#f0f030" opacity="0.95"/>
<ellipse cx="99.7" cy="26.4" rx="2" ry="4.1" fill="#d0f250" opacity="0.6" transform="rotate(-20 99.7 26.4)"/>
<ellipse cx="99.7" cy="26.4" rx="1.5" ry="3" fill="#ffe41c" opacity="0.95" transform="rotate(-20 99.7 26.4)"/>
<ellipse cx="99.7" cy="26.4" rx="0.9" ry="1.8" fill="#ff9410" transform="rotate(-20 99.7 26.4)"/>
<ellipse cx="96.1" cy="26.9" rx="1.4" ry="1.4" fill="#d0f250" opacity="0.6"/>
<ellipse cx="96.1" cy="26.9" rx="1" ry="1" fill="#ffe41c" opacity="0.95"/>
<ellipse cx="96.1" cy="26.9" rx="0.7" ry="0.7" fill="#ff9410"/>
<ellipse cx="112.6" cy="27.1" rx="1.4" ry="1.4" fill="#d0f250" opacity="0.6"/>
<ellipse cx="112.6" cy="27.1" rx="1" ry="1" fill="#ffe41c" opacity="0.95"/>
<ellipse cx="112.6" cy="27.1" rx="0.7" ry="0.7" fill="#ff9410"/>
<ellipse cx="69.7" cy="25" rx="3" ry="1.2" fill="#b4f268" opacity="0.6" transform="rotate(-35 69.7 25)"/>
<ellipse cx="69.7" cy="25" rx="2" ry="0.8" fill="#f0f030" opacity="0.95" transform="rotate(-35 69.7 25)"/>
<ellipse cx="65.4" cy="26.4" rx="1.1" ry="1.1" fill="#3cd4f4" opacity="0.7"/>
<ellipse cx="65.4" cy="26.4" rx="0.8" ry="0.8" fill="#2cb4ff" opacity="0.9"/>
<ellipse cx="79" cy="34.3" rx="2.2" ry="1.4" fill="#38d0f4" opacity="0.7"/>
<ellipse cx="79" cy="34.3" rx="1.7" ry="1.1" fill="#1870ff" opacity="0.95"/>
<ellipse cx="79" cy="34.3" rx="1.1" ry="0.8" fill="#0c28e0"/>
<ellipse cx="79" cy="34.3" rx="0.7" ry="0.7" fill="#0810b0"/>
<ellipse cx="74.7" cy="34.3" rx="1.8" ry="1.2" fill="#b4f268" opacity="0.6"/>
<ellipse cx="74.7" cy="34.3" rx="1.2" ry="0.8" fill="#f0f030" opacity="0.95"/>
<ellipse cx="116.9" cy="34.3" rx="1.8" ry="1.2" fill="#b4f268" opacity="0.6"/>
<ellipse cx="116.9" cy="34.3" rx="1.2" ry="0.8" fill="#f0f030" opacity="0.95"/>
<ellipse cx="110.4" cy="21.4" rx="1.1" ry="1.1" fill="#3cd4f4" opacity="0.7"/>
<ellipse cx="110.4" cy="21.4" rx="0.8" ry="0.8" fill="#2cb4ff" opacity="0.9"/>
<ellipse cx="40.7" cy="46.3" rx="2.2" ry="1.4" fill="#d8f24c" opacity="0.6"/>
<ellipse cx="40.7" cy="46.3" rx="1.7" ry="1.1" fill="#ffdc1c" opacity="0.95"/>
<ellipse cx="40.7" cy="46.3" rx="1.3" ry="0.8" fill="#ff7a10"/>
<ellipse cx="40.7" cy="46.3" rx="0.8" ry="0.7" fill="#ea1408"/>
<ellipse cx="35.5" cy="46.3" rx="3" ry="0.9" fill="#b4f268" opacity="0.6"/>
<ellipse cx="35.5" cy="46.3" rx="2" ry="0.7" fill="#f0f030" opacity="0.95"/>
<ellipse cx="48.6" cy="49.1" rx="2" ry="1.4" fill="#38d0f4" opacity="0.7"/>
<ellipse cx="48.6" cy="49.1" rx="1.4" ry="0.9" fill="#1c84ff" opacity="0.95"/>
<ellipse cx="48.6" cy="49.1" rx="0.8" ry="0.7" fill="#1040f0"/>
<ellipse cx="54.3" cy="48.1" rx="1.8" ry="1.8" fill="#b4f268" opacity="0.6"/>
<ellipse cx="54.3" cy="48.1" rx="1.2" ry="1.2" fill="#f0f030" opacity="0.95"/>
<ellipse cx="62.1" cy="50.3" rx="2.2" ry="2.9" fill="#38d0f4" opacity="0.7"/>
<ellipse cx="62.1" cy="50.3" rx="1.7" ry="2.2" fill="#1870ff" opacity="0.95"/>
<ellipse cx="62.1" cy="50.3" rx="1.1" ry="1.5" fill="#0c28e0"/>
<ellipse cx="62.1" cy="50.3" rx="0.7" ry="0.8" fill="#0810b0"/>
<ellipse cx="35.7" cy="51.7" rx="2.9" ry="2.2" fill="#38d0f4" opacity="0.7" transform="rotate(20 35.7 51.7)"/>
<ellipse cx="35.7" cy="51.7" rx="2.2" ry="1.7" fill="#1870ff" opacity="0.95" transform="rotate(20 35.7 51.7)"/>
<ellipse cx="35.7" cy="51.7" rx="1.5" ry="1.1" fill="#0c28e0" transform="rotate(20 35.7 51.7)"/>
<ellipse cx="35.7" cy="51.7" rx="0.8" ry="0.7" fill="#0810b0" transform="rotate(20 35.7 51.7)"/>
<ellipse cx="30" cy="50.3" rx="2.7" ry="1" fill="#38d0f4" opacity="0.7" transform="rotate(40 30 50.3)"/>
<ellipse cx="30" cy="50.3" rx="1.9" ry="0.7" fill="#1c84ff" opacity="0.95" transform="rotate(40 30 50.3)"/>
<ellipse cx="30" cy="50.3" rx="1.1" ry="0.7" fill="#1040f0" transform="rotate(40 30 50.3)"/>
<ellipse cx="26.9" cy="55.3" rx="1.8" ry="2.2" fill="#d8f24c" opacity="0.6"/>
<ellipse cx="26.9" cy="55.3" rx="1.4" ry="1.7" fill="#ffdc1c" opacity="0.95"/>
<ellipse cx="26.9" cy="55.3" rx="1.1" ry="1.3" fill="#ff7a10"/>
<ellipse cx="26.9" cy="55.3" rx="0.7" ry="0.8" fill="#ea1408"/>
<ellipse cx="28.6" cy="57.5" rx="1.4" ry="2" fill="#d0f250" opacity="0.6" transform="rotate(-30 28.6 57.5)"/>
<ellipse cx="28.6" cy="57.5" rx="1" ry="1.5" fill="#ffe41c" opacity="0.95" transform="rotate(-30 28.6 57.5)"/>
<ellipse cx="28.6" cy="57.5" rx="0.7" ry="0.9" fill="#ff9410" transform="rotate(-30 28.6 57.5)"/>
<ellipse cx="35" cy="56" rx="1.8" ry="1.2" fill="#b4f268" opacity="0.6"/>
<ellipse cx="35" cy="56" rx="1.2" ry="0.8" fill="#f0f030" opacity="0.95"/>
<ellipse cx="43.6" cy="62.1" rx="2.2" ry="2.9" fill="#38d0f4" opacity="0.7" transform="rotate(-20 43.6 62.1)"/>
<ellipse cx="43.6" cy="62.1" rx="1.7" ry="2.2" fill="#1870ff" opacity="0.95" transform="rotate(-20 43.6 62.1)"/>
<ellipse cx="43.6" cy="62.1" rx="1.1" ry="1.5" fill="#0c28e0" transform="rotate(-20 43.6 62.1)"/>
<ellipse cx="43.6" cy="62.1" rx="0.7" ry="0.8" fill="#0810b0" transform="rotate(-20 43.6 62.1)"/>
<ellipse cx="57.1" cy="60.3" rx="3.4" ry="1.4" fill="#d0f250" opacity="0.6"/>
<ellipse cx="57.1" cy="60.3" rx="2.5" ry="1" fill="#ffe41c" opacity="0.95"/>
<ellipse cx="57.1" cy="60.3" rx="1.5" ry="0.7" fill="#ff9410"/>
<ellipse cx="60" cy="64.6" rx="1.8" ry="1.2" fill="#b4f268" opacity="0.6"/>
<ellipse cx="60" cy="64.6" rx="1.2" ry="0.8" fill="#f0f030" opacity="0.95"/>
<ellipse cx="9.3" cy="63.1" rx="2" ry="2.7" fill="#38d0f4" opacity="0.7" transform="rotate(-30 9.3 63.1)"/>
<ellipse cx="9.3" cy="63.1" rx="1.4" ry="1.9" fill="#1c84ff" opacity="0.95" transform="rotate(-30 9.3 63.1)"/>
<ellipse cx="9.3" cy="63.1" rx="0.8" ry="1.1" fill="#1040f0" transform="rotate(-30 9.3 63.1)"/>
<ellipse cx="14.3" cy="61" rx="1.7" ry="1.1" fill="#3cd4f4" opacity="0.7" transform="rotate(-35 14.3 61)"/>
<ellipse cx="14.3" cy="61" rx="1.1" ry="0.8" fill="#2cb4ff" opacity="0.9" transform="rotate(-35 14.3 61)"/>
<ellipse cx="4.3" cy="56.7" rx="3" ry="1.2" fill="#b4f268" opacity="0.6"/>
<ellipse cx="4.3" cy="56.7" rx="2" ry="0.8" fill="#f0f030" opacity="0.95"/>
<ellipse cx="2.1" cy="50.3" rx="1.8" ry="1.2" fill="#b4f268" opacity="0.6"/>
<ellipse cx="2.1" cy="50.3" rx="1.2" ry="0.8" fill="#f0f030" opacity="0.95"/>
<ellipse cx="24.3" cy="70.6" rx="3.6" ry="1.4" fill="#d8f24c" opacity="0.6" transform="rotate(-10 24.3 70.6)"/>
<ellipse cx="24.3" cy="70.6" rx="2.9" ry="1.1" fill="#ffdc1c" opacity="0.95" transform="rotate(-10 24.3 70.6)"/>
<ellipse cx="24.3" cy="70.6" rx="2.1" ry="0.8" fill="#ff7a10" transform="rotate(-10 24.3 70.6)"/>
<ellipse cx="24.3" cy="70.6" rx="1.4" ry="0.7" fill="#ea1408" transform="rotate(-10 24.3 70.6)"/>
<ellipse cx="10.7" cy="69.6" rx="1.8" ry="1.2" fill="#b4f268" opacity="0.6"/>
<ellipse cx="10.7" cy="69.6" rx="1.2" ry="0.8" fill="#f0f030" opacity="0.95"/>
<ellipse cx="18.6" cy="64.6" rx="1.8" ry="1.2" fill="#b4f268" opacity="0.6"/>
<ellipse cx="18.6" cy="64.6" rx="1.2" ry="0.8" fill="#f0f030" opacity="0.95"/>
<ellipse cx="47.9" cy="42.4" rx="1.8" ry="1.2" fill="#b4f268" opacity="0.6"/>
<ellipse cx="47.9" cy="42.4" rx="1.2" ry="0.8" fill="#f0f030" opacity="0.95"/>
<ellipse cx="57.1" cy="37.1" rx="1.8" ry="1.2" fill="#b4f268" opacity="0.6"/>
<ellipse cx="57.1" cy="37.1" rx="1.2" ry="0.8" fill="#f0f030" opacity="0.95"/>
<ellipse cx="5" cy="37.4" rx="1.8" ry="1.2" fill="#b4f268" opacity="0.6"/>
<ellipse cx="5" cy="37.4" rx="1.2" ry="0.8" fill="#f0f030" opacity="0.95"/>
<ellipse cx="35.7" cy="37.7" rx="1.1" ry="1.1" fill="#3cd4f4" opacity="0.7"/>
<ellipse cx="35.7" cy="37.7" rx="0.8" ry="0.8" fill="#2cb4ff" opacity="0.9"/>
<ellipse cx="79" cy="38.9" rx="3.6" ry="2.2" fill="#38d0f4" opacity="0.7" transform="rotate(25 79 38.9)"/>
<ellipse cx="79" cy="38.9" rx="2.8" ry="1.7" fill="#1870ff" opacity="0.95" transform="rotate(25 79 38.9)"/>
<ellipse cx="79" cy="38.9" rx="1.9" ry="1.1" fill="#0c28e0" transform="rotate(25 79 38.9)"/>
<ellipse cx="79" cy="38.9" rx="1" ry="0.7" fill="#0810b0" transform="rotate(25 79 38.9)"/>
<ellipse cx="94.7" cy="38.6" rx="1.8" ry="1.2" fill="#b4f268" opacity="0.6"/>
<ellipse cx="94.7" cy="38.6" rx="1.2" ry="0.8" fill="#f0f030" opacity="0.95"/>
<ellipse cx="69" cy="43.1" rx="1.4" ry="1.4" fill="#38d0f4" opacity="0.7"/>
<ellipse cx="69" cy="43.1" rx="0.9" ry="0.9" fill="#1c84ff" opacity="0.95"/>
<ellipse cx="69" cy="43.1" rx="0.7" ry="0.7" fill="#1040f0"/>
<ellipse cx="88.3" cy="41.7" rx="1.1" ry="1.1" fill="#3cd4f4" opacity="0.7"/>
<ellipse cx="88.3" cy="41.7" rx="0.8" ry="0.8" fill="#2cb4ff" opacity="0.9"/>
<ellipse cx="85.7" cy="49.6" rx="1.4" ry="1.4" fill="#d8f24c" opacity="0.6"/>
<ellipse cx="85.7" cy="49.6" rx="1.1" ry="1.1" fill="#ffdc1c" opacity="0.95"/>
<ellipse cx="85.7" cy="49.6" rx="0.8" ry="0.8" fill="#ff7a10"/>
<ellipse cx="85.7" cy="49.6" rx="0.7" ry="0.7" fill="#ea1408"/>
<ellipse cx="96.9" cy="51" rx="2.7" ry="2" fill="#d0f250" opacity="0.6"/>
<ellipse cx="96.9" cy="51" rx="2" ry="1.5" fill="#ffe41c" opacity="0.95"/>
<ellipse cx="96.9" cy="51" rx="1.2" ry="0.9" fill="#ff9410"/>
<ellipse cx="94.5" cy="53.5" rx="2.4" ry="1.2" fill="#b4f268" opacity="0.6" transform="rotate(-45 94.5 53.5)"/>
<ellipse cx="94.5" cy="53.5" rx="1.6" ry="0.8" fill="#f0f030" opacity="0.95" transform="rotate(-45 94.5 53.5)"/>
<ellipse cx="123.3" cy="43.9" rx="2.7" ry="1.4" fill="#d0f250" opacity="0.6"/>
<ellipse cx="123.3" cy="43.9" rx="2" ry="1" fill="#ffe41c" opacity="0.95"/>
<ellipse cx="123.3" cy="43.9" rx="1.2" ry="0.7" fill="#ff9410"/>
<ellipse cx="121" cy="44.9" rx="1" ry="1" fill="#38d0f4" opacity="0.7"/>
<ellipse cx="121" cy="44.9" rx="0.7" ry="0.7" fill="#1c84ff" opacity="0.95"/>
<ellipse cx="121" cy="44.9" rx="0.7" ry="0.7" fill="#1040f0"/>
<ellipse cx="124" cy="48.1" rx="1.8" ry="1.2" fill="#b4f268" opacity="0.6"/>
<ellipse cx="124" cy="48.1" rx="1.2" ry="0.8" fill="#f0f030" opacity="0.95"/>
<ellipse cx="64.7" cy="53.1" rx="1.4" ry="2" fill="#38d0f4" opacity="0.7"/>
<ellipse cx="64.7" cy="53.1" rx="0.9" ry="1.4" fill="#1c84ff" opacity="0.95"/>
<ellipse cx="64.7" cy="53.1" rx="0.7" ry="0.8" fill="#1040f0"/>
<ellipse cx="126.9" cy="57.1" rx="2.2" ry="1.4" fill="#38d0f4" opacity="0.7"/>
<ellipse cx="126.9" cy="57.1" rx="1.7" ry="1.1" fill="#1870ff" opacity="0.95"/>
<ellipse cx="126.9" cy="57.1" rx="1.1" ry="0.8" fill="#0c28e0"/>
<ellipse cx="126.9" cy="57.1" rx="0.7" ry="0.7" fill="#0810b0"/>
<ellipse cx="86.1" cy="61.7" rx="1" ry="1" fill="#38d0f4" opacity="0.7"/>
<ellipse cx="86.1" cy="61.7" rx="0.7" ry="0.7" fill="#1c84ff" opacity="0.95"/>
<ellipse cx="86.1" cy="61.7" rx="0.7" ry="0.7" fill="#1040f0"/>
<ellipse cx="110.4" cy="64.6" rx="2.7" ry="1.4" fill="#d0f250" opacity="0.6"/>
<ellipse cx="110.4" cy="64.6" rx="2" ry="1" fill="#ffe41c" opacity="0.95"/>
<ellipse cx="110.4" cy="64.6" rx="1.2" ry="0.7" fill="#ff9410"/>
<ellipse cx="119" cy="65.3" rx="1.8" ry="1.2" fill="#b4f268" opacity="0.6"/>
<ellipse cx="119" cy="65.3" rx="1.2" ry="0.8" fill="#f0f030" opacity="0.95"/>
<ellipse cx="88.3" cy="70" rx="2.9" ry="2.2" fill="#38d0f4" opacity="0.7"/>
<ellipse cx="88.3" cy="70" rx="2.2" ry="1.7" fill="#1870ff" opacity="0.95"/>
<ellipse cx="88.3" cy="70" rx="1.5" ry="1.1" fill="#0c28e0"/>
<ellipse cx="88.3" cy="70" rx="0.8" ry="0.7" fill="#0810b0"/>
<ellipse cx="71.1" cy="69.1" rx="1.1" ry="1.1" fill="#3cd4f4" opacity="0.7"/>
<ellipse cx="71.1" cy="69.1" rx="0.8" ry="0.8" fill="#2cb4ff" opacity="0.9"/>
<ellipse cx="71.9" cy="52.4" rx="2.4" ry="0.9" fill="#b4f268" opacity="0.6" transform="rotate(-35 71.9 52.4)"/>
<ellipse cx="71.9" cy="52.4" rx="1.6" ry="0.7" fill="#f0f030" opacity="0.95" transform="rotate(-35 71.9 52.4)"/>
<ellipse cx="105.4" cy="54.6" rx="1.8" ry="1.2" fill="#b4f268" opacity="0.6"/>
<ellipse cx="105.4" cy="54.6" rx="1.2" ry="0.8" fill="#f0f030" opacity="0.95"/>
<ellipse cx="78.3" cy="64.6" rx="1.8" ry="1.2" fill="#b4f268" opacity="0.6"/>
<ellipse cx="78.3" cy="64.6" rx="1.2" ry="0.8" fill="#f0f030" opacity="0.95"/>
<ellipse cx="24.3" cy="71" rx="3.6" ry="1.8" fill="#d8f24c" opacity="0.6" transform="rotate(-20 24.3 71)"/>
<ellipse cx="24.3" cy="71" rx="2.9" ry="1.4" fill="#ffdc1c" opacity="0.95" transform="rotate(-20 24.3 71)"/>
<ellipse cx="24.3" cy="71" rx="2.1" ry="1.1" fill="#ff7a10" transform="rotate(-20 24.3 71)"/>
<ellipse cx="24.3" cy="71" rx="1.4" ry="0.7" fill="#ea1408" transform="rotate(-20 24.3 71)"/>
<ellipse cx="30.7" cy="72.7" rx="1.4" ry="1.7" fill="#d0f250" opacity="0.6"/>
<ellipse cx="30.7" cy="72.7" rx="1" ry="1.2" fill="#ffe41c" opacity="0.95"/>
<ellipse cx="30.7" cy="72.7" rx="0.7" ry="0.8" fill="#ff9410"/>
<ellipse cx="48.6" cy="77" rx="1.4" ry="1.4" fill="#d8f24c" opacity="0.6"/>
<ellipse cx="48.6" cy="77" rx="1.1" ry="1.1" fill="#ffdc1c" opacity="0.95"/>
<ellipse cx="48.6" cy="77" rx="0.8" ry="0.8" fill="#ff7a10"/>
<ellipse cx="48.6" cy="77" rx="0.7" ry="0.7" fill="#ea1408"/>
<ellipse cx="57.1" cy="82" rx="2" ry="1.4" fill="#38d0f4" opacity="0.7"/>
<ellipse cx="57.1" cy="82" rx="1.4" ry="0.9" fill="#1c84ff" opacity="0.95"/>
<ellipse cx="57.1" cy="82" rx="0.8" ry="0.7" fill="#1040f0"/>
<ellipse cx="55" cy="84.1" rx="1.8" ry="1.2" fill="#b4f268" opacity="0.6"/>
<ellipse cx="55" cy="84.1" rx="1.2" ry="0.8" fill="#f0f030" opacity="0.95"/>
<ellipse cx="21.4" cy="81.3" rx="2.3" ry="1.7" fill="#3cd4f4" opacity="0.7"/>
<ellipse cx="21.4" cy="81.3" rx="1.5" ry="1.1" fill="#2cb4ff" opacity="0.9"/>
<ellipse cx="32.1" cy="83" rx="1.1" ry="1.1" fill="#3cd4f4" opacity="0.7"/>
<ellipse cx="32.1" cy="83" rx="0.8" ry="0.8" fill="#2cb4ff" opacity="0.9"/>
<ellipse cx="7.1" cy="88.7" rx="1.7" ry="1.1" fill="#3cd4f4" opacity="0.7"/>
<ellipse cx="7.1" cy="88.7" rx="1.1" ry="0.8" fill="#2cb4ff" opacity="0.9"/>
<ellipse cx="21.4" cy="86.3" rx="3" ry="1.8" fill="#b4f268" opacity="0.6" transform="rotate(-35 21.4 86.3)"/>
<ellipse cx="21.4" cy="86.3" rx="2" ry="1.2" fill="#f0f030" opacity="0.95" transform="rotate(-35 21.4 86.3)"/>
<ellipse cx="18.6" cy="90.6" rx="2" ry="1.4" fill="#d0f250" opacity="0.6"/>
<ellipse cx="18.6" cy="90.6" rx="1.5" ry="1" fill="#ffe41c" opacity="0.95"/>
<ellipse cx="18.6" cy="90.6" rx="0.9" ry="0.7" fill="#ff9410"/>
<ellipse cx="22.9" cy="92.4" rx="2.2" ry="2.2" fill="#d8f24c" opacity="0.6"/>
<ellipse cx="22.9" cy="92.4" rx="1.7" ry="1.7" fill="#ffdc1c" opacity="0.95"/>
<ellipse cx="22.9" cy="92.4" rx="1.3" ry="1.3" fill="#ff7a10"/>
<ellipse cx="22.9" cy="92.4" rx="0.8" ry="0.8" fill="#ea1408"/>
<ellipse cx="6.4" cy="71.3" rx="1.8" ry="1.2" fill="#b4f268" opacity="0.6"/>
<ellipse cx="6.4" cy="71.3" rx="1.2" ry="0.8" fill="#f0f030" opacity="0.95"/>
<ellipse cx="42.9" cy="78.4" rx="1.8" ry="1.2" fill="#b4f268" opacity="0.6"/>
<ellipse cx="42.9" cy="78.4" rx="1.2" ry="0.8" fill="#f0f030" opacity="0.95"/>
<ellipse cx="90.5" cy="71.2" rx="5.8" ry="1.4" fill="#38d0f4" opacity="0.7" transform="rotate(35 90.5 71.2)"/>
<ellipse cx="90.5" cy="71.2" rx="4.4" ry="1.1" fill="#1870ff" opacity="0.95" transform="rotate(35 90.5 71.2)"/>
<ellipse cx="90.5" cy="71.2" rx="3" ry="0.8" fill="#0c28e0" transform="rotate(35 90.5 71.2)"/>
<ellipse cx="90.5" cy="71.2" rx="1.6" ry="0.7" fill="#0810b0" transform="rotate(35 90.5 71.2)"/>
<ellipse cx="98.3" cy="77" rx="1.1" ry="1.1" fill="#3cd4f4" opacity="0.7"/>
<ellipse cx="98.3" cy="77" rx="0.8" ry="0.8" fill="#2cb4ff" opacity="0.9"/>
<ellipse cx="85.4" cy="81.3" rx="5.4" ry="1.3" fill="#b4f268" opacity="0.6" transform="rotate(-25 85.4 81.3)"/>
<ellipse cx="85.4" cy="81.3" rx="3.6" ry="0.9" fill="#f0f030" opacity="0.95" transform="rotate(-25 85.4 81.3)"/>
<ellipse cx="86.5" cy="80.8" rx="2" ry="1" fill="#d0f250" opacity="0.6" transform="rotate(-25 86.5 80.8)"/>
<ellipse cx="86.5" cy="80.8" rx="1.5" ry="0.8" fill="#ffe41c" opacity="0.95" transform="rotate(-25 86.5 80.8)"/>
<ellipse cx="86.5" cy="80.8" rx="0.9" ry="0.7" fill="#ff9410" transform="rotate(-25 86.5 80.8)"/>
<ellipse cx="97.9" cy="85.6" rx="1.4" ry="2" fill="#d0f250" opacity="0.6"/>
<ellipse cx="97.9" cy="85.6" rx="1" ry="1.5" fill="#ffe41c" opacity="0.95"/>
<ellipse cx="97.9" cy="85.6" rx="0.7" ry="0.9" fill="#ff9410"/>
<ellipse cx="104" cy="83.4" rx="1.1" ry="1.1" fill="#3cd4f4" opacity="0.7"/>
<ellipse cx="104" cy="83.4" rx="0.8" ry="0.8" fill="#2cb4ff" opacity="0.9"/>
<ellipse cx="114.7" cy="82" rx="1.1" ry="1.1" fill="#3cd4f4" opacity="0.7"/>
<ellipse cx="114.7" cy="82" rx="0.8" ry="0.8" fill="#2cb4ff" opacity="0.9"/>
<ellipse cx="106.9" cy="89.6" rx="2.4" ry="1.2" fill="#b4f268" opacity="0.6"/>
<ellipse cx="106.9" cy="89.6" rx="1.6" ry="0.8" fill="#f0f030" opacity="0.95"/>
<ellipse cx="77.6" cy="92" rx="1.4" ry="1.4" fill="#38d0f4" opacity="0.7"/>
<ellipse cx="77.6" cy="92" rx="0.9" ry="0.9" fill="#1c84ff" opacity="0.95"/>
<ellipse cx="77.6" cy="92" rx="0.7" ry="0.7" fill="#1040f0"/>
<ellipse cx="74" cy="89.9" rx="2.4" ry="0.9" fill="#b4f268" opacity="0.6" transform="rotate(-35 74 89.9)"/>
<ellipse cx="74" cy="89.9" rx="1.6" ry="0.7" fill="#f0f030" opacity="0.95" transform="rotate(-35 74 89.9)"/>
<ellipse cx="121.1" cy="77" rx="3" ry="0.9" fill="#b4f268" opacity="0.6" transform="rotate(-35 121.1 77)"/>
<ellipse cx="121.1" cy="77" rx="2" ry="0.7" fill="#f0f030" opacity="0.95" transform="rotate(-35 121.1 77)"/>
<ellipse cx="123.3" cy="87.7" rx="1.8" ry="1.2" fill="#b4f268" opacity="0.6"/>
<ellipse cx="123.3" cy="87.7" rx="1.2" ry="0.8" fill="#f0f030" opacity="0.95"/>
<ellipse cx="68.3" cy="93.9" rx="2" ry="1" fill="#d0f250" opacity="0.6"/>
<ellipse cx="68.3" cy="93.9" rx="1.5" ry="0.8" fill="#ffe41c" opacity="0.95"/>
<ellipse cx="68.3" cy="93.9" rx="0.9" ry="0.7" fill="#ff9410"/>
</g></g>
<g clip-path="url(#cpc)">
<rect x="88" y="140.2" width="133.3" height="99.4" fill="#8cf090"/>
<g transform="rotate(-35 154.7 189.9)"><rect x="54.7" y="89.9" width="200" height="200" filter="url(#txc)"/></g>
<g filter="url(#bl)" transform="translate(90 142)">
<ellipse cx="50" cy="4.4" rx="3.5" ry="1.7" fill="#d8f24c" opacity="0.6"/>
<ellipse cx="50" cy="4.4" rx="2.8" ry="1.4" fill="#ffdc1c" opacity="0.95"/>
<ellipse cx="50" cy="4.4" rx="2" ry="1" fill="#ff7a10"/>
<ellipse cx="50" cy="4.4" rx="1.3" ry="0.7" fill="#ea1408"/>
<ellipse cx="55" cy="3.4" rx="2.2" ry="1.5" fill="#d0f250" opacity="0.6"/>
<ellipse cx="55" cy="3.4" rx="1.7" ry="1.1" fill="#ffe41c" opacity="0.95"/>
<ellipse cx="55" cy="3.4" rx="1" ry="0.7" fill="#ff9410"/>
<ellipse cx="62.9" cy="4.4" rx="2.6" ry="2.6" fill="#d8f24c" opacity="0.6"/>
<ellipse cx="62.9" cy="4.4" rx="2.1" ry="2.1" fill="#ffdc1c" opacity="0.95"/>
<ellipse cx="62.9" cy="4.4" rx="1.5" ry="1.5" fill="#ff7a10"/>
<ellipse cx="62.9" cy="4.4" rx="1" ry="1" fill="#ea1408"/>
<ellipse cx="55" cy="9.7" rx="2.6" ry="2.6" fill="#58ecd0" opacity="0.7"/>
<ellipse cx="55" cy="9.7" rx="2.6" ry="2.6" fill="#38d0f4" opacity="0.7"/>
<ellipse cx="55" cy="9.7" rx="2" ry="2" fill="#1870ff" opacity="0.95"/>
<ellipse cx="55" cy="9.7" rx="1.4" ry="1.4" fill="#0c28e0"/>
<ellipse cx="55" cy="9.7" rx="0.7" ry="0.7" fill="#0810b0"/>
<ellipse cx="60" cy="10.6" rx="1.3" ry="1.3" fill="#58ecd0" opacity="0.7"/>
<ellipse cx="60" cy="10.6" rx="1.2" ry="1.2" fill="#38d0f4" opacity="0.7"/>
<ellipse cx="60" cy="10.6" rx="0.9" ry="0.9" fill="#1c84ff" opacity="0.95"/>
<ellipse cx="60" cy="10.6" rx="0.7" ry="0.7" fill="#1040f0"/>
<ellipse cx="41.4" cy="9.4" rx="5.2" ry="1.9" fill="#d0f250" opacity="0.6" transform="rotate(-20 41.4 9.4)"/>
<ellipse cx="41.4" cy="9.4" rx="3.9" ry="1.4" fill="#ffe41c" opacity="0.95" transform="rotate(-20 41.4 9.4)"/>
<ellipse cx="41.4" cy="9.4" rx="2.3" ry="0.8" fill="#ff9410" transform="rotate(-20 41.4 9.4)"/>
<ellipse cx="40.7" cy="13.7" rx="1.3" ry="1.3" fill="#58ecd0" opacity="0.7"/>
<ellipse cx="40.7" cy="13.7" rx="1.2" ry="1.2" fill="#38d0f4" opacity="0.7"/>
<ellipse cx="40.7" cy="13.7" rx="0.9" ry="0.9" fill="#1c84ff" opacity="0.95"/>
<ellipse cx="40.7" cy="13.7" rx="0.7" ry="0.7" fill="#1040f0"/>
<ellipse cx="30" cy="12.3" rx="3.5" ry="2.6" fill="#d8f24c" opacity="0.6" transform="rotate(30 30 12.3)"/>
<ellipse cx="30" cy="12.3" rx="2.8" ry="2.1" fill="#ffdc1c" opacity="0.95" transform="rotate(30 30 12.3)"/>
<ellipse cx="30" cy="12.3" rx="2" ry="1.5" fill="#ff7a10" transform="rotate(30 30 12.3)"/>
<ellipse cx="30" cy="12.3" rx="1.3" ry="1" fill="#ea1408" transform="rotate(30 30 12.3)"/>
<ellipse cx="47.9" cy="15.9" rx="2.2" ry="1.5" fill="#d0f250" opacity="0.6"/>
<ellipse cx="47.9" cy="15.9" rx="1.7" ry="1.1" fill="#ffe41c" opacity="0.95"/>
<ellipse cx="47.9" cy="15.9" rx="1" ry="0.7" fill="#ff9410"/>
<ellipse cx="46.4" cy="19.7" rx="3.5" ry="1.7" fill="#d8f24c" opacity="0.6" transform="rotate(15 46.4 19.7)"/>
<ellipse cx="46.4" cy="19.7" rx="2.8" ry="1.4" fill="#ffdc1c" opacity="0.95" transform="rotate(15 46.4 19.7)"/>
<ellipse cx="46.4" cy="19.7" rx="2" ry="1" fill="#ff7a10" transform="rotate(15 46.4 19.7)"/>
<ellipse cx="46.4" cy="19.7" rx="1.3" ry="0.7" fill="#ea1408" transform="rotate(15 46.4 19.7)"/>
<ellipse cx="31.4" cy="24.4" rx="4.3" ry="2.6" fill="#d8f24c" opacity="0.6" transform="rotate(-20 31.4 24.4)"/>
<ellipse cx="31.4" cy="24.4" rx="3.4" ry="2.1" fill="#ffdc1c" opacity="0.95" transform="rotate(-20 31.4 24.4)"/>
<ellipse cx="31.4" cy="24.4" rx="2.5" ry="1.5" fill="#ff7a10" transform="rotate(-20 31.4 24.4)"/>
<ellipse cx="31.4" cy="24.4" rx="1.7" ry="1" fill="#ea1408" transform="rotate(-20 31.4 24.4)"/>
<ellipse cx="30" cy="28" rx="2.2" ry="4.3" fill="#d8f24c" opacity="0.6" transform="rotate(10 30 28)"/>
<ellipse cx="30" cy="28" rx="1.7" ry="3.4" fill="#ffdc1c" opacity="0.95" transform="rotate(10 30 28)"/>
<ellipse cx="30" cy="28" rx="1.3" ry="2.5" fill="#ff7a10" transform="rotate(10 30 28)"/>
<ellipse cx="30" cy="28" rx="0.8" ry="1.7" fill="#ea1408" transform="rotate(10 30 28)"/>
<ellipse cx="2.1" cy="16.6" rx="2.6" ry="1.7" fill="#d8f24c" opacity="0.6"/>
<ellipse cx="2.1" cy="16.6" rx="2.1" ry="1.4" fill="#ffdc1c" opacity="0.95"/>
<ellipse cx="2.1" cy="16.6" rx="1.5" ry="1" fill="#ff7a10"/>
<ellipse cx="2.1" cy="16.6" rx="1" ry="0.7" fill="#ea1408"/>
<ellipse cx="14.3" cy="14.4" rx="1.5" ry="1.5" fill="#d0f250" opacity="0.6"/>
<ellipse cx="14.3" cy="14.4" rx="1.1" ry="1.1" fill="#ffe41c" opacity="0.95"/>
<ellipse cx="14.3" cy="14.4" rx="0.7" ry="0.7" fill="#ff9410"/>
<ellipse cx="4.3" cy="28.7" rx="4.3" ry="3.5" fill="#d8f24c" opacity="0.6" transform="rotate(20 4.3 28.7)"/>
<ellipse cx="4.3" cy="28.7" rx="3.4" ry="2.8" fill="#ffdc1c" opacity="0.95" transform="rotate(20 4.3 28.7)"/>
<ellipse cx="4.3" cy="28.7" rx="2.5" ry="2" fill="#ff7a10" transform="rotate(20 4.3 28.7)"/>
<ellipse cx="4.3" cy="28.7" rx="1.7" ry="1.3" fill="#ea1408" transform="rotate(20 4.3 28.7)"/>
<ellipse cx="15" cy="9.4" rx="1.8" ry="3" fill="#b4f268" opacity="0.6"/>
<ellipse cx="15" cy="9.4" rx="1.2" ry="2" fill="#f0f030" opacity="0.95"/>
<ellipse cx="21.4" cy="3.7" rx="2" ry="2" fill="#6cecc4" opacity="0.7"/>
<ellipse cx="21.4" cy="3.7" rx="1.4" ry="1.4" fill="#44dcec" opacity="0.8"/>
<ellipse cx="21.4" cy="3.7" rx="0.8" ry="0.8" fill="#34c0fc" opacity="0.8"/>
<ellipse cx="18.6" cy="12.3" rx="1.3" ry="1.3" fill="#6cecc4" opacity="0.7"/>
<ellipse cx="18.6" cy="12.3" rx="0.9" ry="0.9" fill="#44dcec" opacity="0.8"/>
<ellipse cx="18.6" cy="12.3" rx="0.7" ry="0.7" fill="#34c0fc" opacity="0.8"/>
<ellipse cx="7.1" cy="8" rx="2.7" ry="1.3" fill="#6cecc4" opacity="0.7"/>
<ellipse cx="7.1" cy="8" rx="1.9" ry="0.9" fill="#44dcec" opacity="0.8"/>
<ellipse cx="7.1" cy="8" rx="1" ry="0.7" fill="#34c0fc" opacity="0.8"/>
<ellipse cx="48.6" cy="28.7" rx="2" ry="1.3" fill="#6cecc4" opacity="0.7"/>
<ellipse cx="48.6" cy="28.7" rx="1.4" ry="0.9" fill="#44dcec" opacity="0.8"/>
<ellipse cx="48.6" cy="28.7" rx="0.8" ry="0.7" fill="#34c0fc" opacity="0.8"/>
<ellipse cx="41.4" cy="25.9" rx="2.2" ry="1.5" fill="#d0f250" opacity="0.6"/>
<ellipse cx="41.4" cy="25.9" rx="1.7" ry="1.1" fill="#ffe41c" opacity="0.95"/>
<ellipse cx="41.4" cy="25.9" rx="1" ry="0.7" fill="#ff9410"/>
<ellipse cx="25.7" cy="23.7" rx="1.3" ry="1.3" fill="#6cecc4" opacity="0.7"/>
<ellipse cx="25.7" cy="23.7" rx="0.9" ry="0.9" fill="#44dcec" opacity="0.8"/>
<ellipse cx="25.7" cy="23.7" rx="0.7" ry="0.7" fill="#34c0fc" opacity="0.8"/>
<ellipse cx="8.6" cy="22.3" rx="2" ry="1.3" fill="#6cecc4" opacity="0.7"/>
<ellipse cx="8.6" cy="22.3" rx="1.4" ry="0.9" fill="#44dcec" opacity="0.8"/>
<ellipse cx="8.6" cy="22.3" rx="0.8" ry="0.7" fill="#34c0fc" opacity="0.8"/>
<ellipse cx="66.6" cy="2.6" rx="7.8" ry="3" fill="#d8f24c" opacity="0.6" transform="rotate(-35 66.6 2.6)"/>
<ellipse cx="66.6" cy="2.6" rx="6.5" ry="2.4" fill="#ffdc1c" opacity="0.95" transform="rotate(-35 66.6 2.6)"/>
<ellipse cx="66.6" cy="2.6" rx="5.1" ry="1.9" fill="#ff6a10" transform="rotate(-35 66.6 2.6)"/>
<ellipse cx="66.6" cy="2.6" rx="3.9" ry="1.5" fill="#e01008" transform="rotate(-35 66.6 2.6)"/>
<ellipse cx="66.6" cy="2.6" rx="2.3" ry="0.9" fill="#a80000" transform="rotate(-35 66.6 2.6)"/>
<ellipse cx="100.4" cy="3.7" rx="3.3" ry="1.3" fill="#58ecd0" opacity="0.7" transform="rotate(15 100.4 3.7)"/>
<ellipse cx="100.4" cy="3.7" rx="3" ry="1.2" fill="#38d0f4" opacity="0.7" transform="rotate(15 100.4 3.7)"/>
<ellipse cx="100.4" cy="3.7" rx="2.1" ry="0.9" fill="#1c84ff" opacity="0.95" transform="rotate(15 100.4 3.7)"/>
<ellipse cx="100.4" cy="3.7" rx="1.2" ry="0.7" fill="#1040f0" transform="rotate(15 100.4 3.7)"/>
<ellipse cx="93.3" cy="7.3" rx="1.3" ry="1.3" fill="#58ecd0" opacity="0.7"/>
<ellipse cx="93.3" cy="7.3" rx="1.2" ry="1.2" fill="#38d0f4" opacity="0.7"/>
<ellipse cx="93.3" cy="7.3" rx="0.9" ry="0.9" fill="#1c84ff" opacity="0.95"/>
<ellipse cx="93.3" cy="7.3" rx="0.7" ry="0.7" fill="#1040f0"/>
<ellipse cx="119" cy="6.6" rx="2" ry="2" fill="#58ecd0" opacity="0.7"/>
<ellipse cx="119" cy="6.6" rx="1.8" ry="1.8" fill="#38d0f4" opacity="0.7"/>
<ellipse cx="119" cy="6.6" rx="1.3" ry="1.3" fill="#1c84ff" opacity="0.95"/>
<ellipse cx="119" cy="6.6" rx="0.7" ry="0.7" fill="#1040f0"/>
<ellipse cx="92.6" cy="3.7" rx="1.5" ry="1.5" fill="#d0f250" opacity="0.6"/>
<ellipse cx="92.6" cy="3.7" rx="1.1" ry="1.1" fill="#ffe41c" opacity="0.95"/>
<ellipse cx="92.6" cy="3.7" rx="0.7" ry="0.7" fill="#ff9410"/>
<ellipse cx="96.9" cy="12.3" rx="1.5" ry="3.7" fill="#d0f250" opacity="0.6"/>
<ellipse cx="96.9" cy="12.3" rx="1.1" ry="2.8" fill="#ffe41c" opacity="0.95"/>
<ellipse cx="96.9" cy="12.3" rx="0.7" ry="1.6" fill="#ff9410"/>
<ellipse cx="106.9" cy="13.7" rx="3" ry="3" fill="#d0f250" opacity="0.6" transform="rotate(30 106.9 13.7)"/>
<ellipse cx="106.9" cy="13.7" rx="2.2" ry="2.2" fill="#ffe41c" opacity="0.95" transform="rotate(30 106.9 13.7)"/>
<ellipse cx="106.9" cy="13.7" rx="1.3" ry="1.3" fill="#ff9410" transform="rotate(30 106.9 13.7)"/>
<ellipse cx="89" cy="11.6" rx="2.7" ry="2" fill="#6cecc4" opacity="0.7"/>
<ellipse cx="89" cy="11.6" rx="1.9" ry="1.4" fill="#44dcec" opacity="0.8"/>
<ellipse cx="89" cy="11.6" rx="1" ry="0.8" fill="#34c0fc" opacity="0.8"/>
<ellipse cx="75.4" cy="10.1" rx="2" ry="1.3" fill="#58ecd0" opacity="0.7"/>
<ellipse cx="75.4" cy="10.1" rx="1.8" ry="1.2" fill="#38d0f4" opacity="0.7"/>
<ellipse cx="75.4" cy="10.1" rx="1.3" ry="0.9" fill="#1c84ff" opacity="0.95"/>
<ellipse cx="75.4" cy="10.1" rx="0.7" ry="0.7" fill="#1040f0"/>
<ellipse cx="73.3" cy="14.9" rx="3" ry="1.5" fill="#d0f250" opacity="0.6" transform="rotate(30 73.3 14.9)"/>
<ellipse cx="73.3" cy="14.9" rx="2.2" ry="1.1" fill="#ffe41c" opacity="0.95" transform="rotate(30 73.3 14.9)"/>
<ellipse cx="73.3" cy="14.9" rx="1.3" ry="0.7" fill="#ff9410" transform="rotate(30 73.3 14.9)"/>
<ellipse cx="85.4" cy="19.1" rx="3.5" ry="2.6" fill="#d8f24c" opacity="0.6" transform="rotate(-30 85.4 19.1)"/>
<ellipse cx="85.4" cy="19.1" rx="2.8" ry="2.1" fill="#ffdc1c" opacity="0.95" transform="rotate(-30 85.4 19.1)"/>
<ellipse cx="85.4" cy="19.1" rx="2" ry="1.5" fill="#ff7a10" transform="rotate(-30 85.4 19.1)"/>
<ellipse cx="85.4" cy="19.1" rx="1.3" ry="1" fill="#ea1408" transform="rotate(-30 85.4 19.1)"/>
<ellipse cx="89.7" cy="20.1" rx="2" ry="1.3" fill="#6cecc4" opacity="0.7"/>
<ellipse cx="89.7" cy="20.1" rx="1.4" ry="0.9" fill="#44dcec" opacity="0.8"/>
<ellipse cx="89.7" cy="20.1" rx="0.8" ry="0.7" fill="#34c0fc" opacity="0.8"/>
<ellipse cx="104" cy="16.3" rx="1.3" ry="1.3" fill="#58ecd0" opacity="0.7"/>
<ellipse cx="104" cy="16.3" rx="1.2" ry="1.2" fill="#38d0f4" opacity="0.7"/>
<ellipse cx="104" cy="16.3" rx="0.9" ry="0.9" fill="#1c84ff" opacity="0.95"/>
<ellipse cx="104" cy="16.3" rx="0.7" ry="0.7" fill="#1040f0"/>
<ellipse cx="114.7" cy="18.7" rx="2.2" ry="1.5" fill="#d0f250" opacity="0.6"/>
<ellipse cx="114.7" cy="18.7" rx="1.7" ry="1.1" fill="#ffe41c" opacity="0.95"/>
<ellipse cx="114.7" cy="18.7" rx="1" ry="0.7" fill="#ff9410"/>
<ellipse cx="98.3" cy="25.9" rx="2.6" ry="2.6" fill="#58ecd0" opacity="0.7"/>
<ellipse cx="98.3" cy="25.9" rx="2.4" ry="2.4" fill="#38d0f4" opacity="0.7"/>
<ellipse cx="98.3" cy="25.9" rx="1.7" ry="1.7" fill="#1c84ff" opacity="0.95"/>
<ellipse cx="98.3" cy="25.9" rx="1" ry="1" fill="#1040f0"/>
<ellipse cx="101.9" cy="29.4" rx="2" ry="2" fill="#58ecd0" opacity="0.7"/>
<ellipse cx="101.9" cy="29.4" rx="1.8" ry="1.8" fill="#38d0f4" opacity="0.7"/>
<ellipse cx="101.9" cy="29.4" rx="1.3" ry="1.3" fill="#1c84ff" opacity="0.95"/>
<ellipse cx="101.9" cy="29.4" rx="0.7" ry="0.7" fill="#1040f0"/>
<ellipse cx="112.6" cy="28" rx="2" ry="2" fill="#58ecd0" opacity="0.7"/>
<ellipse cx="112.6" cy="28" rx="1.8" ry="1.8" fill="#38d0f4" opacity="0.7"/>
<ellipse cx="112.6" cy="28" rx="1.3" ry="1.3" fill="#1c84ff" opacity="0.95"/>
<ellipse cx="112.6" cy="28" rx="0.7" ry="0.7" fill="#1040f0"/>
<ellipse cx="111.1" cy="24.4" rx="1.5" ry="1.5" fill="#d0f250" opacity="0.6"/>
<ellipse cx="111.1" cy="24.4" rx="1.1" ry="1.1" fill="#ffe41c" opacity="0.95"/>
<ellipse cx="111.1" cy="24.4" rx="0.7" ry="0.7" fill="#ff9410"/>
<ellipse cx="119.7" cy="24.4" rx="2.2" ry="1.5" fill="#d0f250" opacity="0.6"/>
<ellipse cx="119.7" cy="24.4" rx="1.7" ry="1.1" fill="#ffe41c" opacity="0.95"/>
<ellipse cx="119.7" cy="24.4" rx="1" ry="0.7" fill="#ff9410"/>
<ellipse cx="74" cy="23.7" rx="1.5" ry="1.5" fill="#d0f250" opacity="0.6"/>
<ellipse cx="74" cy="23.7" rx="1.1" ry="1.1" fill="#ffe41c" opacity="0.95"/>
<ellipse cx="74" cy="23.7" rx="0.7" ry="0.7" fill="#ff9410"/>
<ellipse cx="65.4" cy="27.3" rx="2.2" ry="1.5" fill="#d0f250" opacity="0.6"/>
<ellipse cx="65.4" cy="27.3" rx="1.7" ry="1.1" fill="#ffe41c" opacity="0.95"/>
<ellipse cx="65.4" cy="27.3" rx="1" ry="0.7" fill="#ff9410"/>
<ellipse cx="85.4" cy="32.3" rx="2.2" ry="1.5" fill="#d0f250" opacity="0.6"/>
<ellipse cx="85.4" cy="32.3" rx="1.7" ry="1.1" fill="#ffe41c" opacity="0.95"/>
<ellipse cx="85.4" cy="32.3" rx="1" ry="0.7" fill="#ff9410"/>
<ellipse cx="68.3" cy="18" rx="2" ry="1.3" fill="#6cecc4" opacity="0.7"/>
<ellipse cx="68.3" cy="18" rx="1.4" ry="0.9" fill="#44dcec" opacity="0.8"/>
<ellipse cx="68.3" cy="18" rx="0.8" ry="0.7" fill="#34c0fc" opacity="0.8"/>
<ellipse cx="79.7" cy="4.4" rx="2" ry="1.3" fill="#6cecc4" opacity="0.7"/>
<ellipse cx="79.7" cy="4.4" rx="1.4" ry="0.9" fill="#44dcec" opacity="0.8"/>
<ellipse cx="79.7" cy="4.4" rx="0.8" ry="0.7" fill="#34c0fc" opacity="0.8"/>
<ellipse cx="36.4" cy="37.6" rx="3" ry="2.2" fill="#d0f250" opacity="0.6"/>
<ellipse cx="36.4" cy="37.6" rx="2.2" ry="1.7" fill="#ffe41c" opacity="0.95"/>
<ellipse cx="36.4" cy="37.6" rx="1.3" ry="1" fill="#ff9410"/>
<ellipse cx="57.1" cy="36.9" rx="3.3" ry="1.3" fill="#6cecc4" opacity="0.7"/>
<ellipse cx="57.1" cy="36.9" rx="2.4" ry="0.9" fill="#44dcec" opacity="0.8"/>
<ellipse cx="57.1" cy="36.9" rx="1.3" ry="0.7" fill="#34c0fc" opacity="0.8"/>
<ellipse cx="6.4" cy="36.1" rx="1.8" ry="1.2" fill="#b4f268" opacity="0.6"/>
<ellipse cx="6.4" cy="36.1" rx="1.2" ry="0.8" fill="#f0f030" opacity="0.95"/>
<ellipse cx="41.4" cy="46.9" rx="2" ry="1.3" fill="#58ecd0" opacity="0.7"/>
<ellipse cx="41.4" cy="46.9" rx="1.8" ry="1.2" fill="#38d0f4" opacity="0.7"/>
<ellipse cx="41.4" cy="46.9" rx="1.3" ry="0.9" fill="#1c84ff" opacity="0.95"/>
<ellipse cx="41.4" cy="46.9" rx="0.7" ry="0.7" fill="#1040f0"/>
<ellipse cx="55" cy="48.3" rx="1.3" ry="1.3" fill="#58ecd0" opacity="0.7"/>
<ellipse cx="55" cy="48.3" rx="1.2" ry="1.2" fill="#38d0f4" opacity="0.7"/>
<ellipse cx="55" cy="48.3" rx="0.9" ry="0.9" fill="#1c84ff" opacity="0.95"/>
<ellipse cx="55" cy="48.3" rx="0.7" ry="0.7" fill="#1040f0"/>
<ellipse cx="49.3" cy="49.7" rx="2.2" ry="1.5" fill="#d0f250" opacity="0.6"/>
<ellipse cx="49.3" cy="49.7" rx="1.7" ry="1.1" fill="#ffe41c" opacity="0.95"/>
<ellipse cx="49.3" cy="49.7" rx="1" ry="0.7" fill="#ff9410"/>
<ellipse cx="62.9" cy="49" rx="2.6" ry="4.3" fill="#d8f24c" opacity="0.6"/>
<ellipse cx="62.9" cy="49" rx="2.1" ry="3.4" fill="#ffdc1c" opacity="0.95"/>
<ellipse cx="62.9" cy="49" rx="1.5" ry="2.5" fill="#ff7a10"/>
<ellipse cx="62.9" cy="49" rx="1" ry="1.7" fill="#ea1408"/>
<ellipse cx="36.4" cy="52.6" rx="3.5" ry="2.6" fill="#d8f24c" opacity="0.6" transform="rotate(30 36.4 52.6)"/>
<ellipse cx="36.4" cy="52.6" rx="2.8" ry="2.1" fill="#ffdc1c" opacity="0.95" transform="rotate(30 36.4 52.6)"/>
<ellipse cx="36.4" cy="52.6" rx="2" ry="1.5" fill="#ff7a10" transform="rotate(30 36.4 52.6)"/>
<ellipse cx="36.4" cy="52.6" rx="1.3" ry="1" fill="#ea1408" transform="rotate(30 36.4 52.6)"/>
<ellipse cx="30.7" cy="51.9" rx="1.5" ry="1.5" fill="#d0f250" opacity="0.6"/>
<ellipse cx="30.7" cy="51.9" rx="1.1" ry="1.1" fill="#ffe41c" opacity="0.95"/>
<ellipse cx="30.7" cy="51.9" rx="0.7" ry="0.7" fill="#ff9410"/>
<ellipse cx="34.3" cy="54.7" rx="1.5" ry="1.5" fill="#d0f250" opacity="0.6"/>
<ellipse cx="34.3" cy="54.7" rx="1.1" ry="1.1" fill="#ffe41c" opacity="0.95"/>
<ellipse cx="34.3" cy="54.7" rx="0.7" ry="0.7" fill="#ff9410"/>
<ellipse cx="28.5" cy="57.5" rx="3.3" ry="2" fill="#58ecd0" opacity="0.7" transform="rotate(40 28.5 57.5)"/>
<ellipse cx="28.5" cy="57.5" rx="3.3" ry="2" fill="#38d0f4" opacity="0.7" transform="rotate(40 28.5 57.5)"/>
<ellipse cx="28.5" cy="57.5" rx="2.5" ry="1.5" fill="#1870ff" opacity="0.95" transform="rotate(40 28.5 57.5)"/>
<ellipse cx="28.5" cy="57.5" rx="1.7" ry="1" fill="#0c28e0" transform="rotate(40 28.5 57.5)"/>
<ellipse cx="28.5" cy="57.5" rx="0.9" ry="0.7" fill="#0810b0" transform="rotate(40 28.5 57.5)"/>
<ellipse cx="27.1" cy="46.9" rx="1.3" ry="1.3" fill="#58ecd0" opacity="0.7"/>
<ellipse cx="27.1" cy="46.9" rx="1.2" ry="1.2" fill="#38d0f4" opacity="0.7"/>
<ellipse cx="27.1" cy="46.9" rx="0.9" ry="0.9" fill="#1c84ff" opacity="0.95"/>
<ellipse cx="27.1" cy="46.9" rx="0.7" ry="0.7" fill="#1040f0"/>
<ellipse cx="57.9" cy="60.9" rx="2.6" ry="1.3" fill="#58ecd0" opacity="0.7" transform="rotate(15 57.9 60.9)"/>
<ellipse cx="57.9" cy="60.9" rx="2.4" ry="1.2" fill="#38d0f4" opacity="0.7" transform="rotate(15 57.9 60.9)"/>
<ellipse cx="57.9" cy="60.9" rx="1.7" ry="0.9" fill="#1c84ff" opacity="0.95" transform="rotate(15 57.9 60.9)"/>
<ellipse cx="57.9" cy="60.9" rx="1" ry="0.7" fill="#1040f0" transform="rotate(15 57.9 60.9)"/>
<ellipse cx="45" cy="63.3" rx="2.6" ry="3.5" fill="#d8f24c" opacity="0.6"/>
<ellipse cx="45" cy="63.3" rx="2.1" ry="2.8" fill="#ffdc1c" opacity="0.95"/>
<ellipse cx="45" cy="63.3" rx="1.5" ry="2" fill="#ff7a10"/>
<ellipse cx="45" cy="63.3" rx="1" ry="1.3" fill="#ea1408"/>
<ellipse cx="12.1" cy="60.4" rx="3" ry="1.5" fill="#d0f250" opacity="0.6" transform="rotate(30 12.1 60.4)"/>
<ellipse cx="12.1" cy="60.4" rx="2.2" ry="1.1" fill="#ffe41c" opacity="0.95" transform="rotate(30 12.1 60.4)"/>
<ellipse cx="12.1" cy="60.4" rx="1.3" ry="0.7" fill="#ff9410" transform="rotate(30 12.1 60.4)"/>
<ellipse cx="16.4" cy="64" rx="2.2" ry="1.5" fill="#d0f250" opacity="0.6" transform="rotate(30 16.4 64)"/>
<ellipse cx="16.4" cy="64" rx="1.7" ry="1.1" fill="#ffe41c" opacity="0.95" transform="rotate(30 16.4 64)"/>
<ellipse cx="16.4" cy="64" rx="1" ry="0.7" fill="#ff9410" transform="rotate(30 16.4 64)"/>
<ellipse cx="7.1" cy="58.6" rx="1.3" ry="1.3" fill="#58ecd0" opacity="0.7" transform="rotate(40 7.1 58.6)"/>
<ellipse cx="7.1" cy="58.6" rx="1.2" ry="1.2" fill="#38d0f4" opacity="0.7" transform="rotate(40 7.1 58.6)"/>
<ellipse cx="7.1" cy="58.6" rx="0.9" ry="0.9" fill="#1c84ff" opacity="0.95" transform="rotate(40 7.1 58.6)"/>
<ellipse cx="7.1" cy="58.6" rx="0.7" ry="0.7" fill="#1040f0" transform="rotate(40 7.1 58.6)"/>
<ellipse cx="10" cy="66.1" rx="2.2" ry="1.5" fill="#d0f250" opacity="0.6"/>
<ellipse cx="10" cy="66.1" rx="1.7" ry="1.1" fill="#ffe41c" opacity="0.95"/>
<ellipse cx="10" cy="66.1" rx="1" ry="0.7" fill="#ff9410"/>
<ellipse cx="10.7" cy="69" rx="1.3" ry="1.3" fill="#58ecd0" opacity="0.7"/>
<ellipse cx="10.7" cy="69" rx="1.2" ry="1.2" fill="#38d0f4" opacity="0.7"/>
<ellipse cx="10.7" cy="69" rx="0.9" ry="0.9" fill="#1c84ff" opacity="0.95"/>
<ellipse cx="10.7" cy="69" rx="0.7" ry="0.7" fill="#1040f0"/>
<ellipse cx="37.1" cy="68.6" rx="2.2" ry="1.5" fill="#d0f250" opacity="0.6"/>
<ellipse cx="37.1" cy="68.6" rx="1.7" ry="1.1" fill="#ffe41c" opacity="0.95"/>
<ellipse cx="37.1" cy="68.6" rx="1" ry="0.7" fill="#ff9410"/>
<ellipse cx="18.6" cy="48.3" rx="2" ry="1.3" fill="#6cecc4" opacity="0.7"/>
<ellipse cx="18.6" cy="48.3" rx="1.4" ry="0.9" fill="#44dcec" opacity="0.8"/>
<ellipse cx="18.6" cy="48.3" rx="0.8" ry="0.7" fill="#34c0fc" opacity="0.8"/>
<ellipse cx="18.6" cy="36.9" rx="1.8" ry="1.2" fill="#b4f268" opacity="0.6"/>
<ellipse cx="18.6" cy="36.9" rx="1.2" ry="0.8" fill="#f0f030" opacity="0.95"/>
<ellipse cx="79.7" cy="39" rx="4.3" ry="4.3" fill="#d8f24c" opacity="0.6" transform="rotate(30 79.7 39)"/>
<ellipse cx="79.7" cy="39" rx="3.4" ry="3.4" fill="#ffdc1c" opacity="0.95" transform="rotate(30 79.7 39)"/>
<ellipse cx="79.7" cy="39" rx="2.5" ry="2.5" fill="#ff7a10" transform="rotate(30 79.7 39)"/>
<ellipse cx="79.7" cy="39" rx="1.7" ry="1.7" fill="#ea1408" transform="rotate(30 79.7 39)"/>
<ellipse cx="116.1" cy="35.4" rx="2" ry="1.3" fill="#58ecd0" opacity="0.7"/>
<ellipse cx="116.1" cy="35.4" rx="1.8" ry="1.2" fill="#38d0f4" opacity="0.7"/>
<ellipse cx="116.1" cy="35.4" rx="1.3" ry="0.9" fill="#1c84ff" opacity="0.95"/>
<ellipse cx="116.1" cy="35.4" rx="0.7" ry="0.7" fill="#1040f0"/>
<ellipse cx="96.9" cy="39.4" rx="3.3" ry="1.3" fill="#6cecc4" opacity="0.7"/>
<ellipse cx="96.9" cy="39.4" rx="2.4" ry="0.9" fill="#44dcec" opacity="0.8"/>
<ellipse cx="96.9" cy="39.4" rx="1.3" ry="0.7" fill="#34c0fc" opacity="0.8"/>
<ellipse cx="69" cy="44" rx="1.3" ry="1.3" fill="#58ecd0" opacity="0.7"/>
<ellipse cx="69" cy="44" rx="1.2" ry="1.2" fill="#38d0f4" opacity="0.7"/>
<ellipse cx="69" cy="44" rx="0.9" ry="0.9" fill="#1c84ff" opacity="0.95"/>
<ellipse cx="69" cy="44" rx="0.7" ry="0.7" fill="#1040f0"/>
<ellipse cx="71.5" cy="44.5" rx="1.5" ry="1.5" fill="#d0f250" opacity="0.6"/>
<ellipse cx="71.5" cy="44.5" rx="1.1" ry="1.1" fill="#ffe41c" opacity="0.95"/>
<ellipse cx="71.5" cy="44.5" rx="0.7" ry="0.7" fill="#ff9410"/>
<ellipse cx="124" cy="44.3" rx="2.6" ry="1.3" fill="#58ecd0" opacity="0.7"/>
<ellipse cx="124" cy="44.3" rx="2.4" ry="1.2" fill="#38d0f4" opacity="0.7"/>
<ellipse cx="124" cy="44.3" rx="1.7" ry="0.9" fill="#1c84ff" opacity="0.95"/>
<ellipse cx="124" cy="44.3" rx="1" ry="0.7" fill="#1040f0"/>
<ellipse cx="121.1" cy="46.1" rx="1.5" ry="1.5" fill="#d0f250" opacity="0.6"/>
<ellipse cx="121.1" cy="46.1" rx="1.1" ry="1.1" fill="#ffe41c" opacity="0.95"/>
<ellipse cx="121.1" cy="46.1" rx="0.7" ry="0.7" fill="#ff9410"/>
<ellipse cx="111.1" cy="49" rx="2.2" ry="1.5" fill="#d0f250" opacity="0.6"/>
<ellipse cx="111.1" cy="49" rx="1.7" ry="1.1" fill="#ffe41c" opacity="0.95"/>
<ellipse cx="111.1" cy="49" rx="1" ry="0.7" fill="#ff9410"/>
<ellipse cx="86.1" cy="50" rx="1.3" ry="1.3" fill="#58ecd0" opacity="0.7"/>
<ellipse cx="86.1" cy="50" rx="1.2" ry="1.2" fill="#38d0f4" opacity="0.7"/>
<ellipse cx="86.1" cy="50" rx="0.9" ry="0.9" fill="#1c84ff" opacity="0.95"/>
<ellipse cx="86.1" cy="50" rx="0.7" ry="0.7" fill="#1040f0"/>
<ellipse cx="82.6" cy="51.1" rx="1.3" ry="1.3" fill="#6cecc4" opacity="0.7"/>
<ellipse cx="82.6" cy="51.1" rx="0.9" ry="0.9" fill="#44dcec" opacity="0.8"/>
<ellipse cx="82.6" cy="51.1" rx="0.7" ry="0.7" fill="#34c0fc" opacity="0.8"/>
<ellipse cx="96.9" cy="51.9" rx="3.3" ry="3.3" fill="#58ecd0" opacity="0.7"/>
<ellipse cx="96.9" cy="51.9" rx="3.3" ry="3.3" fill="#38d0f4" opacity="0.7"/>
<ellipse cx="96.9" cy="51.9" rx="2.5" ry="2.5" fill="#1870ff" opacity="0.95"/>
<ellipse cx="96.9" cy="51.9" rx="1.7" ry="1.7" fill="#0c28e0"/>
<ellipse cx="96.9" cy="51.9" rx="0.9" ry="0.9" fill="#0810b0"/>
<ellipse cx="93" cy="49" rx="2.7" ry="2" fill="#6cecc4" opacity="0.7"/>
<ellipse cx="93" cy="49" rx="1.9" ry="1.4" fill="#44dcec" opacity="0.8"/>
<ellipse cx="93" cy="49" rx="1" ry="0.8" fill="#34c0fc" opacity="0.8"/>
<ellipse cx="64.7" cy="52.6" rx="1.7" ry="3.5" fill="#d8f24c" opacity="0.6"/>
<ellipse cx="64.7" cy="52.6" rx="1.4" ry="2.8" fill="#ffdc1c" opacity="0.95"/>
<ellipse cx="64.7" cy="52.6" rx="1" ry="2" fill="#ff7a10"/>
<ellipse cx="64.7" cy="52.6" rx="0.7" ry="1.3" fill="#ea1408"/>
<ellipse cx="103.3" cy="55.4" rx="2.2" ry="1.5" fill="#d0f250" opacity="0.6"/>
<ellipse cx="103.3" cy="55.4" rx="1.7" ry="1.1" fill="#ffe41c" opacity="0.95"/>
<ellipse cx="103.3" cy="55.4" rx="1" ry="0.7" fill="#ff9410"/>
<ellipse cx="126.9" cy="57.6" rx="2.6" ry="2.6" fill="#d8f24c" opacity="0.6"/>
<ellipse cx="126.9" cy="57.6" rx="2.1" ry="2.1" fill="#ffdc1c" opacity="0.95"/>
<ellipse cx="126.9" cy="57.6" rx="1.5" ry="1.5" fill="#ff7a10"/>
<ellipse cx="126.9" cy="57.6" rx="1" ry="1" fill="#ea1408"/>
<ellipse cx="86.1" cy="62.6" rx="1.7" ry="1.7" fill="#d8f24c" opacity="0.6"/>
<ellipse cx="86.1" cy="62.6" rx="1.4" ry="1.4" fill="#ffdc1c" opacity="0.95"/>
<ellipse cx="86.1" cy="62.6" rx="1" ry="1" fill="#ff7a10"/>
<ellipse cx="86.1" cy="62.6" rx="0.7" ry="0.7" fill="#ea1408"/>
<ellipse cx="110.4" cy="65.4" rx="2.6" ry="1.3" fill="#58ecd0" opacity="0.7"/>
<ellipse cx="110.4" cy="65.4" rx="2.4" ry="1.2" fill="#38d0f4" opacity="0.7"/>
<ellipse cx="110.4" cy="65.4" rx="1.7" ry="0.9" fill="#1c84ff" opacity="0.95"/>
<ellipse cx="110.4" cy="65.4" rx="1" ry="0.7" fill="#1040f0"/>
<ellipse cx="106.9" cy="64" rx="1.5" ry="1.5" fill="#d0f250" opacity="0.6"/>
<ellipse cx="106.9" cy="64" rx="1.1" ry="1.1" fill="#ffe41c" opacity="0.95"/>
<ellipse cx="106.9" cy="64" rx="0.7" ry="0.7" fill="#ff9410"/>
<ellipse cx="71.1" cy="69" rx="2.2" ry="1.5" fill="#d0f250" opacity="0.6"/>
<ellipse cx="71.1" cy="69" rx="1.7" ry="1.1" fill="#ffe41c" opacity="0.95"/>
<ellipse cx="71.1" cy="69" rx="1" ry="0.7" fill="#ff9410"/>
<ellipse cx="107.6" cy="55.4" rx="1.3" ry="1.3" fill="#6cecc4" opacity="0.7"/>
<ellipse cx="107.6" cy="55.4" rx="0.9" ry="0.9" fill="#44dcec" opacity="0.8"/>
<ellipse cx="107.6" cy="55.4" rx="0.7" ry="0.7" fill="#34c0fc" opacity="0.8"/>
<ellipse cx="89" cy="42.9" rx="1.5" ry="1.5" fill="#d0f250" opacity="0.6"/>
<ellipse cx="89" cy="42.9" rx="1.1" ry="1.1" fill="#ffe41c" opacity="0.95"/>
<ellipse cx="89" cy="42.9" rx="0.7" ry="0.7" fill="#ff9410"/>
<ellipse cx="25" cy="71.6" rx="2.6" ry="1.3" fill="#58ecd0" opacity="0.7" transform="rotate(-10 25 71.6)"/>
<ellipse cx="25" cy="71.6" rx="2.4" ry="1.2" fill="#38d0f4" opacity="0.7" transform="rotate(-10 25 71.6)"/>
<ellipse cx="25" cy="71.6" rx="1.7" ry="0.9" fill="#1c84ff" opacity="0.95" transform="rotate(-10 25 71.6)"/>
<ellipse cx="25" cy="71.6" rx="1" ry="0.7" fill="#1040f0" transform="rotate(-10 25 71.6)"/>
<ellipse cx="30.7" cy="73.4" rx="1.3" ry="1.3" fill="#58ecd0" opacity="0.7"/>
<ellipse cx="30.7" cy="73.4" rx="1.2" ry="1.2" fill="#38d0f4" opacity="0.7"/>
<ellipse cx="30.7" cy="73.4" rx="0.9" ry="0.9" fill="#1c84ff" opacity="0.95"/>
<ellipse cx="30.7" cy="73.4" rx="0.7" ry="0.7" fill="#1040f0"/>
<ellipse cx="49.3" cy="77.7" rx="1.3" ry="1.3" fill="#58ecd0" opacity="0.7"/>
<ellipse cx="49.3" cy="77.7" rx="1.2" ry="1.2" fill="#38d0f4" opacity="0.7"/>
<ellipse cx="49.3" cy="77.7" rx="0.9" ry="0.9" fill="#1c84ff" opacity="0.95"/>
<ellipse cx="49.3" cy="77.7" rx="0.7" ry="0.7" fill="#1040f0"/>
<ellipse cx="21.4" cy="82" rx="2.2" ry="1.5" fill="#d0f250" opacity="0.6"/>
<ellipse cx="21.4" cy="82" rx="1.7" ry="1.1" fill="#ffe41c" opacity="0.95"/>
<ellipse cx="21.4" cy="82" rx="1" ry="0.7" fill="#ff9410"/>
<ellipse cx="21.4" cy="86.6" rx="2" ry="1.3" fill="#6cecc4" opacity="0.7"/>
<ellipse cx="21.4" cy="86.6" rx="1.4" ry="0.9" fill="#44dcec" opacity="0.8"/>
<ellipse cx="21.4" cy="86.6" rx="0.8" ry="0.7" fill="#34c0fc" opacity="0.8"/>
<ellipse cx="7.9" cy="89.4" rx="2.2" ry="1.5" fill="#d0f250" opacity="0.6"/>
<ellipse cx="7.9" cy="89.4" rx="1.7" ry="1.1" fill="#ffe41c" opacity="0.95"/>
<ellipse cx="7.9" cy="89.4" rx="1" ry="0.7" fill="#ff9410"/>
<ellipse cx="22.9" cy="93" rx="3.3" ry="3.3" fill="#58ecd0" opacity="0.7"/>
<ellipse cx="22.9" cy="93" rx="3.3" ry="3.3" fill="#38d0f4" opacity="0.7"/>
<ellipse cx="22.9" cy="93" rx="2.5" ry="2.5" fill="#1870ff" opacity="0.95"/>
<ellipse cx="22.9" cy="93" rx="1.7" ry="1.7" fill="#0c28e0"/>
<ellipse cx="22.9" cy="93" rx="0.9" ry="0.9" fill="#0810b0"/>
<ellipse cx="57.9" cy="83" rx="2.2" ry="1.5" fill="#d0f250" opacity="0.6"/>
<ellipse cx="57.9" cy="83" rx="1.7" ry="1.1" fill="#ffe41c" opacity="0.95"/>
<ellipse cx="57.9" cy="83" rx="1" ry="0.7" fill="#ff9410"/>
<ellipse cx="41.4" cy="91.6" rx="2.2" ry="3" fill="#d0f250" opacity="0.6"/>
<ellipse cx="41.4" cy="91.6" rx="1.7" ry="2.2" fill="#ffe41c" opacity="0.95"/>
<ellipse cx="41.4" cy="91.6" rx="1" ry="1.3" fill="#ff9410"/>
<ellipse cx="37.9" cy="69.1" rx="2.2" ry="1.5" fill="#d0f250" opacity="0.6"/>
<ellipse cx="37.9" cy="69.1" rx="1.7" ry="1.1" fill="#ffe41c" opacity="0.95"/>
<ellipse cx="37.9" cy="69.1" rx="1" ry="0.7" fill="#ff9410"/>
<ellipse cx="8.6" cy="72.3" rx="1.8" ry="1.2" fill="#b4f268" opacity="0.6"/>
<ellipse cx="8.6" cy="72.3" rx="1.2" ry="0.8" fill="#f0f030" opacity="0.95"/>
<ellipse cx="90.8" cy="72.2" rx="5.9" ry="1.1" fill="#d0f250" opacity="0.6" transform="rotate(35 90.8 72.2)"/>
<ellipse cx="90.8" cy="72.2" rx="4.4" ry="0.8" fill="#ffe41c" opacity="0.95" transform="rotate(35 90.8 72.2)"/>
<ellipse cx="90.8" cy="72.2" rx="2.6" ry="0.7" fill="#ff9410" transform="rotate(35 90.8 72.2)"/>
<ellipse cx="69.7" cy="69.4" rx="2.2" ry="1.5" fill="#d0f250" opacity="0.6"/>
<ellipse cx="69.7" cy="69.4" rx="1.7" ry="1.1" fill="#ffe41c" opacity="0.95"/>
<ellipse cx="69.7" cy="69.4" rx="1" ry="0.7" fill="#ff9410"/>
<ellipse cx="86.9" cy="81.6" rx="2" ry="1.3" fill="#58ecd0" opacity="0.7" transform="rotate(-20 86.9 81.6)"/>
<ellipse cx="86.9" cy="81.6" rx="1.8" ry="1.2" fill="#38d0f4" opacity="0.7" transform="rotate(-20 86.9 81.6)"/>
<ellipse cx="86.9" cy="81.6" rx="1.3" ry="0.9" fill="#1c84ff" opacity="0.95" transform="rotate(-20 86.9 81.6)"/>
<ellipse cx="86.9" cy="81.6" rx="0.7" ry="0.7" fill="#1040f0" transform="rotate(-20 86.9 81.6)"/>
<ellipse cx="97.6" cy="85.9" rx="2.6" ry="2.6" fill="#58ecd0" opacity="0.7"/>
<ellipse cx="97.6" cy="85.9" rx="2.4" ry="2.4" fill="#38d0f4" opacity="0.7"/>
<ellipse cx="97.6" cy="85.9" rx="1.7" ry="1.7" fill="#1c84ff" opacity="0.95"/>
<ellipse cx="97.6" cy="85.9" rx="1" ry="1" fill="#1040f0"/>
<ellipse cx="107.6" cy="90.1" rx="2.6" ry="1.3" fill="#58ecd0" opacity="0.7"/>
<ellipse cx="107.6" cy="90.1" rx="2.4" ry="1.2" fill="#38d0f4" opacity="0.7"/>
<ellipse cx="107.6" cy="90.1" rx="1.7" ry="0.9" fill="#1c84ff" opacity="0.95"/>
<ellipse cx="107.6" cy="90.1" rx="1" ry="0.7" fill="#1040f0"/>
<ellipse cx="104.7" cy="84.9" rx="1.5" ry="1.5" fill="#d0f250" opacity="0.6"/>
<ellipse cx="104.7" cy="84.9" rx="1.1" ry="1.1" fill="#ffe41c" opacity="0.95"/>
<ellipse cx="104.7" cy="84.9" rx="0.7" ry="0.7" fill="#ff9410"/>
<ellipse cx="113.3" cy="82.3" rx="2.2" ry="1.5" fill="#d0f250" opacity="0.6"/>
<ellipse cx="113.3" cy="82.3" rx="1.7" ry="1.1" fill="#ffe41c" opacity="0.95"/>
<ellipse cx="113.3" cy="82.3" rx="1" ry="0.7" fill="#ff9410"/>
<ellipse cx="121.1" cy="76.6" rx="2" ry="1.3" fill="#6cecc4" opacity="0.7" transform="rotate(-35 121.1 76.6)"/>
<ellipse cx="121.1" cy="76.6" rx="1.4" ry="0.9" fill="#44dcec" opacity="0.8" transform="rotate(-35 121.1 76.6)"/>
<ellipse cx="121.1" cy="76.6" rx="0.8" ry="0.7" fill="#34c0fc" opacity="0.8" transform="rotate(-35 121.1 76.6)"/>
<ellipse cx="64.7" cy="82.3" rx="1.3" ry="1.3" fill="#6cecc4" opacity="0.7"/>
<ellipse cx="64.7" cy="82.3" rx="0.9" ry="0.9" fill="#44dcec" opacity="0.8"/>
<ellipse cx="64.7" cy="82.3" rx="0.7" ry="0.7" fill="#34c0fc" opacity="0.8"/>
<ellipse cx="77.6" cy="93" rx="2.2" ry="1.5" fill="#d0f250" opacity="0.6"/>
<ellipse cx="77.6" cy="93" rx="1.7" ry="1.1" fill="#ffe41c" opacity="0.95"/>
<ellipse cx="77.6" cy="93" rx="1" ry="0.7" fill="#ff9410"/>
<ellipse cx="85.4" cy="93.7" rx="2.2" ry="1.5" fill="#d0f250" opacity="0.6"/>
<ellipse cx="85.4" cy="93.7" rx="1.7" ry="1.1" fill="#ffe41c" opacity="0.95"/>
<ellipse cx="85.4" cy="93.7" rx="1" ry="0.7" fill="#ff9410"/>
<ellipse cx="70.4" cy="90.9" rx="2.2" ry="1.5" fill="#d0f250" opacity="0.6"/>
<ellipse cx="70.4" cy="90.9" rx="1.7" ry="1.1" fill="#ffe41c" opacity="0.95"/>
<ellipse cx="70.4" cy="90.9" rx="1" ry="0.7" fill="#ff9410"/>
</g></g>
<g clip-path="url(#cpd)">
<rect x="249.7" y="140.2" width="133.3" height="99.4" fill="#d4f248"/>
<g transform="rotate(-35 316.4 189.9)"><rect x="216.4" y="89.9" width="200" height="200" filter="url(#txd)"/></g>
<g filter="url(#bl)" transform="translate(252 142)">
<ellipse cx="41.4" cy="4" rx="3.2" ry="3.2" fill="#d8f24c" opacity="0.6"/>
<ellipse cx="41.4" cy="4" rx="2.5" ry="2.5" fill="#ffdc1c" opacity="0.95"/>
<ellipse cx="41.4" cy="4" rx="1.9" ry="1.9" fill="#ff7a10"/>
<ellipse cx="41.4" cy="4" rx="1.2" ry="1.2" fill="#ea1408"/>
<ellipse cx="48.6" cy="3.4" rx="1.6" ry="1.6" fill="#d8f24c" opacity="0.6"/>
<ellipse cx="48.6" cy="3.4" rx="1.3" ry="1.3" fill="#ffdc1c" opacity="0.95"/>
<ellipse cx="48.6" cy="3.4" rx="0.9" ry="0.9" fill="#ff7a10"/>
<ellipse cx="48.6" cy="3.4" rx="0.7" ry="0.7" fill="#ea1408"/>
<ellipse cx="53.6" cy="3.7" rx="3.2" ry="3.2" fill="#d8f24c" opacity="0.6"/>
<ellipse cx="53.6" cy="3.7" rx="2.5" ry="2.5" fill="#ffdc1c" opacity="0.95"/>
<ellipse cx="53.6" cy="3.7" rx="1.9" ry="1.9" fill="#ff7a10"/>
<ellipse cx="53.6" cy="3.7" rx="1.2" ry="1.2" fill="#ea1408"/>
<ellipse cx="52.9" cy="10.9" rx="1.6" ry="1.6" fill="#d8f24c" opacity="0.6"/>
<ellipse cx="52.9" cy="10.9" rx="1.3" ry="1.3" fill="#ffdc1c" opacity="0.95"/>
<ellipse cx="52.9" cy="10.9" rx="0.9" ry="0.9" fill="#ff7a10"/>
<ellipse cx="52.9" cy="10.9" rx="0.7" ry="0.7" fill="#ea1408"/>
<ellipse cx="53.6" cy="16.6" rx="2.4" ry="3.2" fill="#d8f24c" opacity="0.6"/>
<ellipse cx="53.6" cy="16.6" rx="1.9" ry="2.5" fill="#ffdc1c" opacity="0.95"/>
<ellipse cx="53.6" cy="16.6" rx="1.4" ry="1.9" fill="#ff7a10"/>
<ellipse cx="53.6" cy="16.6" rx="0.9" ry="1.2" fill="#ea1408"/>
<ellipse cx="30" cy="4.9" rx="1.4" ry="2.8" fill="#d0f250" opacity="0.6"/>
<ellipse cx="30" cy="4.9" rx="1.1" ry="2.1" fill="#ffe41c" opacity="0.95"/>
<ellipse cx="30" cy="4.9" rx="0.7" ry="1.3" fill="#ff9410"/>
<ellipse cx="36.4" cy="3" rx="1.4" ry="1.4" fill="#d0f250" opacity="0.6"/>
<ellipse cx="36.4" cy="3" rx="1.1" ry="1.1" fill="#ffe41c" opacity="0.95"/>
<ellipse cx="36.4" cy="3" rx="0.7" ry="0.7" fill="#ff9410"/>
<ellipse cx="21.4" cy="7.7" rx="1.4" ry="1.4" fill="#d0f250" opacity="0.6"/>
<ellipse cx="21.4" cy="7.7" rx="1.1" ry="1.1" fill="#ffe41c" opacity="0.95"/>
<ellipse cx="21.4" cy="7.7" rx="0.7" ry="0.7" fill="#ff9410"/>
<ellipse cx="22.1" cy="13.7" rx="1.4" ry="1.4" fill="#d0f250" opacity="0.6"/>
<ellipse cx="22.1" cy="13.7" rx="1.1" ry="1.1" fill="#ffe41c" opacity="0.95"/>
<ellipse cx="22.1" cy="13.7" rx="0.7" ry="0.7" fill="#ff9410"/>
<ellipse cx="38.6" cy="15.9" rx="2.4" ry="2.4" fill="#d8f24c" opacity="0.6"/>
<ellipse cx="38.6" cy="15.9" rx="1.9" ry="1.9" fill="#ffdc1c" opacity="0.95"/>
<ellipse cx="38.6" cy="15.9" rx="1.4" ry="1.4" fill="#ff7a10"/>
<ellipse cx="38.6" cy="15.9" rx="0.9" ry="0.9" fill="#ea1408"/>
<ellipse cx="38.6" cy="20.9" rx="1.4" ry="2.1" fill="#d0f250" opacity="0.6"/>
<ellipse cx="38.6" cy="20.9" rx="1.1" ry="1.6" fill="#ffe41c" opacity="0.95"/>
<ellipse cx="38.6" cy="20.9" rx="0.7" ry="0.9" fill="#ff9410"/>
<ellipse cx="46.4" cy="24.4" rx="2.4" ry="3.2" fill="#d8f24c" opacity="0.6"/>
<ellipse cx="46.4" cy="24.4" rx="1.9" ry="2.5" fill="#ffdc1c" opacity="0.95"/>
<ellipse cx="46.4" cy="24.4" rx="1.4" ry="1.9" fill="#ff7a10"/>
<ellipse cx="46.4" cy="24.4" rx="0.9" ry="1.2" fill="#ea1408"/>
<ellipse cx="35.7" cy="25.4" rx="4" ry="1.6" fill="#d8f24c" opacity="0.6" transform="rotate(-20 35.7 25.4)"/>
<ellipse cx="35.7" cy="25.4" rx="3.2" ry="1.3" fill="#ffdc1c" opacity="0.95" transform="rotate(-20 35.7 25.4)"/>
<ellipse cx="35.7" cy="25.4" rx="2.3" ry="0.9" fill="#ff7a10" transform="rotate(-20 35.7 25.4)"/>
<ellipse cx="35.7" cy="25.4" rx="1.5" ry="0.7" fill="#ea1408" transform="rotate(-20 35.7 25.4)"/>
<ellipse cx="9.3" cy="20.9" rx="2.4" ry="2.4" fill="#d8f24c" opacity="0.6"/>
<ellipse cx="9.3" cy="20.9" rx="1.9" ry="1.9" fill="#ffdc1c" opacity="0.95"/>
<ellipse cx="9.3" cy="20.9" rx="1.4" ry="1.4" fill="#ff7a10"/>
<ellipse cx="9.3" cy="20.9" rx="0.9" ry="0.9" fill="#ea1408"/>
<ellipse cx="12" cy="18.7" rx="1.4" ry="1.4" fill="#d0f250" opacity="0.6"/>
<ellipse cx="12" cy="18.7" rx="1.1" ry="1.1" fill="#ffe41c" opacity="0.95"/>
<ellipse cx="12" cy="18.7" rx="0.7" ry="0.7" fill="#ff9410"/>
<ellipse cx="20.7" cy="21.6" rx="2.8" ry="2.1" fill="#d0f250" opacity="0.6"/>
<ellipse cx="20.7" cy="21.6" rx="2.1" ry="1.6" fill="#ffe41c" opacity="0.95"/>
<ellipse cx="20.7" cy="21.6" rx="1.3" ry="0.9" fill="#ff9410"/>
<ellipse cx="18.6" cy="30.9" rx="3.2" ry="2.4" fill="#d8f24c" opacity="0.6"/>
<ellipse cx="18.6" cy="30.9" rx="2.5" ry="1.9" fill="#ffdc1c" opacity="0.95"/>
<ellipse cx="18.6" cy="30.9" rx="1.9" ry="1.4" fill="#ff7a10"/>
<ellipse cx="18.6" cy="30.9" rx="1.2" ry="0.9" fill="#ea1408"/>
<ellipse cx="4.3" cy="31.1" rx="3.2" ry="2.4" fill="#d8f24c" opacity="0.6" transform="rotate(-20 4.3 31.1)"/>
<ellipse cx="4.3" cy="31.1" rx="2.5" ry="1.9" fill="#ffdc1c" opacity="0.95" transform="rotate(-20 4.3 31.1)"/>
<ellipse cx="4.3" cy="31.1" rx="1.9" ry="1.4" fill="#ff7a10" transform="rotate(-20 4.3 31.1)"/>
<ellipse cx="4.3" cy="31.1" rx="1.2" ry="0.9" fill="#ea1408" transform="rotate(-20 4.3 31.1)"/>
<ellipse cx="14.3" cy="15.9" rx="2.8" ry="2.8" fill="#6cecc4" opacity="0.7"/>
<ellipse cx="14.3" cy="15.9" rx="2" ry="2" fill="#44dcec" opacity="0.8"/>
<ellipse cx="14.3" cy="15.9" rx="1.1" ry="1.1" fill="#34c0fc" opacity="0.8"/>
<ellipse cx="13.6" cy="24.4" rx="2.1" ry="1.4" fill="#6cecc4" opacity="0.7"/>
<ellipse cx="13.6" cy="24.4" rx="1.5" ry="1" fill="#44dcec" opacity="0.8"/>
<ellipse cx="13.6" cy="24.4" rx="0.8" ry="0.7" fill="#34c0fc" opacity="0.8"/>
<ellipse cx="30" cy="16.6" rx="2.1" ry="2.1" fill="#6cecc4" opacity="0.7"/>
<ellipse cx="30" cy="16.6" rx="1.5" ry="1.5" fill="#44dcec" opacity="0.8"/>
<ellipse cx="30" cy="16.6" rx="0.8" ry="0.8" fill="#34c0fc" opacity="0.8"/>
<ellipse cx="25.7" cy="26.6" rx="1.4" ry="1.4" fill="#6cecc4" opacity="0.7"/>
<ellipse cx="25.7" cy="26.6" rx="1" ry="1" fill="#44dcec" opacity="0.8"/>
<ellipse cx="25.7" cy="26.6" rx="0.7" ry="0.7" fill="#34c0fc" opacity="0.8"/>
<ellipse cx="18.6" cy="4.4" rx="2.1" ry="2.1" fill="#6cecc4" opacity="0.7"/>
<ellipse cx="18.6" cy="4.4" rx="1.5" ry="1.5" fill="#44dcec" opacity="0.8"/>
<ellipse cx="18.6" cy="4.4" rx="0.8" ry="0.8" fill="#34c0fc" opacity="0.8"/>
<ellipse cx="41.4" cy="32.3" rx="2.1" ry="1.4" fill="#d0f250" opacity="0.6"/>
<ellipse cx="41.4" cy="32.3" rx="1.6" ry="1.1" fill="#ffe41c" opacity="0.95"/>
<ellipse cx="41.4" cy="32.3" rx="0.9" ry="0.7" fill="#ff9410"/>
<ellipse cx="46.4" cy="13" rx="1.4" ry="1.4" fill="#d0f250" opacity="0.6"/>
<ellipse cx="46.4" cy="13" rx="1.1" ry="1.1" fill="#ffe41c" opacity="0.95"/>
<ellipse cx="46.4" cy="13" rx="0.7" ry="0.7" fill="#ff9410"/>
<ellipse cx="75.4" cy="4.4" rx="1.2" ry="1.2" fill="#58ecd0" opacity="0.7"/>
<ellipse cx="75.4" cy="4.4" rx="1.1" ry="1.1" fill="#38d0f4" opacity="0.7"/>
<ellipse cx="75.4" cy="4.4" rx="0.8" ry="0.8" fill="#1c84ff" opacity="0.95"/>
<ellipse cx="75.4" cy="4.4" rx="0.7" ry="0.7" fill="#1040f0"/>
<ellipse cx="69.7" cy="9.7" rx="4" ry="2.4" fill="#d8f24c" opacity="0.6" transform="rotate(-15 69.7 9.7)"/>
<ellipse cx="69.7" cy="9.7" rx="3.2" ry="1.9" fill="#ffdc1c" opacity="0.95" transform="rotate(-15 69.7 9.7)"/>
<ellipse cx="69.7" cy="9.7" rx="2.3" ry="1.4" fill="#ff7a10" transform="rotate(-15 69.7 9.7)"/>
<ellipse cx="69.7" cy="9.7" rx="1.5" ry="0.9" fill="#ea1408" transform="rotate(-15 69.7 9.7)"/>
<ellipse cx="88.3" cy="14" rx="4" ry="4.8" fill="#d8f24c" opacity="0.6" transform="rotate(20 88.3 14)"/>
<ellipse cx="88.3" cy="14" rx="3.3" ry="4" fill="#ffdc1c" opacity="0.95" transform="rotate(20 88.3 14)"/>
<ellipse cx="88.3" cy="14" rx="2.6" ry="3.1" fill="#ff6a10" transform="rotate(20 88.3 14)"/>
<ellipse cx="88.3" cy="14" rx="2" ry="2.4" fill="#e01008" transform="rotate(20 88.3 14)"/>
<ellipse cx="88.3" cy="14" rx="1.2" ry="1.4" fill="#a80000" transform="rotate(20 88.3 14)"/>
<ellipse cx="81.9" cy="3.4" rx="1.4" ry="1.4" fill="#d0f250" opacity="0.6"/>
<ellipse cx="81.9" cy="3.4" rx="1.1" ry="1.1" fill="#ffe41c" opacity="0.95"/>
<ellipse cx="81.9" cy="3.4" rx="0.7" ry="0.7" fill="#ff9410"/>
<ellipse cx="96.1" cy="3" rx="2.1" ry="1.4" fill="#d0f250" opacity="0.6"/>
<ellipse cx="96.1" cy="3" rx="1.6" ry="1.1" fill="#ffe41c" opacity="0.95"/>
<ellipse cx="96.1" cy="3" rx="0.9" ry="0.7" fill="#ff9410"/>
<ellipse cx="121.9" cy="8" rx="2.8" ry="2.1" fill="#d0f250" opacity="0.6"/>
<ellipse cx="121.9" cy="8" rx="2.1" ry="1.6" fill="#ffe41c" opacity="0.95"/>
<ellipse cx="121.9" cy="8" rx="1.3" ry="0.9" fill="#ff9410"/>
<ellipse cx="109" cy="8.3" rx="1.4" ry="1.4" fill="#d0f250" opacity="0.6"/>
<ellipse cx="109" cy="8.3" rx="1.1" ry="1.1" fill="#ffe41c" opacity="0.95"/>
<ellipse cx="109" cy="8.3" rx="0.7" ry="0.7" fill="#ff9410"/>
<ellipse cx="79" cy="15.9" rx="1.4" ry="1.4" fill="#d0f250" opacity="0.6"/>
<ellipse cx="79" cy="15.9" rx="1.1" ry="1.1" fill="#ffe41c" opacity="0.95"/>
<ellipse cx="79" cy="15.9" rx="0.7" ry="0.7" fill="#ff9410"/>
<ellipse cx="74" cy="20.9" rx="1.6" ry="1.6" fill="#d8f24c" opacity="0.6"/>
<ellipse cx="74" cy="20.9" rx="1.3" ry="1.3" fill="#ffdc1c" opacity="0.95"/>
<ellipse cx="74" cy="20.9" rx="0.9" ry="0.9" fill="#ff7a10"/>
<ellipse cx="74" cy="20.9" rx="0.7" ry="0.7" fill="#ea1408"/>
<ellipse cx="78.3" cy="20.1" rx="2.1" ry="1.4" fill="#d0f250" opacity="0.6" transform="rotate(-30 78.3 20.1)"/>
<ellipse cx="78.3" cy="20.1" rx="1.6" ry="1.1" fill="#ffe41c" opacity="0.95" transform="rotate(-30 78.3 20.1)"/>
<ellipse cx="78.3" cy="20.1" rx="0.9" ry="0.7" fill="#ff9410" transform="rotate(-30 78.3 20.1)"/>
<ellipse cx="108.3" cy="18" rx="1.2" ry="1.2" fill="#58ecd0" opacity="0.7"/>
<ellipse cx="108.3" cy="18" rx="1.1" ry="1.1" fill="#38d0f4" opacity="0.7"/>
<ellipse cx="108.3" cy="18" rx="0.8" ry="0.8" fill="#1c84ff" opacity="0.95"/>
<ellipse cx="108.3" cy="18" rx="0.7" ry="0.7" fill="#1040f0"/>
<ellipse cx="109" cy="23" rx="1.8" ry="1.8" fill="#58ecd0" opacity="0.7"/>
<ellipse cx="109" cy="23" rx="1.7" ry="1.7" fill="#38d0f4" opacity="0.7"/>
<ellipse cx="109" cy="23" rx="1.2" ry="1.2" fill="#1c84ff" opacity="0.95"/>
<ellipse cx="109" cy="23" rx="0.7" ry="0.7" fill="#1040f0"/>
<ellipse cx="113.3" cy="20.9" rx="2.1" ry="1.4" fill="#d0f250" opacity="0.6"/>
<ellipse cx="113.3" cy="20.9" rx="1.6" ry="1.1" fill="#ffe41c" opacity="0.95"/>
<ellipse cx="113.3" cy="20.9" rx="0.9" ry="0.7" fill="#ff9410"/>
<ellipse cx="122.6" cy="31.1" rx="4.8" ry="4" fill="#d8f24c" opacity="0.6" transform="rotate(-30 122.6 31.1)"/>
<ellipse cx="122.6" cy="31.1" rx="3.8" ry="3.2" fill="#ffdc1c" opacity="0.95" transform="rotate(-30 122.6 31.1)"/>
<ellipse cx="122.6" cy="31.1" rx="2.8" ry="2.3" fill="#ff7a10" transform="rotate(-30 122.6 31.1)"/>
<ellipse cx="122.6" cy="31.1" rx="1.8" ry="1.5" fill="#ea1408" transform="rotate(-30 122.6 31.1)"/>
<ellipse cx="91.1" cy="27.3" rx="1.4" ry="1.4" fill="#d0f250" opacity="0.6"/>
<ellipse cx="91.1" cy="27.3" rx="1.1" ry="1.1" fill="#ffe41c" opacity="0.95"/>
<ellipse cx="91.1" cy="27.3" rx="0.7" ry="0.7" fill="#ff9410"/>
<ellipse cx="85.4" cy="33" rx="1.6" ry="1.6" fill="#d8f24c" opacity="0.6"/>
<ellipse cx="85.4" cy="33" rx="1.3" ry="1.3" fill="#ffdc1c" opacity="0.95"/>
<ellipse cx="85.4" cy="33" rx="0.9" ry="0.9" fill="#ff7a10"/>
<ellipse cx="85.4" cy="33" rx="0.7" ry="0.7" fill="#ea1408"/>
<ellipse cx="101.9" cy="17.3" rx="2.1" ry="2.1" fill="#6cecc4" opacity="0.7"/>
<ellipse cx="101.9" cy="17.3" rx="1.5" ry="1.5" fill="#44dcec" opacity="0.8"/>
<ellipse cx="101.9" cy="17.3" rx="0.8" ry="0.8" fill="#34c0fc" opacity="0.8"/>
<ellipse cx="98.3" cy="6.6" rx="2.1" ry="1.4" fill="#6cecc4" opacity="0.7"/>
<ellipse cx="98.3" cy="6.6" rx="1.5" ry="1" fill="#44dcec" opacity="0.8"/>
<ellipse cx="98.3" cy="6.6" rx="0.8" ry="0.7" fill="#34c0fc" opacity="0.8"/>
<ellipse cx="5.7" cy="37.1" rx="2.4" ry="2.4" fill="#d8f24c" opacity="0.6"/>
<ellipse cx="5.7" cy="37.1" rx="1.9" ry="1.9" fill="#ffdc1c" opacity="0.95"/>
<ellipse cx="5.7" cy="37.1" rx="1.4" ry="1.4" fill="#ff7a10"/>
<ellipse cx="5.7" cy="37.1" rx="0.9" ry="0.9" fill="#ea1408"/>
<ellipse cx="2.1" cy="41.9" rx="1.8" ry="1.2" fill="#58ecd0" opacity="0.7"/>
<ellipse cx="2.1" cy="41.9" rx="1.7" ry="1.1" fill="#38d0f4" opacity="0.7"/>
<ellipse cx="2.1" cy="41.9" rx="1.2" ry="0.8" fill="#1c84ff" opacity="0.95"/>
<ellipse cx="2.1" cy="41.9" rx="0.7" ry="0.7" fill="#1040f0"/>
<ellipse cx="20" cy="41.1" rx="1.8" ry="1.2" fill="#58ecd0" opacity="0.7"/>
<ellipse cx="20" cy="41.1" rx="1.7" ry="1.1" fill="#38d0f4" opacity="0.7"/>
<ellipse cx="20" cy="41.1" rx="1.2" ry="0.8" fill="#1c84ff" opacity="0.95"/>
<ellipse cx="20" cy="41.1" rx="0.7" ry="0.7" fill="#1040f0"/>
<ellipse cx="24" cy="42" rx="2.8" ry="1.4" fill="#6cecc4" opacity="0.7"/>
<ellipse cx="24" cy="42" rx="2" ry="1" fill="#44dcec" opacity="0.8"/>
<ellipse cx="24" cy="42" rx="1.1" ry="0.7" fill="#34c0fc" opacity="0.8"/>
<ellipse cx="33.6" cy="35.4" rx="2.4" ry="1.6" fill="#d8f24c" opacity="0.6"/>
<ellipse cx="33.6" cy="35.4" rx="1.9" ry="1.3" fill="#ffdc1c" opacity="0.95"/>
<ellipse cx="33.6" cy="35.4" rx="1.4" ry="0.9" fill="#ff7a10"/>
<ellipse cx="33.6" cy="35.4" rx="0.9" ry="0.7" fill="#ea1408"/>
<ellipse cx="12.1" cy="44.3" rx="4.3" ry="1.1" fill="#d0f250" opacity="0.6"/>
<ellipse cx="12.1" cy="44.3" rx="3.2" ry="0.8" fill="#ffe41c" opacity="0.95"/>
<ellipse cx="12.1" cy="44.3" rx="1.9" ry="0.7" fill="#ff9410"/>
<ellipse cx="37.4" cy="44.3" rx="3.2" ry="2.4" fill="#d8f24c" opacity="0.6" transform="rotate(-20 37.4 44.3)"/>
<ellipse cx="37.4" cy="44.3" rx="2.5" ry="1.9" fill="#ffdc1c" opacity="0.95" transform="rotate(-20 37.4 44.3)"/>
<ellipse cx="37.4" cy="44.3" rx="1.9" ry="1.4" fill="#ff7a10" transform="rotate(-20 37.4 44.3)"/>
<ellipse cx="37.4" cy="44.3" rx="1.2" ry="0.9" fill="#ea1408" transform="rotate(-20 37.4 44.3)"/>
<ellipse cx="31.4" cy="49" rx="2.4" ry="1.6" fill="#d8f24c" opacity="0.6" transform="rotate(-20 31.4 49)"/>
<ellipse cx="31.4" cy="49" rx="1.9" ry="1.3" fill="#ffdc1c" opacity="0.95" transform="rotate(-20 31.4 49)"/>
<ellipse cx="31.4" cy="49" rx="1.4" ry="0.9" fill="#ff7a10" transform="rotate(-20 31.4 49)"/>
<ellipse cx="31.4" cy="49" rx="0.9" ry="0.7" fill="#ea1408" transform="rotate(-20 31.4 49)"/>
<ellipse cx="42.9" cy="40.9" rx="1.2" ry="1.2" fill="#58ecd0" opacity="0.7"/>
<ellipse cx="42.9" cy="40.9" rx="1.1" ry="1.1" fill="#38d0f4" opacity="0.7"/>
<ellipse cx="42.9" cy="40.9" rx="0.8" ry="0.8" fill="#1c84ff" opacity="0.95"/>
<ellipse cx="42.9" cy="40.9" rx="0.7" ry="0.7" fill="#1040f0"/>
<ellipse cx="57.9" cy="51.1" rx="2.8" ry="1.4" fill="#d0f250" opacity="0.6"/>
<ellipse cx="57.9" cy="51.1" rx="2.1" ry="1.1" fill="#ffe41c" opacity="0.95"/>
<ellipse cx="57.9" cy="51.1" rx="1.3" ry="0.7" fill="#ff9410"/>
<ellipse cx="61.4" cy="48.3" rx="1.4" ry="1.4" fill="#d0f250" opacity="0.6"/>
<ellipse cx="61.4" cy="48.3" rx="1.1" ry="1.1" fill="#ffe41c" opacity="0.95"/>
<ellipse cx="61.4" cy="48.3" rx="0.7" ry="0.7" fill="#ff9410"/>
<ellipse cx="26.4" cy="58.6" rx="1.2" ry="1.2" fill="#58ecd0" opacity="0.7"/>
<ellipse cx="26.4" cy="58.6" rx="1.1" ry="1.1" fill="#38d0f4" opacity="0.7"/>
<ellipse cx="26.4" cy="58.6" rx="0.8" ry="0.8" fill="#1c84ff" opacity="0.95"/>
<ellipse cx="26.4" cy="58.6" rx="0.7" ry="0.7" fill="#1040f0"/>
<ellipse cx="44.6" cy="63.7" rx="1.2" ry="1.8" fill="#58ecd0" opacity="0.7"/>
<ellipse cx="44.6" cy="63.7" rx="1.1" ry="1.7" fill="#38d0f4" opacity="0.7"/>
<ellipse cx="44.6" cy="63.7" rx="0.8" ry="1.2" fill="#1c84ff" opacity="0.95"/>
<ellipse cx="44.6" cy="63.7" rx="0.7" ry="0.7" fill="#1040f0"/>
<ellipse cx="25" cy="65.4" rx="4" ry="1.6" fill="#d8f24c" opacity="0.6" transform="rotate(-10 25 65.4)"/>
<ellipse cx="25" cy="65.4" rx="3.2" ry="1.3" fill="#ffdc1c" opacity="0.95" transform="rotate(-10 25 65.4)"/>
<ellipse cx="25" cy="65.4" rx="2.3" ry="0.9" fill="#ff7a10" transform="rotate(-10 25 65.4)"/>
<ellipse cx="25" cy="65.4" rx="1.5" ry="0.7" fill="#ea1408" transform="rotate(-10 25 65.4)"/>
<ellipse cx="5" cy="50.4" rx="2.1" ry="1.4" fill="#6cecc4" opacity="0.7"/>
<ellipse cx="5" cy="50.4" rx="1.5" ry="1" fill="#44dcec" opacity="0.8"/>
<ellipse cx="5" cy="50.4" rx="0.8" ry="0.7" fill="#34c0fc" opacity="0.8"/>
<ellipse cx="7.1" cy="56.9" rx="2.1" ry="1.4" fill="#6cecc4" opacity="0.7"/>
<ellipse cx="7.1" cy="56.9" rx="1.5" ry="1" fill="#44dcec" opacity="0.8"/>
<ellipse cx="7.1" cy="56.9" rx="0.8" ry="0.7" fill="#34c0fc" opacity="0.8"/>
<ellipse cx="57.1" cy="60.4" rx="2.1" ry="1.4" fill="#6cecc4" opacity="0.7"/>
<ellipse cx="57.1" cy="60.4" rx="1.5" ry="1" fill="#44dcec" opacity="0.8"/>
<ellipse cx="57.1" cy="60.4" rx="0.8" ry="0.7" fill="#34c0fc" opacity="0.8"/>
<ellipse cx="11.4" cy="68.3" rx="2.1" ry="1.4" fill="#d0f250" opacity="0.6"/>
<ellipse cx="11.4" cy="68.3" rx="1.6" ry="1.1" fill="#ffe41c" opacity="0.95"/>
<ellipse cx="11.4" cy="68.3" rx="0.9" ry="0.7" fill="#ff9410"/>
<ellipse cx="121.1" cy="35.1" rx="3.2" ry="3.2" fill="#d8f24c" opacity="0.6"/>
<ellipse cx="121.1" cy="35.1" rx="2.5" ry="2.5" fill="#ffdc1c" opacity="0.95"/>
<ellipse cx="121.1" cy="35.1" rx="1.9" ry="1.9" fill="#ff7a10"/>
<ellipse cx="121.1" cy="35.1" rx="1.2" ry="1.2" fill="#ea1408"/>
<ellipse cx="84.7" cy="38.3" rx="2.4" ry="2.4" fill="#d8f24c" opacity="0.6"/>
<ellipse cx="84.7" cy="38.3" rx="1.9" ry="1.9" fill="#ffdc1c" opacity="0.95"/>
<ellipse cx="84.7" cy="38.3" rx="1.4" ry="1.4" fill="#ff7a10"/>
<ellipse cx="84.7" cy="38.3" rx="0.9" ry="0.9" fill="#ea1408"/>
<ellipse cx="70.4" cy="42.6" rx="1.4" ry="2.8" fill="#d0f250" opacity="0.6"/>
<ellipse cx="70.4" cy="42.6" rx="1.1" ry="2.1" fill="#ffe41c" opacity="0.95"/>
<ellipse cx="70.4" cy="42.6" rx="0.7" ry="1.3" fill="#ff9410"/>
<ellipse cx="94.7" cy="49.7" rx="2.4" ry="2.4" fill="#d8f24c" opacity="0.6" transform="rotate(-35 94.7 49.7)"/>
<ellipse cx="94.7" cy="49.7" rx="1.9" ry="1.9" fill="#ffdc1c" opacity="0.95" transform="rotate(-35 94.7 49.7)"/>
<ellipse cx="94.7" cy="49.7" rx="1.4" ry="1.4" fill="#ff7a10" transform="rotate(-35 94.7 49.7)"/>
<ellipse cx="94.7" cy="49.7" rx="0.9" ry="0.9" fill="#ea1408" transform="rotate(-35 94.7 49.7)"/>
<ellipse cx="92" cy="51.5" rx="2.1" ry="1.4" fill="#d0f250" opacity="0.6" transform="rotate(-35 92 51.5)"/>
<ellipse cx="92" cy="51.5" rx="1.6" ry="1.1" fill="#ffe41c" opacity="0.95" transform="rotate(-35 92 51.5)"/>
<ellipse cx="92" cy="51.5" rx="0.9" ry="0.7" fill="#ff9410" transform="rotate(-35 92 51.5)"/>
<ellipse cx="104.7" cy="48.3" rx="1.4" ry="2.1" fill="#d0f250" opacity="0.6"/>
<ellipse cx="104.7" cy="48.3" rx="1.1" ry="1.6" fill="#ffe41c" opacity="0.95"/>
<ellipse cx="104.7" cy="48.3" rx="0.7" ry="0.9" fill="#ff9410"/>
<ellipse cx="119.7" cy="46.1" rx="2.8" ry="1.4" fill="#d0f250" opacity="0.6" transform="rotate(-20 119.7 46.1)"/>
<ellipse cx="119.7" cy="46.1" rx="2.1" ry="1.1" fill="#ffe41c" opacity="0.95" transform="rotate(-20 119.7 46.1)"/>
<ellipse cx="119.7" cy="46.1" rx="1.3" ry="0.7" fill="#ff9410" transform="rotate(-20 119.7 46.1)"/>
<ellipse cx="125.4" cy="49.7" rx="2.1" ry="1.4" fill="#d0f250" opacity="0.6"/>
<ellipse cx="125.4" cy="49.7" rx="1.6" ry="1.1" fill="#ffe41c" opacity="0.95"/>
<ellipse cx="125.4" cy="49.7" rx="0.9" ry="0.7" fill="#ff9410"/>
<ellipse cx="68.3" cy="59.7" rx="2.8" ry="1.4" fill="#d0f250" opacity="0.6" transform="rotate(-35 68.3 59.7)"/>
<ellipse cx="68.3" cy="59.7" rx="2.1" ry="1.1" fill="#ffe41c" opacity="0.95" transform="rotate(-35 68.3 59.7)"/>
<ellipse cx="68.3" cy="59.7" rx="1.3" ry="0.7" fill="#ff9410" transform="rotate(-35 68.3 59.7)"/>
<ellipse cx="99.7" cy="59.7" rx="1.4" ry="2.8" fill="#d0f250" opacity="0.6"/>
<ellipse cx="99.7" cy="59.7" rx="1.1" ry="2.1" fill="#ffe41c" opacity="0.95"/>
<ellipse cx="99.7" cy="59.7" rx="0.7" ry="1.3" fill="#ff9410"/>
<ellipse cx="100.4" cy="56.1" rx="1.4" ry="1.4" fill="#d0f250" opacity="0.6"/>
<ellipse cx="100.4" cy="56.1" rx="1.1" ry="1.1" fill="#ffe41c" opacity="0.95"/>
<ellipse cx="100.4" cy="56.1" rx="0.7" ry="0.7" fill="#ff9410"/>
<ellipse cx="120.4" cy="60.4" rx="2.1" ry="1.4" fill="#d0f250" opacity="0.6"/>
<ellipse cx="120.4" cy="60.4" rx="1.6" ry="1.1" fill="#ffe41c" opacity="0.95"/>
<ellipse cx="120.4" cy="60.4" rx="0.9" ry="0.7" fill="#ff9410"/>
<ellipse cx="102.6" cy="68.3" rx="2.1" ry="1.4" fill="#d0f250" opacity="0.6"/>
<ellipse cx="102.6" cy="68.3" rx="1.6" ry="1.1" fill="#ffe41c" opacity="0.95"/>
<ellipse cx="102.6" cy="68.3" rx="0.9" ry="0.7" fill="#ff9410"/>
<ellipse cx="98.3" cy="42.6" rx="2.1" ry="2.1" fill="#6cecc4" opacity="0.7"/>
<ellipse cx="98.3" cy="42.6" rx="1.5" ry="1.5" fill="#44dcec" opacity="0.8"/>
<ellipse cx="98.3" cy="42.6" rx="0.8" ry="0.8" fill="#34c0fc" opacity="0.8"/>
<ellipse cx="85.4" cy="59" rx="2.8" ry="1.4" fill="#6cecc4" opacity="0.7"/>
<ellipse cx="85.4" cy="59" rx="2" ry="1" fill="#44dcec" opacity="0.8"/>
<ellipse cx="85.4" cy="59" rx="1.1" ry="0.7" fill="#34c0fc" opacity="0.8"/>
<ellipse cx="89.7" cy="45.4" rx="2.1" ry="1.4" fill="#6cecc4" opacity="0.7"/>
<ellipse cx="89.7" cy="45.4" rx="1.5" ry="1" fill="#44dcec" opacity="0.8"/>
<ellipse cx="89.7" cy="45.4" rx="0.8" ry="0.7" fill="#34c0fc" opacity="0.8"/>
<ellipse cx="114.7" cy="39" rx="2.1" ry="1.4" fill="#6cecc4" opacity="0.7"/>
<ellipse cx="114.7" cy="39" rx="1.5" ry="1" fill="#44dcec" opacity="0.8"/>
<ellipse cx="114.7" cy="39" rx="0.8" ry="0.7" fill="#34c0fc" opacity="0.8"/>
<ellipse cx="126.1" cy="55.4" rx="1.4" ry="2.1" fill="#6cecc4" opacity="0.7"/>
<ellipse cx="126.1" cy="55.4" rx="1" ry="1.5" fill="#44dcec" opacity="0.8"/>
<ellipse cx="126.1" cy="55.4" rx="0.7" ry="0.8" fill="#34c0fc" opacity="0.8"/>
<ellipse cx="66.9" cy="46.9" rx="1.4" ry="1.4" fill="#6cecc4" opacity="0.7"/>
<ellipse cx="66.9" cy="46.9" rx="1" ry="1" fill="#44dcec" opacity="0.8"/>
<ellipse cx="66.9" cy="46.9" rx="0.7" ry="0.7" fill="#34c0fc" opacity="0.8"/>
<ellipse cx="36.9" cy="73" rx="3.2" ry="2.4" fill="#d8f24c" opacity="0.6" transform="rotate(-30 36.9 73)"/>
<ellipse cx="36.9" cy="73" rx="2.5" ry="1.9" fill="#ffdc1c" opacity="0.95" transform="rotate(-30 36.9 73)"/>
<ellipse cx="36.9" cy="73" rx="1.9" ry="1.4" fill="#ff7a10" transform="rotate(-30 36.9 73)"/>
<ellipse cx="36.9" cy="73" rx="1.2" ry="0.9" fill="#ea1408" transform="rotate(-30 36.9 73)"/>
<ellipse cx="30" cy="84.9" rx="4.8" ry="1.6" fill="#d8f24c" opacity="0.6" transform="rotate(-30 30 84.9)"/>
<ellipse cx="30" cy="84.9" rx="3.8" ry="1.3" fill="#ffdc1c" opacity="0.95" transform="rotate(-30 30 84.9)"/>
<ellipse cx="30" cy="84.9" rx="2.8" ry="0.9" fill="#ff7a10" transform="rotate(-30 30 84.9)"/>
<ellipse cx="30" cy="84.9" rx="1.8" ry="0.7" fill="#ea1408" transform="rotate(-30 30 84.9)"/>
<ellipse cx="39.3" cy="82" rx="2.8" ry="1.4" fill="#d0f250" opacity="0.6" transform="rotate(-30 39.3 82)"/>
<ellipse cx="39.3" cy="82" rx="2.1" ry="1.1" fill="#ffe41c" opacity="0.95" transform="rotate(-30 39.3 82)"/>
<ellipse cx="39.3" cy="82" rx="1.3" ry="0.7" fill="#ff9410" transform="rotate(-30 39.3 82)"/>
<ellipse cx="24.6" cy="88.7" rx="2" ry="2.6" fill="#58ecd0" opacity="0.7"/>
<ellipse cx="24.6" cy="88.7" rx="2" ry="2.6" fill="#38d0f4" opacity="0.7"/>
<ellipse cx="24.6" cy="88.7" rx="1.5" ry="2" fill="#1870ff" opacity="0.95"/>
<ellipse cx="24.6" cy="88.7" rx="1" ry="1.4" fill="#0c28e0"/>
<ellipse cx="24.6" cy="88.7" rx="0.7" ry="0.7" fill="#0810b0"/>
<ellipse cx="51.4" cy="88" rx="4" ry="1.6" fill="#d8f24c" opacity="0.6" transform="rotate(-5 51.4 88)"/>
<ellipse cx="51.4" cy="88" rx="3.2" ry="1.3" fill="#ffdc1c" opacity="0.95" transform="rotate(-5 51.4 88)"/>
<ellipse cx="51.4" cy="88" rx="2.3" ry="0.9" fill="#ff7a10" transform="rotate(-5 51.4 88)"/>
<ellipse cx="51.4" cy="88" rx="1.5" ry="0.7" fill="#ea1408" transform="rotate(-5 51.4 88)"/>
<ellipse cx="62.9" cy="90.9" rx="2.4" ry="1.6" fill="#d8f24c" opacity="0.6"/>
<ellipse cx="62.9" cy="90.9" rx="1.9" ry="1.3" fill="#ffdc1c" opacity="0.95"/>
<ellipse cx="62.9" cy="90.9" rx="1.4" ry="0.9" fill="#ff7a10"/>
<ellipse cx="62.9" cy="90.9" rx="0.9" ry="0.7" fill="#ea1408"/>
<ellipse cx="14.3" cy="82.3" rx="2.1" ry="1.4" fill="#d0f250" opacity="0.6"/>
<ellipse cx="14.3" cy="82.3" rx="1.6" ry="1.1" fill="#ffe41c" opacity="0.95"/>
<ellipse cx="14.3" cy="82.3" rx="0.9" ry="0.7" fill="#ff9410"/>
<ellipse cx="6.4" cy="89.4" rx="2.1" ry="1.4" fill="#d0f250" opacity="0.6"/>
<ellipse cx="6.4" cy="89.4" rx="1.6" ry="1.1" fill="#ffe41c" opacity="0.95"/>
<ellipse cx="6.4" cy="89.4" rx="0.9" ry="0.7" fill="#ff9410"/>
<ellipse cx="17.9" cy="73" rx="1.4" ry="1.4" fill="#d0f250" opacity="0.6"/>
<ellipse cx="17.9" cy="73" rx="1.1" ry="1.1" fill="#ffe41c" opacity="0.95"/>
<ellipse cx="17.9" cy="73" rx="0.7" ry="0.7" fill="#ff9410"/>
<ellipse cx="49.3" cy="77.3" rx="1.4" ry="2.1" fill="#d0f250" opacity="0.6"/>
<ellipse cx="49.3" cy="77.3" rx="1.1" ry="1.6" fill="#ffe41c" opacity="0.95"/>
<ellipse cx="49.3" cy="77.3" rx="0.7" ry="0.9" fill="#ff9410"/>
<ellipse cx="25.7" cy="78" rx="2.1" ry="1.4" fill="#6cecc4" opacity="0.7"/>
<ellipse cx="25.7" cy="78" rx="1.5" ry="1" fill="#44dcec" opacity="0.8"/>
<ellipse cx="25.7" cy="78" rx="0.8" ry="0.7" fill="#34c0fc" opacity="0.8"/>
<ellipse cx="44.3" cy="78" rx="2.1" ry="2.1" fill="#6cecc4" opacity="0.7"/>
<ellipse cx="44.3" cy="78" rx="1.5" ry="1.5" fill="#44dcec" opacity="0.8"/>
<ellipse cx="44.3" cy="78" rx="0.8" ry="0.8" fill="#34c0fc" opacity="0.8"/>
<ellipse cx="8.6" cy="84.4" rx="2.1" ry="1.4" fill="#6cecc4" opacity="0.7"/>
<ellipse cx="8.6" cy="84.4" rx="1.5" ry="1" fill="#44dcec" opacity="0.8"/>
<ellipse cx="8.6" cy="84.4" rx="0.8" ry="0.7" fill="#34c0fc" opacity="0.8"/>
<ellipse cx="69.4" cy="83" rx="2.4" ry="3.2" fill="#d8f24c" opacity="0.6"/>
<ellipse cx="69.4" cy="83" rx="1.9" ry="2.5" fill="#ffdc1c" opacity="0.95"/>
<ellipse cx="69.4" cy="83" rx="1.4" ry="1.9" fill="#ff7a10"/>
<ellipse cx="69.4" cy="83" rx="0.9" ry="1.2" fill="#ea1408"/>
<ellipse cx="74.7" cy="77.7" rx="2.4" ry="1.6" fill="#d8f24c" opacity="0.6"/>
<ellipse cx="74.7" cy="77.7" rx="1.9" ry="1.3" fill="#ffdc1c" opacity="0.95"/>
<ellipse cx="74.7" cy="77.7" rx="1.4" ry="0.9" fill="#ff7a10"/>
<ellipse cx="74.7" cy="77.7" rx="0.9" ry="0.7" fill="#ea1408"/>
<ellipse cx="94.7" cy="82.3" rx="2.1" ry="1.4" fill="#d0f250" opacity="0.6" transform="rotate(-20 94.7 82.3)"/>
<ellipse cx="94.7" cy="82.3" rx="1.6" ry="1.1" fill="#ffe41c" opacity="0.95" transform="rotate(-20 94.7 82.3)"/>
<ellipse cx="94.7" cy="82.3" rx="0.9" ry="0.7" fill="#ff9410" transform="rotate(-20 94.7 82.3)"/>
<ellipse cx="99.7" cy="83" rx="1.4" ry="1.4" fill="#d0f250" opacity="0.6"/>
<ellipse cx="99.7" cy="83" rx="1.1" ry="1.1" fill="#ffe41c" opacity="0.95"/>
<ellipse cx="99.7" cy="83" rx="0.7" ry="0.7" fill="#ff9410"/>
<ellipse cx="125.4" cy="83.7" rx="4" ry="3.2" fill="#d8f24c" opacity="0.6" transform="rotate(-20 125.4 83.7)"/>
<ellipse cx="125.4" cy="83.7" rx="3.2" ry="2.5" fill="#ffdc1c" opacity="0.95" transform="rotate(-20 125.4 83.7)"/>
<ellipse cx="125.4" cy="83.7" rx="2.3" ry="1.9" fill="#ff7a10" transform="rotate(-20 125.4 83.7)"/>
<ellipse cx="125.4" cy="83.7" rx="1.5" ry="1.2" fill="#ea1408" transform="rotate(-20 125.4 83.7)"/>
<ellipse cx="109.7" cy="75.9" rx="1.4" ry="1.4" fill="#6cecc4" opacity="0.7"/>
<ellipse cx="109.7" cy="75.9" rx="1" ry="1" fill="#44dcec" opacity="0.8"/>
<ellipse cx="109.7" cy="75.9" rx="0.7" ry="0.7" fill="#34c0fc" opacity="0.8"/>
<ellipse cx="70.4" cy="89.4" rx="1.4" ry="2.1" fill="#d0f250" opacity="0.6"/>
<ellipse cx="70.4" cy="89.4" rx="1.1" ry="1.6" fill="#ffe41c" opacity="0.95"/>
<ellipse cx="70.4" cy="89.4" rx="0.7" ry="0.9" fill="#ff9410"/>
<ellipse cx="101.9" cy="90.9" rx="1.4" ry="1.4" fill="#d0f250" opacity="0.6"/>
<ellipse cx="101.9" cy="90.9" rx="1.1" ry="1.1" fill="#ffe41c" opacity="0.95"/>
<ellipse cx="101.9" cy="90.9" rx="0.7" ry="0.7" fill="#ff9410"/>
<ellipse cx="102.6" cy="69.4" rx="1.4" ry="1.4" fill="#d0f250" opacity="0.6"/>
<ellipse cx="102.6" cy="69.4" rx="1.1" ry="1.1" fill="#ffe41c" opacity="0.95"/>
<ellipse cx="102.6" cy="69.4" rx="0.7" ry="0.7" fill="#ff9410"/>
<ellipse cx="64.5" cy="90.9" rx="1.4" ry="2.1" fill="#d0f250" opacity="0.6"/>
<ellipse cx="64.5" cy="90.9" rx="1.1" ry="1.6" fill="#ffe41c" opacity="0.95"/>
<ellipse cx="64.5" cy="90.9" rx="0.7" ry="0.9" fill="#ff9410"/>
<ellipse cx="123.3" cy="89.4" rx="1.4" ry="2.1" fill="#d0f250" opacity="0.6"/>
<ellipse cx="123.3" cy="89.4" rx="1.1" ry="1.6" fill="#ffe41c" opacity="0.95"/>
<ellipse cx="123.3" cy="89.4" rx="0.7" ry="0.9" fill="#ff9410"/>
</g></g>
<path d="M89.8 23V118.2" stroke="#1c1c1c" stroke-width="0.8" fill="none"/>
<path d="M89.5 118.2H219.3" stroke="#2a2a10" stroke-width="0.9" fill="none"/>
<path d="M90.6 118.2v3.3M111.4 118.2v1.5M132.3 118.2v3.3M153.1 118.2v1.5M173.9 118.2v3.3M194.8 118.2v1.5M215.6 118.2v3.3M90 25.9h-4.2M90 41.2h-2M90 56.6h-4.2M90 71.9h-2M90 87.3h-4.2M90 102.7h-2M90 118h-4.2" stroke="#181818" stroke-width="1" fill="none"/>
<text x="90.6" y="127" class="tk" text-anchor="middle">0</text>
<text x="132" y="127" class="tk" text-anchor="middle">2</text>
<text x="173.6" y="127" class="tk" text-anchor="middle">4</text>
<text x="215.6" y="127" class="tk" text-anchor="middle">6</text>
<text x="84.4" y="120" class="tk" text-anchor="end">0</text>
<text x="84.4" y="89.3" class="tk" text-anchor="end">2</text>
<text x="84.4" y="58.6" class="tk" text-anchor="end">4</text>
<text x="84.4" y="27.9" class="tk" text-anchor="end">6</text>
<path d="M251.5 22.2V117.8" stroke="#3c3c3c" stroke-width="0.6" fill="none"/>
<path d="M251.2 117.8H381" stroke="#2a2a10" stroke-width="0.9" fill="none"/>
<path d="M252.6 117.8v3.3M273.3 117.8v1.5M294 117.8v3.3M314.7 117.8v1.5M335.4 117.8v3.3M356.1 117.8v1.5M376.8 117.8v3.3M251.7 25h-4.2M251.7 40.5h-2M251.7 56h-4.2M251.7 71.5h-2M251.7 86.9h-4.2M251.7 102.4h-2M251.7 117.9h-4.2" stroke="#181818" stroke-width="1" fill="none"/>
<text x="252.6" y="126.6" class="tk" text-anchor="middle">0</text>
<text x="293.4" y="126.6" class="tk" text-anchor="middle">2</text>
<text x="335.2" y="126.6" class="tk" text-anchor="middle">4</text>
<text x="376.8" y="126.6" class="tk" text-anchor="middle">6</text>
<text x="246.1" y="119.9" class="tk" text-anchor="end">0</text>
<text x="246.1" y="88.9" class="tk" text-anchor="end">2</text>
<text x="246.1" y="58" class="tk" text-anchor="end">4</text>
<text x="246.1" y="27" class="tk" text-anchor="end">6</text>
<path d="M89.8 142.2V237.6" stroke="#1c1c1c" stroke-width="0.8" fill="none"/>
<path d="M89.5 237.6H219.3" stroke="#2a2a10" stroke-width="0.9" fill="none"/>
<path d="M90.6 237.6v3.3M111.4 237.6v1.5M132.3 237.6v3.3M153.1 237.6v1.5M173.9 237.6v3.3M194.8 237.6v1.5M215.6 237.6v3.3M90 145.1h-4.2M90 160.5h-2M90 175.9h-4.2M90 191.2h-2M90 206.6h-4.2M90 222h-2M90 237.4h-4.2" stroke="#181818" stroke-width="1" fill="none"/>
<text x="90.6" y="246.4" class="tk" text-anchor="middle">0</text>
<text x="132" y="246.4" class="tk" text-anchor="middle">2</text>
<text x="173.6" y="246.4" class="tk" text-anchor="middle">4</text>
<text x="215.6" y="246.4" class="tk" text-anchor="middle">6</text>
<text x="84.4" y="239.4" class="tk" text-anchor="end">0</text>
<text x="84.4" y="208.6" class="tk" text-anchor="end">2</text>
<text x="84.4" y="177.8" class="tk" text-anchor="end">4</text>
<text x="84.4" y="147.1" class="tk" text-anchor="end">6</text>
<path d="M251.5 142.2V237.6" stroke="#3c3c3c" stroke-width="0.6" fill="none"/>
<path d="M251.2 237.6H381" stroke="#2a2a10" stroke-width="0.9" fill="none"/>
<path d="M252.6 237.6v3.3M273.3 237.6v1.5M294 237.6v3.3M314.7 237.6v1.5M335.4 237.6v3.3M356.1 237.6v1.5M376.8 237.6v3.3M251.7 144.9h-4.2M251.7 160.3h-2M251.7 175.7h-4.2M251.7 191.2h-2M251.7 206.6h-4.2M251.7 222h-2M251.7 237.4h-4.2" stroke="#181818" stroke-width="1" fill="none"/>
<text x="252.6" y="246.4" class="tk" text-anchor="middle">0</text>
<text x="293.4" y="246.4" class="tk" text-anchor="middle">2</text>
<text x="335.2" y="246.4" class="tk" text-anchor="middle">4</text>
<text x="376.8" y="246.4" class="tk" text-anchor="middle">6</text>
<text x="246.1" y="239.4" class="tk" text-anchor="end">0</text>
<text x="246.1" y="208.6" class="tk" text-anchor="end">2</text>
<text x="246.1" y="177.8" class="tk" text-anchor="end">4</text>
<text x="246.1" y="146.9" class="tk" text-anchor="end">6</text>
<rect x="217.6" y="1.8" width="53.6" height="5.8" fill="url(#jet)"/>
<text x="218" y="13.1" class="cb" text-anchor="middle">0</text>
<text x="244.6" y="13.1" class="cb" text-anchor="middle">0.5</text>
<text x="270.6" y="13.1" class="cb" text-anchor="middle">1</text>
<text x="197.6" y="8.8" class="tau">τ</text>
<text x="207.3" y="3.9" class="sup">d</text>
<text x="205" y="11.2" class="sub">12</text>
<text x="66.4" y="21.2" class="pl">(<tspan class="it">a</tspan>)</text>
<text x="229.6" y="21.2" class="pl">(<tspan class="it">b</tspan>)</text>
<text x="66.9" y="141.2" class="pl">(<tspan class="it">c</tspan>)</text>
<text x="229.7" y="141.4" class="pl">(<tspan class="it">d</tspan>)</text>
<text x="152.8" y="135.5" class="tt" text-anchor="middle">fDNS</text>
<text x="316.5" y="135.3" class="tt" text-anchor="middle">ANN</text>
<text x="153.1" y="252.8" class="tt" text-anchor="middle" style="font-size:12.9px">DCM</text>
<text x="316.8" y="252.8" class="tt" text-anchor="middle" style="font-size:12.9px">DSM</text>
</svg>
</body></html>
